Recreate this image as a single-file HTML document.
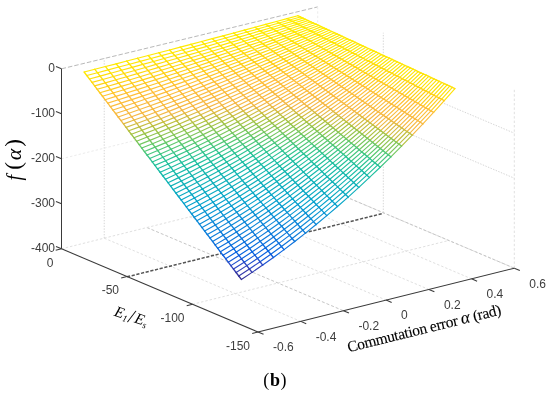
<!DOCTYPE html>
<html><head><meta charset="utf-8"><title>f(α) mesh plot</title>
<style>html,body{margin:0;padding:0;background:#fff}svg{display:block}</style></head>
<body>
<svg width="550" height="395" viewBox="0 0 550 395">
<rect width="550" height="395" fill="#fff"/>
<g fill="none">
<line x1="104.22" y1="238.17" x2="300.72" y2="321.37" stroke="#e0e0e0" stroke-width="1" stroke-dasharray="2.4 2"/>
<line x1="146.93" y1="227.53" x2="343.43" y2="310.73" stroke="#c6c6c6" stroke-width="1" stroke-dasharray="3 2"/>
<line x1="189.65" y1="216.90" x2="386.15" y2="300.10" stroke="#e0e0e0" stroke-width="1" stroke-dasharray="2.4 2"/>
<line x1="232.37" y1="206.27" x2="428.87" y2="289.47" stroke="#e0e0e0" stroke-width="1" stroke-dasharray="2.4 2"/>
<line x1="275.08" y1="195.63" x2="471.58" y2="278.83" stroke="#e0e0e0" stroke-width="1" stroke-dasharray="2.4 2"/>
<line x1="317.80" y1="185.00" x2="514.30" y2="268.20" stroke="#e0e0e0" stroke-width="1" stroke-dasharray="2.4 2"/>
<line x1="192.50" y1="304.27" x2="448.80" y2="240.47" stroke="#e0e0e0" stroke-width="1" stroke-dasharray="2.4 2"/>
<line x1="61.50" y1="248.80" x2="317.80" y2="185.00" stroke="#e0e0e0" stroke-width="1" stroke-dasharray="2.4 2"/>
<line x1="104.22" y1="238.17" x2="104.22" y2="58.17" stroke="#d6d6d6" stroke-width="1" stroke-dasharray="1.4 1.4"/>
<line x1="61.60" y1="68.80" x2="317.70" y2="6.90" stroke="#b9b9b9" stroke-width="1" stroke-dasharray="4.5 2"/>
<line x1="61.50" y1="158.80" x2="317.80" y2="95.00" stroke="#ececec" stroke-width="1" stroke-dasharray="2.4 2"/>
<line x1="317.70" y1="6.90" x2="317.80" y2="185.00" stroke="#ececec" stroke-width="1" stroke-dasharray="2.4 2"/>
<line x1="383.30" y1="212.73" x2="383.30" y2="32.73" stroke="#d6d6d6" stroke-width="1" stroke-dasharray="1.4 1.4"/>
<line x1="514.30" y1="268.20" x2="514.30" y2="88.20" stroke="#e0e0e0" stroke-width="1" stroke-dasharray="2.4 2"/>
<line x1="317.80" y1="50.00" x2="514.30" y2="133.20" stroke="#d6d6d6" stroke-width="1" stroke-dasharray="1.4 1.4"/>
<line x1="317.80" y1="95.00" x2="514.30" y2="178.20" stroke="#d6d6d6" stroke-width="1" stroke-dasharray="1.4 1.4"/>
<line x1="317.80" y1="185.00" x2="514.30" y2="268.20" stroke="#c6c6c6" stroke-width="1" stroke-dasharray="3 2"/>
<line x1="127.00" y1="276.83" x2="383.30" y2="213.33" stroke="#555" stroke-width="1.5" stroke-dasharray="3.2 1.6"/>
</g>
<polygon fill="#fff" points="84.16,72.03 94.84,69.30 105.52,66.56 116.20,63.82 126.87,61.06 137.55,58.29 148.23,55.52 158.91,52.73 169.59,49.94 180.27,47.14 190.95,44.33 201.63,41.50 212.31,38.68 222.99,35.84 233.67,32.99 244.35,30.13 255.02,27.27 265.70,24.39 276.38,21.51 287.06,18.62 297.74,15.72 297.74,15.72 300.36,16.93 302.98,18.15 305.60,19.36 308.22,20.57 310.84,21.79 313.46,23.00 316.08,24.22 318.70,25.43 321.32,26.65 323.94,27.86 326.56,29.07 329.18,30.29 331.80,31.50 334.42,32.72 337.04,33.93 339.66,35.15 342.28,36.36 344.90,37.57 347.52,38.79 350.14,40.00 352.76,41.22 355.38,42.43 358.00,43.65 360.62,44.86 363.24,46.08 365.86,47.29 368.48,48.50 371.10,49.72 373.72,50.93 376.34,52.15 378.96,53.36 381.58,54.58 384.20,55.79 386.82,57.00 389.44,58.22 392.06,59.43 394.68,60.65 397.30,61.86 399.92,63.08 402.54,64.29 405.16,65.50 407.78,66.72 410.40,67.93 413.02,69.15 415.64,70.36 418.26,71.58 420.88,72.79 423.50,74.00 426.12,75.22 428.74,76.43 431.36,77.65 433.98,78.86 436.60,80.08 439.22,81.29 441.84,82.50 444.46,83.72 447.08,84.93 449.70,86.15 452.32,87.36 454.94,88.58 454.94,88.58 444.26,100.60 433.58,112.36 422.90,123.86 412.22,135.10 401.55,146.08 390.87,156.80 380.19,167.26 369.51,177.45 358.83,187.39 348.15,197.06 337.47,206.47 326.79,215.62 316.11,224.52 305.43,233.15 294.75,241.51 284.07,249.62 273.40,257.47 262.72,265.05 252.04,272.38 241.36,279.44 241.36,279.44 238.74,275.99 236.12,272.53 233.50,269.07 230.88,265.62 228.26,262.16 225.64,258.70 223.02,255.25 220.40,251.79 217.78,248.33 215.16,244.88 212.54,241.42 209.92,237.96 207.30,234.50 204.68,231.05 202.06,227.59 199.44,224.13 196.82,220.68 194.20,217.22 191.58,213.76 188.96,210.31 186.34,206.85 183.72,203.39 181.10,199.94 178.48,196.48 175.86,193.02 173.24,189.57 170.62,186.11 168.00,182.65 165.38,179.20 162.76,175.74 160.14,172.28 157.52,168.82 154.90,165.37 152.28,161.91 149.66,158.45 147.04,155.00 144.42,151.54 141.80,148.08 139.18,144.63 136.56,141.17 133.94,137.71 131.32,134.26 128.70,130.80 126.08,127.34 123.46,123.89 120.84,120.43 118.22,116.97 115.60,113.52 112.98,110.06 110.36,106.60 107.74,103.14 105.12,99.69 102.50,96.23 99.88,92.77 97.26,89.32 94.64,85.86 92.02,82.40 89.40,78.95 86.78,75.49 84.16,72.03"/>
<g fill="none" stroke-linecap="round" stroke-width="1.15">
<line x1="84.16" y1="72.03" x2="94.84" y2="69.30" stroke="#ffe804"/>
<line x1="94.84" y1="69.30" x2="105.52" y2="66.56" stroke="#ffe804"/>
<line x1="105.52" y1="66.56" x2="116.20" y2="63.82" stroke="#ffe803"/>
<line x1="116.20" y1="63.82" x2="126.87" y2="61.06" stroke="#ffe803"/>
<line x1="126.87" y1="61.06" x2="137.55" y2="58.29" stroke="#ffe803"/>
<line x1="137.55" y1="58.29" x2="148.23" y2="55.52" stroke="#ffe903"/>
<line x1="148.23" y1="55.52" x2="158.91" y2="52.73" stroke="#ffe903"/>
<line x1="158.91" y1="52.73" x2="169.59" y2="49.94" stroke="#ffe903"/>
<line x1="169.59" y1="49.94" x2="180.27" y2="47.14" stroke="#ffe903"/>
<line x1="180.27" y1="47.14" x2="190.95" y2="44.33" stroke="#ffea02"/>
<line x1="190.95" y1="44.33" x2="201.63" y2="41.50" stroke="#ffea02"/>
<line x1="201.63" y1="41.50" x2="212.31" y2="38.68" stroke="#ffea02"/>
<line x1="212.31" y1="38.68" x2="222.99" y2="35.84" stroke="#ffea02"/>
<line x1="222.99" y1="35.84" x2="233.67" y2="32.99" stroke="#ffeb02"/>
<line x1="233.67" y1="32.99" x2="244.35" y2="30.13" stroke="#ffeb01"/>
<line x1="244.35" y1="30.13" x2="255.02" y2="27.27" stroke="#ffec01"/>
<line x1="255.02" y1="27.27" x2="265.70" y2="24.39" stroke="#ffec01"/>
<line x1="265.70" y1="24.39" x2="276.38" y2="21.51" stroke="#ffec01"/>
<line x1="276.38" y1="21.51" x2="287.06" y2="18.62" stroke="#ffed00"/>
<line x1="287.06" y1="18.62" x2="297.74" y2="15.72" stroke="#ffed00"/>
<line x1="86.78" y1="75.49" x2="97.46" y2="72.69" stroke="#ffe307"/>
<line x1="97.46" y1="72.69" x2="108.14" y2="69.87" stroke="#ffe307"/>
<line x1="108.14" y1="69.87" x2="118.82" y2="67.04" stroke="#ffe406"/>
<line x1="118.82" y1="67.04" x2="129.50" y2="64.20" stroke="#ffe406"/>
<line x1="129.50" y1="64.20" x2="140.17" y2="61.35" stroke="#ffe506"/>
<line x1="140.17" y1="61.35" x2="150.85" y2="58.48" stroke="#ffe505"/>
<line x1="150.85" y1="58.48" x2="161.53" y2="55.60" stroke="#ffe605"/>
<line x1="161.53" y1="55.60" x2="172.21" y2="52.70" stroke="#ffe605"/>
<line x1="172.21" y1="52.70" x2="182.89" y2="49.79" stroke="#ffe704"/>
<line x1="182.89" y1="49.79" x2="193.57" y2="46.87" stroke="#ffe704"/>
<line x1="193.57" y1="46.87" x2="204.25" y2="43.94" stroke="#ffe804"/>
<line x1="204.25" y1="43.94" x2="214.93" y2="40.99" stroke="#ffe803"/>
<line x1="214.93" y1="40.99" x2="225.61" y2="38.03" stroke="#ffe903"/>
<line x1="225.61" y1="38.03" x2="236.29" y2="35.05" stroke="#ffe903"/>
<line x1="236.29" y1="35.05" x2="246.97" y2="32.07" stroke="#ffea02"/>
<line x1="246.97" y1="32.07" x2="257.64" y2="29.07" stroke="#ffea02"/>
<line x1="257.64" y1="29.07" x2="268.32" y2="26.05" stroke="#ffeb01"/>
<line x1="268.32" y1="26.05" x2="279.00" y2="23.02" stroke="#ffec01"/>
<line x1="279.00" y1="23.02" x2="289.68" y2="19.98" stroke="#ffec01"/>
<line x1="289.68" y1="19.98" x2="300.36" y2="16.93" stroke="#ffed00"/>
<line x1="89.40" y1="78.95" x2="100.08" y2="76.07" stroke="#ffde0b"/>
<line x1="100.08" y1="76.07" x2="110.76" y2="73.18" stroke="#ffde0b"/>
<line x1="110.76" y1="73.18" x2="121.44" y2="70.27" stroke="#ffdf0a"/>
<line x1="121.44" y1="70.27" x2="132.11" y2="67.34" stroke="#ffdf0a"/>
<line x1="132.11" y1="67.34" x2="142.79" y2="64.40" stroke="#ffe009"/>
<line x1="142.79" y1="64.40" x2="153.47" y2="61.44" stroke="#ffe109"/>
<line x1="153.47" y1="61.44" x2="164.15" y2="58.46" stroke="#ffe208"/>
<line x1="164.15" y1="58.46" x2="174.83" y2="55.46" stroke="#ffe207"/>
<line x1="174.83" y1="55.46" x2="185.51" y2="52.45" stroke="#ffe307"/>
<line x1="185.51" y1="52.45" x2="196.19" y2="49.42" stroke="#ffe406"/>
<line x1="196.19" y1="49.42" x2="206.87" y2="46.37" stroke="#ffe505"/>
<line x1="206.87" y1="46.37" x2="217.55" y2="43.30" stroke="#ffe605"/>
<line x1="217.55" y1="43.30" x2="228.23" y2="40.22" stroke="#ffe704"/>
<line x1="228.23" y1="40.22" x2="238.91" y2="37.12" stroke="#ffe704"/>
<line x1="238.91" y1="37.12" x2="249.59" y2="34.00" stroke="#ffe803"/>
<line x1="249.59" y1="34.00" x2="260.26" y2="30.86" stroke="#ffe903"/>
<line x1="260.26" y1="30.86" x2="270.94" y2="27.71" stroke="#ffea02"/>
<line x1="270.94" y1="27.71" x2="281.62" y2="24.54" stroke="#ffeb02"/>
<line x1="281.62" y1="24.54" x2="292.30" y2="21.35" stroke="#ffec01"/>
<line x1="292.30" y1="21.35" x2="302.98" y2="18.15" stroke="#ffed00"/>
<line x1="92.02" y1="82.40" x2="102.70" y2="79.46" stroke="#ffd910"/>
<line x1="102.70" y1="79.46" x2="113.38" y2="76.49" stroke="#ffd90f"/>
<line x1="113.38" y1="76.49" x2="124.06" y2="73.50" stroke="#ffda0e"/>
<line x1="124.06" y1="73.50" x2="134.74" y2="70.49" stroke="#ffdb0d"/>
<line x1="134.74" y1="70.49" x2="145.41" y2="67.45" stroke="#ffdc0d"/>
<line x1="145.41" y1="67.45" x2="156.09" y2="64.40" stroke="#ffdc0c"/>
<line x1="156.09" y1="64.40" x2="166.77" y2="61.32" stroke="#ffdd0b"/>
<line x1="166.77" y1="61.32" x2="177.45" y2="58.22" stroke="#ffdf0a"/>
<line x1="177.45" y1="58.22" x2="188.13" y2="55.10" stroke="#ffe00a"/>
<line x1="188.13" y1="55.10" x2="198.81" y2="51.96" stroke="#ffe109"/>
<line x1="198.81" y1="51.96" x2="209.49" y2="48.80" stroke="#ffe208"/>
<line x1="209.49" y1="48.80" x2="220.17" y2="45.61" stroke="#ffe307"/>
<line x1="220.17" y1="45.61" x2="230.85" y2="42.41" stroke="#ffe406"/>
<line x1="230.85" y1="42.41" x2="241.53" y2="39.18" stroke="#ffe605"/>
<line x1="241.53" y1="39.18" x2="252.21" y2="35.93" stroke="#ffe704"/>
<line x1="252.21" y1="35.93" x2="262.88" y2="32.66" stroke="#ffe804"/>
<line x1="262.88" y1="32.66" x2="273.56" y2="29.37" stroke="#ffe903"/>
<line x1="273.56" y1="29.37" x2="284.24" y2="26.05" stroke="#ffea02"/>
<line x1="284.24" y1="26.05" x2="294.92" y2="22.72" stroke="#ffeb01"/>
<line x1="294.92" y1="22.72" x2="305.60" y2="19.36" stroke="#ffed00"/>
<line x1="94.64" y1="85.86" x2="105.32" y2="82.84" stroke="#ffd315"/>
<line x1="105.32" y1="82.84" x2="116.00" y2="79.80" stroke="#ffd414"/>
<line x1="116.00" y1="79.80" x2="126.68" y2="76.73" stroke="#ffd513"/>
<line x1="126.68" y1="76.73" x2="137.35" y2="73.63" stroke="#ffd612"/>
<line x1="137.35" y1="73.63" x2="148.03" y2="70.51" stroke="#ffd711"/>
<line x1="148.03" y1="70.51" x2="158.71" y2="67.36" stroke="#ffd810"/>
<line x1="158.71" y1="67.36" x2="169.39" y2="64.18" stroke="#ffd90f"/>
<line x1="169.39" y1="64.18" x2="180.07" y2="60.98" stroke="#ffdb0d"/>
<line x1="180.07" y1="60.98" x2="190.75" y2="57.76" stroke="#ffdc0c"/>
<line x1="190.75" y1="57.76" x2="201.43" y2="54.51" stroke="#ffdd0b"/>
<line x1="201.43" y1="54.51" x2="212.11" y2="51.23" stroke="#ffdf0a"/>
<line x1="212.11" y1="51.23" x2="222.79" y2="47.93" stroke="#ffe009"/>
<line x1="222.79" y1="47.93" x2="233.47" y2="44.60" stroke="#ffe208"/>
<line x1="233.47" y1="44.60" x2="244.15" y2="41.24" stroke="#ffe407"/>
<line x1="244.15" y1="41.24" x2="254.83" y2="37.86" stroke="#ffe505"/>
<line x1="254.83" y1="37.86" x2="265.50" y2="34.46" stroke="#ffe704"/>
<line x1="265.50" y1="34.46" x2="276.18" y2="31.02" stroke="#ffe803"/>
<line x1="276.18" y1="31.02" x2="286.86" y2="27.57" stroke="#ffe902"/>
<line x1="286.86" y1="27.57" x2="297.54" y2="24.08" stroke="#ffeb02"/>
<line x1="297.54" y1="24.08" x2="308.22" y2="20.57" stroke="#ffec00"/>
<line x1="97.26" y1="89.32" x2="107.94" y2="86.23" stroke="#ffce1a"/>
<line x1="107.94" y1="86.23" x2="118.62" y2="83.10" stroke="#ffcf19"/>
<line x1="118.62" y1="83.10" x2="129.30" y2="79.95" stroke="#ffd118"/>
<line x1="129.30" y1="79.95" x2="139.97" y2="76.77" stroke="#ffd216"/>
<line x1="139.97" y1="76.77" x2="150.65" y2="73.56" stroke="#ffd315"/>
<line x1="150.65" y1="73.56" x2="161.33" y2="70.32" stroke="#ffd414"/>
<line x1="161.33" y1="70.32" x2="172.01" y2="67.05" stroke="#ffd612"/>
<line x1="172.01" y1="67.05" x2="182.69" y2="63.75" stroke="#ffd711"/>
<line x1="182.69" y1="63.75" x2="193.37" y2="60.41" stroke="#ffd810"/>
<line x1="193.37" y1="60.41" x2="204.05" y2="57.05" stroke="#ffda0e"/>
<line x1="204.05" y1="57.05" x2="214.73" y2="53.66" stroke="#ffdc0c"/>
<line x1="214.73" y1="53.66" x2="225.41" y2="50.24" stroke="#ffdd0b"/>
<line x1="225.41" y1="50.24" x2="236.09" y2="46.79" stroke="#ffdf0a"/>
<line x1="236.09" y1="46.79" x2="246.77" y2="43.31" stroke="#ffe108"/>
<line x1="246.77" y1="43.31" x2="257.45" y2="39.80" stroke="#ffe307"/>
<line x1="257.45" y1="39.80" x2="268.12" y2="36.25" stroke="#ffe505"/>
<line x1="268.12" y1="36.25" x2="278.80" y2="32.68" stroke="#ffe704"/>
<line x1="278.80" y1="32.68" x2="289.48" y2="29.08" stroke="#ffe903"/>
<line x1="289.48" y1="29.08" x2="300.16" y2="25.45" stroke="#ffea02"/>
<line x1="300.16" y1="25.45" x2="310.84" y2="21.79" stroke="#ffec01"/>
<line x1="99.88" y1="92.77" x2="110.56" y2="89.61" stroke="#ffca23"/>
<line x1="110.56" y1="89.61" x2="121.24" y2="86.41" stroke="#ffcb21"/>
<line x1="121.24" y1="86.41" x2="131.92" y2="83.18" stroke="#ffcc1f"/>
<line x1="131.92" y1="83.18" x2="142.59" y2="79.91" stroke="#ffcd1c"/>
<line x1="142.59" y1="79.91" x2="153.27" y2="76.61" stroke="#ffcf19"/>
<line x1="153.27" y1="76.61" x2="163.95" y2="73.28" stroke="#ffd018"/>
<line x1="163.95" y1="73.28" x2="174.63" y2="69.91" stroke="#ffd216"/>
<line x1="174.63" y1="69.91" x2="185.31" y2="66.51" stroke="#ffd315"/>
<line x1="185.31" y1="66.51" x2="195.99" y2="63.07" stroke="#ffd513"/>
<line x1="195.99" y1="63.07" x2="206.67" y2="59.60" stroke="#ffd711"/>
<line x1="206.67" y1="59.60" x2="217.35" y2="56.09" stroke="#ffd90f"/>
<line x1="217.35" y1="56.09" x2="228.03" y2="52.55" stroke="#ffdb0d"/>
<line x1="228.03" y1="52.55" x2="238.71" y2="48.98" stroke="#ffdd0c"/>
<line x1="238.71" y1="48.98" x2="249.39" y2="45.37" stroke="#ffdf0a"/>
<line x1="249.39" y1="45.37" x2="260.07" y2="41.73" stroke="#ffe108"/>
<line x1="260.07" y1="41.73" x2="270.74" y2="38.05" stroke="#ffe406"/>
<line x1="270.74" y1="38.05" x2="281.42" y2="34.34" stroke="#ffe605"/>
<line x1="281.42" y1="34.34" x2="292.10" y2="30.60" stroke="#ffe803"/>
<line x1="292.10" y1="30.60" x2="302.78" y2="26.82" stroke="#ffea02"/>
<line x1="302.78" y1="26.82" x2="313.46" y2="23.00" stroke="#ffec01"/>
<line x1="102.50" y1="96.23" x2="113.18" y2="93.00" stroke="#ffc52d"/>
<line x1="113.18" y1="93.00" x2="123.86" y2="89.72" stroke="#ffc62a"/>
<line x1="123.86" y1="89.72" x2="134.54" y2="86.41" stroke="#ffc728"/>
<line x1="134.54" y1="86.41" x2="145.22" y2="83.06" stroke="#ffc925"/>
<line x1="145.22" y1="83.06" x2="155.89" y2="79.67" stroke="#ffca22"/>
<line x1="155.89" y1="79.67" x2="166.57" y2="76.24" stroke="#ffcc1e"/>
<line x1="166.57" y1="76.24" x2="177.25" y2="72.77" stroke="#ffce1b"/>
<line x1="177.25" y1="72.77" x2="187.93" y2="69.27" stroke="#ffd018"/>
<line x1="187.93" y1="69.27" x2="198.61" y2="65.73" stroke="#ffd216"/>
<line x1="198.61" y1="65.73" x2="209.29" y2="62.14" stroke="#ffd414"/>
<line x1="209.29" y1="62.14" x2="219.97" y2="58.52" stroke="#ffd612"/>
<line x1="219.97" y1="58.52" x2="230.65" y2="54.87" stroke="#ffd810"/>
<line x1="230.65" y1="54.87" x2="241.33" y2="51.17" stroke="#ffda0e"/>
<line x1="241.33" y1="51.17" x2="252.01" y2="47.43" stroke="#ffdd0c"/>
<line x1="252.01" y1="47.43" x2="262.69" y2="43.66" stroke="#ffdf0a"/>
<line x1="262.69" y1="43.66" x2="273.36" y2="39.85" stroke="#ffe208"/>
<line x1="273.36" y1="39.85" x2="284.04" y2="36.00" stroke="#ffe505"/>
<line x1="284.04" y1="36.00" x2="294.72" y2="32.11" stroke="#ffe704"/>
<line x1="294.72" y1="32.11" x2="305.40" y2="28.18" stroke="#ffea02"/>
<line x1="305.40" y1="28.18" x2="316.08" y2="24.22" stroke="#ffec01"/>
<line x1="105.12" y1="99.69" x2="115.80" y2="96.38" stroke="#ffc037"/>
<line x1="115.80" y1="96.38" x2="126.48" y2="93.03" stroke="#ffc134"/>
<line x1="126.48" y1="93.03" x2="137.16" y2="89.64" stroke="#ffc331"/>
<line x1="137.16" y1="89.64" x2="147.84" y2="86.20" stroke="#ffc52d"/>
<line x1="147.84" y1="86.20" x2="158.51" y2="82.72" stroke="#ffc62a"/>
<line x1="158.51" y1="82.72" x2="169.19" y2="79.20" stroke="#ffc826"/>
<line x1="169.19" y1="79.20" x2="179.87" y2="75.64" stroke="#ffca22"/>
<line x1="179.87" y1="75.64" x2="190.55" y2="72.03" stroke="#ffcc1e"/>
<line x1="190.55" y1="72.03" x2="201.23" y2="68.38" stroke="#ffce1a"/>
<line x1="201.23" y1="68.38" x2="211.91" y2="64.69" stroke="#ffd118"/>
<line x1="211.91" y1="64.69" x2="222.59" y2="60.96" stroke="#ffd315"/>
<line x1="222.59" y1="60.96" x2="233.27" y2="57.18" stroke="#ffd513"/>
<line x1="233.27" y1="57.18" x2="243.95" y2="53.36" stroke="#ffd810"/>
<line x1="243.95" y1="53.36" x2="254.63" y2="49.50" stroke="#ffdb0d"/>
<line x1="254.63" y1="49.50" x2="265.31" y2="45.59" stroke="#ffdd0b"/>
<line x1="265.31" y1="45.59" x2="275.98" y2="41.65" stroke="#ffe109"/>
<line x1="275.98" y1="41.65" x2="286.66" y2="37.66" stroke="#ffe406"/>
<line x1="286.66" y1="37.66" x2="297.34" y2="33.62" stroke="#ffe704"/>
<line x1="297.34" y1="33.62" x2="308.02" y2="29.55" stroke="#ffe903"/>
<line x1="308.02" y1="29.55" x2="318.70" y2="25.43" stroke="#ffec01"/>
<line x1="107.74" y1="103.14" x2="118.42" y2="99.76" stroke="#febe3a"/>
<line x1="118.42" y1="99.76" x2="129.10" y2="96.34" stroke="#febf39"/>
<line x1="129.10" y1="96.34" x2="139.78" y2="92.86" stroke="#ffbf38"/>
<line x1="139.78" y1="92.86" x2="150.46" y2="89.34" stroke="#ffc036"/>
<line x1="150.46" y1="89.34" x2="161.13" y2="85.78" stroke="#ffc232"/>
<line x1="161.13" y1="85.78" x2="171.81" y2="82.16" stroke="#ffc42e"/>
<line x1="171.81" y1="82.16" x2="182.49" y2="78.50" stroke="#ffc62a"/>
<line x1="182.49" y1="78.50" x2="193.17" y2="74.79" stroke="#ffc925"/>
<line x1="193.17" y1="74.79" x2="203.85" y2="71.04" stroke="#ffcb21"/>
<line x1="203.85" y1="71.04" x2="214.53" y2="67.24" stroke="#ffcd1c"/>
<line x1="214.53" y1="67.24" x2="225.21" y2="63.39" stroke="#ffd018"/>
<line x1="225.21" y1="63.39" x2="235.89" y2="59.49" stroke="#ffd315"/>
<line x1="235.89" y1="59.49" x2="246.57" y2="55.55" stroke="#ffd613"/>
<line x1="246.57" y1="55.55" x2="257.25" y2="51.56" stroke="#ffd810"/>
<line x1="257.25" y1="51.56" x2="267.93" y2="47.53" stroke="#ffdc0d"/>
<line x1="267.93" y1="47.53" x2="278.60" y2="43.44" stroke="#ffdf0a"/>
<line x1="278.60" y1="43.44" x2="289.28" y2="39.31" stroke="#ffe207"/>
<line x1="289.28" y1="39.31" x2="299.96" y2="35.14" stroke="#ffe605"/>
<line x1="299.96" y1="35.14" x2="310.64" y2="30.92" stroke="#ffe903"/>
<line x1="310.64" y1="30.92" x2="321.32" y2="26.65" stroke="#ffeb01"/>
<line x1="110.36" y1="106.60" x2="121.04" y2="103.15" stroke="#fcbd3c"/>
<line x1="121.04" y1="103.15" x2="131.72" y2="99.65" stroke="#fcbd3b"/>
<line x1="131.72" y1="99.65" x2="142.40" y2="96.09" stroke="#fdbe3a"/>
<line x1="142.40" y1="96.09" x2="153.07" y2="92.49" stroke="#febe3a"/>
<line x1="153.07" y1="92.49" x2="163.75" y2="88.83" stroke="#ffbf39"/>
<line x1="163.75" y1="88.83" x2="174.43" y2="85.12" stroke="#ffc036"/>
<line x1="174.43" y1="85.12" x2="185.11" y2="81.36" stroke="#ffc331"/>
<line x1="185.11" y1="81.36" x2="195.79" y2="77.55" stroke="#ffc52c"/>
<line x1="195.79" y1="77.55" x2="206.47" y2="73.69" stroke="#ffc827"/>
<line x1="206.47" y1="73.69" x2="217.15" y2="69.78" stroke="#ffca22"/>
<line x1="217.15" y1="69.78" x2="227.83" y2="65.82" stroke="#ffcd1c"/>
<line x1="227.83" y1="65.82" x2="238.51" y2="61.80" stroke="#ffd018"/>
<line x1="238.51" y1="61.80" x2="249.19" y2="57.74" stroke="#ffd315"/>
<line x1="249.19" y1="57.74" x2="259.87" y2="53.62" stroke="#ffd612"/>
<line x1="259.87" y1="53.62" x2="270.55" y2="49.46" stroke="#ffda0e"/>
<line x1="270.55" y1="49.46" x2="281.22" y2="45.24" stroke="#ffdd0b"/>
<line x1="281.22" y1="45.24" x2="291.90" y2="40.97" stroke="#ffe108"/>
<line x1="291.90" y1="40.97" x2="302.58" y2="36.65" stroke="#ffe505"/>
<line x1="302.58" y1="36.65" x2="313.26" y2="32.28" stroke="#ffe803"/>
<line x1="313.26" y1="32.28" x2="323.94" y2="27.86" stroke="#ffeb01"/>
<line x1="112.98" y1="110.06" x2="123.66" y2="106.53" stroke="#fabc3e"/>
<line x1="123.66" y1="106.53" x2="134.34" y2="102.95" stroke="#fbbc3d"/>
<line x1="134.34" y1="102.95" x2="145.02" y2="99.32" stroke="#fcbd3c"/>
<line x1="145.02" y1="99.32" x2="155.69" y2="95.63" stroke="#fcbd3b"/>
<line x1="155.69" y1="95.63" x2="166.37" y2="91.88" stroke="#fdbe3a"/>
<line x1="166.37" y1="91.88" x2="177.05" y2="88.08" stroke="#febe39"/>
<line x1="177.05" y1="88.08" x2="187.73" y2="84.23" stroke="#ffbf38"/>
<line x1="187.73" y1="84.23" x2="198.41" y2="80.31" stroke="#ffc233"/>
<line x1="198.41" y1="80.31" x2="209.09" y2="76.35" stroke="#ffc42e"/>
<line x1="209.09" y1="76.35" x2="219.77" y2="72.33" stroke="#ffc728"/>
<line x1="219.77" y1="72.33" x2="230.45" y2="68.25" stroke="#ffca22"/>
<line x1="230.45" y1="68.25" x2="241.13" y2="64.12" stroke="#ffcd1c"/>
<line x1="241.13" y1="64.12" x2="251.81" y2="59.93" stroke="#ffd117"/>
<line x1="251.81" y1="59.93" x2="262.49" y2="55.69" stroke="#ffd414"/>
<line x1="262.49" y1="55.69" x2="273.17" y2="51.39" stroke="#ffd810"/>
<line x1="273.17" y1="51.39" x2="283.84" y2="47.04" stroke="#ffdc0c"/>
<line x1="283.84" y1="47.04" x2="294.52" y2="42.63" stroke="#ffe009"/>
<line x1="294.52" y1="42.63" x2="305.20" y2="38.17" stroke="#ffe406"/>
<line x1="305.20" y1="38.17" x2="315.88" y2="33.65" stroke="#ffe804"/>
<line x1="315.88" y1="33.65" x2="326.56" y2="29.07" stroke="#ffeb01"/>
<line x1="115.60" y1="113.52" x2="126.28" y2="109.92" stroke="#f8ba40"/>
<line x1="126.28" y1="109.92" x2="136.96" y2="106.26" stroke="#f9bb3f"/>
<line x1="136.96" y1="106.26" x2="147.64" y2="102.55" stroke="#fabb3e"/>
<line x1="147.64" y1="102.55" x2="158.31" y2="98.77" stroke="#fbbc3d"/>
<line x1="158.31" y1="98.77" x2="168.99" y2="94.94" stroke="#fcbd3c"/>
<line x1="168.99" y1="94.94" x2="179.67" y2="91.04" stroke="#fdbd3b"/>
<line x1="179.67" y1="91.04" x2="190.35" y2="87.09" stroke="#febe3a"/>
<line x1="190.35" y1="87.09" x2="201.03" y2="83.08" stroke="#ffbf39"/>
<line x1="201.03" y1="83.08" x2="211.71" y2="79.00" stroke="#ffc134"/>
<line x1="211.71" y1="79.00" x2="222.39" y2="74.87" stroke="#ffc42e"/>
<line x1="222.39" y1="74.87" x2="233.07" y2="70.68" stroke="#ffc728"/>
<line x1="233.07" y1="70.68" x2="243.75" y2="66.43" stroke="#ffcb21"/>
<line x1="243.75" y1="66.43" x2="254.43" y2="62.12" stroke="#ffce1a"/>
<line x1="254.43" y1="62.12" x2="265.11" y2="57.75" stroke="#ffd216"/>
<line x1="265.11" y1="57.75" x2="275.79" y2="53.32" stroke="#ffd612"/>
<line x1="275.79" y1="53.32" x2="286.46" y2="48.83" stroke="#ffda0e"/>
<line x1="286.46" y1="48.83" x2="297.14" y2="44.29" stroke="#ffdf0a"/>
<line x1="297.14" y1="44.29" x2="307.82" y2="39.68" stroke="#ffe307"/>
<line x1="307.82" y1="39.68" x2="318.50" y2="35.01" stroke="#ffe704"/>
<line x1="318.50" y1="35.01" x2="329.18" y2="30.29" stroke="#ffeb01"/>
<line x1="118.22" y1="116.97" x2="128.90" y2="113.30" stroke="#f7b943"/>
<line x1="128.90" y1="113.30" x2="139.58" y2="109.57" stroke="#f7ba42"/>
<line x1="139.58" y1="109.57" x2="150.26" y2="105.77" stroke="#f8ba40"/>
<line x1="150.26" y1="105.77" x2="160.94" y2="101.91" stroke="#f9bb3f"/>
<line x1="160.94" y1="101.91" x2="171.61" y2="97.99" stroke="#fabc3e"/>
<line x1="171.61" y1="97.99" x2="182.29" y2="94.00" stroke="#fbbc3d"/>
<line x1="182.29" y1="94.00" x2="192.97" y2="89.95" stroke="#fcbd3c"/>
<line x1="192.97" y1="89.95" x2="203.65" y2="85.84" stroke="#fdbe3a"/>
<line x1="203.65" y1="85.84" x2="214.33" y2="81.66" stroke="#febf39"/>
<line x1="214.33" y1="81.66" x2="225.01" y2="77.42" stroke="#ffc134"/>
<line x1="225.01" y1="77.42" x2="235.69" y2="73.11" stroke="#ffc52d"/>
<line x1="235.69" y1="73.11" x2="246.37" y2="68.74" stroke="#ffc826"/>
<line x1="246.37" y1="68.74" x2="257.05" y2="64.31" stroke="#ffcc1e"/>
<line x1="257.05" y1="64.31" x2="267.73" y2="59.81" stroke="#ffd018"/>
<line x1="267.73" y1="59.81" x2="278.41" y2="55.26" stroke="#ffd414"/>
<line x1="278.41" y1="55.26" x2="289.08" y2="50.63" stroke="#ffd90f"/>
<line x1="289.08" y1="50.63" x2="299.76" y2="45.95" stroke="#ffdd0b"/>
<line x1="299.76" y1="45.95" x2="310.44" y2="41.19" stroke="#ffe208"/>
<line x1="310.44" y1="41.19" x2="321.12" y2="36.38" stroke="#ffe704"/>
<line x1="321.12" y1="36.38" x2="331.80" y2="31.50" stroke="#ffeb02"/>
<line x1="120.84" y1="120.43" x2="131.52" y2="116.69" stroke="#f5b845"/>
<line x1="131.52" y1="116.69" x2="142.20" y2="112.88" stroke="#f6b844"/>
<line x1="142.20" y1="112.88" x2="152.88" y2="109.00" stroke="#f7b942"/>
<line x1="152.88" y1="109.00" x2="163.56" y2="105.06" stroke="#f8ba41"/>
<line x1="163.56" y1="105.06" x2="174.23" y2="101.04" stroke="#f9bb40"/>
<line x1="174.23" y1="101.04" x2="184.91" y2="96.96" stroke="#fabb3f"/>
<line x1="184.91" y1="96.96" x2="195.59" y2="92.81" stroke="#fbbc3d"/>
<line x1="195.59" y1="92.81" x2="206.27" y2="88.60" stroke="#fcbd3c"/>
<line x1="206.27" y1="88.60" x2="216.95" y2="84.31" stroke="#fdbe3a"/>
<line x1="216.95" y1="84.31" x2="227.63" y2="79.96" stroke="#ffbf39"/>
<line x1="227.63" y1="79.96" x2="238.31" y2="75.54" stroke="#ffc233"/>
<line x1="238.31" y1="75.54" x2="248.99" y2="71.06" stroke="#ffc62b"/>
<line x1="248.99" y1="71.06" x2="259.67" y2="66.50" stroke="#ffca23"/>
<line x1="259.67" y1="66.50" x2="270.35" y2="61.88" stroke="#ffce1b"/>
<line x1="270.35" y1="61.88" x2="281.03" y2="57.19" stroke="#ffd216"/>
<line x1="281.03" y1="57.19" x2="291.70" y2="52.43" stroke="#ffd711"/>
<line x1="291.70" y1="52.43" x2="302.38" y2="47.60" stroke="#ffdc0c"/>
<line x1="302.38" y1="47.60" x2="313.06" y2="42.71" stroke="#ffe108"/>
<line x1="313.06" y1="42.71" x2="323.74" y2="37.75" stroke="#ffe605"/>
<line x1="323.74" y1="37.75" x2="334.42" y2="32.72" stroke="#ffeb02"/>
<line x1="123.46" y1="123.89" x2="134.14" y2="120.07" stroke="#e2ba44"/>
<line x1="134.14" y1="120.07" x2="144.82" y2="116.19" stroke="#edb944"/>
<line x1="144.82" y1="116.19" x2="155.50" y2="112.23" stroke="#f5b844"/>
<line x1="155.50" y1="112.23" x2="166.17" y2="108.20" stroke="#f6b943"/>
<line x1="166.17" y1="108.20" x2="176.85" y2="104.10" stroke="#f7b942"/>
<line x1="176.85" y1="104.10" x2="187.53" y2="99.92" stroke="#f8ba40"/>
<line x1="187.53" y1="99.92" x2="198.21" y2="95.68" stroke="#fabb3f"/>
<line x1="198.21" y1="95.68" x2="208.89" y2="91.36" stroke="#fbbc3d"/>
<line x1="208.89" y1="91.36" x2="219.57" y2="86.97" stroke="#fcbd3c"/>
<line x1="219.57" y1="86.97" x2="230.25" y2="82.51" stroke="#febe3a"/>
<line x1="230.25" y1="82.51" x2="240.93" y2="77.98" stroke="#ffbf38"/>
<line x1="240.93" y1="77.98" x2="251.61" y2="73.37" stroke="#ffc330"/>
<line x1="251.61" y1="73.37" x2="262.29" y2="68.69" stroke="#ffc728"/>
<line x1="262.29" y1="68.69" x2="272.97" y2="63.94" stroke="#ffcc1f"/>
<line x1="272.97" y1="63.94" x2="283.65" y2="59.12" stroke="#ffd117"/>
<line x1="283.65" y1="59.12" x2="294.32" y2="54.23" stroke="#ffd612"/>
<line x1="294.32" y1="54.23" x2="305.00" y2="49.26" stroke="#ffdb0d"/>
<line x1="305.00" y1="49.26" x2="315.68" y2="44.22" stroke="#ffe009"/>
<line x1="315.68" y1="44.22" x2="326.36" y2="39.11" stroke="#ffe605"/>
<line x1="326.36" y1="39.11" x2="337.04" y2="33.93" stroke="#ffea02"/>
<line x1="126.08" y1="127.34" x2="136.76" y2="123.46" stroke="#cebd42"/>
<line x1="136.76" y1="123.46" x2="147.44" y2="119.49" stroke="#dabb43"/>
<line x1="147.44" y1="119.49" x2="158.12" y2="115.46" stroke="#e6ba44"/>
<line x1="158.12" y1="115.46" x2="168.80" y2="111.34" stroke="#f3b845"/>
<line x1="168.80" y1="111.34" x2="179.47" y2="107.15" stroke="#f6b844"/>
<line x1="179.47" y1="107.15" x2="190.15" y2="102.88" stroke="#f7b942"/>
<line x1="190.15" y1="102.88" x2="200.83" y2="98.54" stroke="#f8ba40"/>
<line x1="200.83" y1="98.54" x2="211.51" y2="94.12" stroke="#fabb3f"/>
<line x1="211.51" y1="94.12" x2="222.19" y2="89.63" stroke="#fbbc3d"/>
<line x1="222.19" y1="89.63" x2="232.87" y2="85.05" stroke="#fcbd3b"/>
<line x1="232.87" y1="85.05" x2="243.55" y2="80.41" stroke="#febe39"/>
<line x1="243.55" y1="80.41" x2="254.23" y2="75.68" stroke="#ffc135"/>
<line x1="254.23" y1="75.68" x2="264.91" y2="70.88" stroke="#ffc52c"/>
<line x1="264.91" y1="70.88" x2="275.59" y2="66.01" stroke="#ffca23"/>
<line x1="275.59" y1="66.01" x2="286.27" y2="61.05" stroke="#ffcf19"/>
<line x1="286.27" y1="61.05" x2="296.94" y2="56.02" stroke="#ffd414"/>
<line x1="296.94" y1="56.02" x2="307.62" y2="50.92" stroke="#ffd90f"/>
<line x1="307.62" y1="50.92" x2="318.30" y2="45.74" stroke="#ffdf0a"/>
<line x1="318.30" y1="45.74" x2="328.98" y2="40.48" stroke="#ffe505"/>
<line x1="328.98" y1="40.48" x2="339.66" y2="35.15" stroke="#ffea02"/>
<line x1="128.70" y1="130.80" x2="139.38" y2="126.84" stroke="#bac041"/>
<line x1="139.38" y1="126.84" x2="150.06" y2="122.80" stroke="#c6be42"/>
<line x1="150.06" y1="122.80" x2="160.74" y2="118.68" stroke="#d3bc42"/>
<line x1="160.74" y1="118.68" x2="171.41" y2="114.48" stroke="#e1ba43"/>
<line x1="171.41" y1="114.48" x2="182.09" y2="110.20" stroke="#efb844"/>
<line x1="182.09" y1="110.20" x2="192.77" y2="105.84" stroke="#f6b844"/>
<line x1="192.77" y1="105.84" x2="203.45" y2="101.40" stroke="#f7b942"/>
<line x1="203.45" y1="101.40" x2="214.13" y2="96.88" stroke="#f8ba40"/>
<line x1="214.13" y1="96.88" x2="224.81" y2="92.28" stroke="#fabb3f"/>
<line x1="224.81" y1="92.28" x2="235.49" y2="87.60" stroke="#fbbd3d"/>
<line x1="235.49" y1="87.60" x2="246.17" y2="82.84" stroke="#fdbe3b"/>
<line x1="246.17" y1="82.84" x2="256.85" y2="78.00" stroke="#ffbf39"/>
<line x1="256.85" y1="78.00" x2="267.53" y2="73.07" stroke="#ffc331"/>
<line x1="267.53" y1="73.07" x2="278.21" y2="68.07" stroke="#ffc827"/>
<line x1="278.21" y1="68.07" x2="288.89" y2="62.99" stroke="#ffcd1d"/>
<line x1="288.89" y1="62.99" x2="299.56" y2="57.82" stroke="#ffd316"/>
<line x1="299.56" y1="57.82" x2="310.24" y2="52.58" stroke="#ffd810"/>
<line x1="310.24" y1="52.58" x2="320.92" y2="47.25" stroke="#ffde0a"/>
<line x1="320.92" y1="47.25" x2="331.60" y2="41.85" stroke="#ffe506"/>
<line x1="331.60" y1="41.85" x2="342.28" y2="36.36" stroke="#ffea02"/>
<line x1="131.32" y1="134.26" x2="142.00" y2="130.23" stroke="#a7c243"/>
<line x1="142.00" y1="130.23" x2="152.68" y2="126.11" stroke="#b3c140"/>
<line x1="152.68" y1="126.11" x2="163.36" y2="121.91" stroke="#c1bf41"/>
<line x1="163.36" y1="121.91" x2="174.03" y2="117.63" stroke="#cfbd42"/>
<line x1="174.03" y1="117.63" x2="184.71" y2="113.26" stroke="#debb43"/>
<line x1="184.71" y1="113.26" x2="195.39" y2="108.81" stroke="#eeb944"/>
<line x1="195.39" y1="108.81" x2="206.07" y2="104.27" stroke="#f6b844"/>
<line x1="206.07" y1="104.27" x2="216.75" y2="99.64" stroke="#f7b942"/>
<line x1="216.75" y1="99.64" x2="227.43" y2="94.94" stroke="#f9ba40"/>
<line x1="227.43" y1="94.94" x2="238.11" y2="90.15" stroke="#fabc3e"/>
<line x1="238.11" y1="90.15" x2="248.79" y2="85.27" stroke="#fcbd3c"/>
<line x1="248.79" y1="85.27" x2="259.47" y2="80.31" stroke="#febe3a"/>
<line x1="259.47" y1="80.31" x2="270.15" y2="75.26" stroke="#ffc135"/>
<line x1="270.15" y1="75.26" x2="280.83" y2="70.13" stroke="#ffc62b"/>
<line x1="280.83" y1="70.13" x2="291.51" y2="64.92" stroke="#ffcb20"/>
<line x1="291.51" y1="64.92" x2="302.19" y2="59.62" stroke="#ffd117"/>
<line x1="302.19" y1="59.62" x2="312.86" y2="54.23" stroke="#ffd711"/>
<line x1="312.86" y1="54.23" x2="323.54" y2="48.77" stroke="#ffdd0b"/>
<line x1="323.54" y1="48.77" x2="334.22" y2="43.21" stroke="#ffe406"/>
<line x1="334.22" y1="43.21" x2="344.90" y2="37.57" stroke="#ffea02"/>
<line x1="133.94" y1="137.71" x2="144.62" y2="133.61" stroke="#96c44d"/>
<line x1="144.62" y1="133.61" x2="155.30" y2="129.42" stroke="#a1c347"/>
<line x1="155.30" y1="129.42" x2="165.98" y2="125.14" stroke="#aec240"/>
<line x1="165.98" y1="125.14" x2="176.66" y2="120.77" stroke="#bdc041"/>
<line x1="176.66" y1="120.77" x2="187.33" y2="116.31" stroke="#cdbd42"/>
<line x1="187.33" y1="116.31" x2="198.01" y2="111.77" stroke="#debb43"/>
<line x1="198.01" y1="111.77" x2="208.69" y2="107.13" stroke="#efb844"/>
<line x1="208.69" y1="107.13" x2="219.37" y2="102.41" stroke="#f6b844"/>
<line x1="219.37" y1="102.41" x2="230.05" y2="97.59" stroke="#f7ba41"/>
<line x1="230.05" y1="97.59" x2="240.73" y2="92.69" stroke="#f9bb3f"/>
<line x1="240.73" y1="92.69" x2="251.41" y2="87.70" stroke="#fbbc3d"/>
<line x1="251.41" y1="87.70" x2="262.09" y2="82.62" stroke="#fdbe3b"/>
<line x1="262.09" y1="82.62" x2="272.77" y2="77.45" stroke="#ffbf39"/>
<line x1="272.77" y1="77.45" x2="283.45" y2="72.20" stroke="#ffc42f"/>
<line x1="283.45" y1="72.20" x2="294.13" y2="66.85" stroke="#ffca24"/>
<line x1="294.13" y1="66.85" x2="304.81" y2="61.42" stroke="#ffcf19"/>
<line x1="304.81" y1="61.42" x2="315.48" y2="55.89" stroke="#ffd612"/>
<line x1="315.48" y1="55.89" x2="326.16" y2="50.28" stroke="#ffdc0c"/>
<line x1="326.16" y1="50.28" x2="336.84" y2="44.58" stroke="#ffe407"/>
<line x1="336.84" y1="44.58" x2="347.52" y2="38.79" stroke="#ffea02"/>
<line x1="136.56" y1="141.17" x2="147.24" y2="137.00" stroke="#85c657"/>
<line x1="147.24" y1="137.00" x2="157.92" y2="132.73" stroke="#91c550"/>
<line x1="157.92" y1="132.73" x2="168.60" y2="128.37" stroke="#9ec349"/>
<line x1="168.60" y1="128.37" x2="179.28" y2="123.91" stroke="#abc241"/>
<line x1="179.28" y1="123.91" x2="189.95" y2="119.37" stroke="#bcc041"/>
<line x1="189.95" y1="119.37" x2="200.63" y2="114.73" stroke="#cdbd42"/>
<line x1="200.63" y1="114.73" x2="211.31" y2="109.99" stroke="#e0bb43"/>
<line x1="211.31" y1="109.99" x2="221.99" y2="105.17" stroke="#f3b845"/>
<line x1="221.99" y1="105.17" x2="232.67" y2="100.25" stroke="#f6b943"/>
<line x1="232.67" y1="100.25" x2="243.35" y2="95.24" stroke="#f8ba41"/>
<line x1="243.35" y1="95.24" x2="254.03" y2="90.13" stroke="#fabb3e"/>
<line x1="254.03" y1="90.13" x2="264.71" y2="84.93" stroke="#fcbd3c"/>
<line x1="264.71" y1="84.93" x2="275.39" y2="79.64" stroke="#febe3a"/>
<line x1="275.39" y1="79.64" x2="286.07" y2="74.26" stroke="#ffc233"/>
<line x1="286.07" y1="74.26" x2="296.75" y2="68.78" stroke="#ffc827"/>
<line x1="296.75" y1="68.78" x2="307.43" y2="63.21" stroke="#ffce1b"/>
<line x1="307.43" y1="63.21" x2="318.10" y2="57.55" stroke="#ffd513"/>
<line x1="318.10" y1="57.55" x2="328.78" y2="51.79" stroke="#ffdb0d"/>
<line x1="328.78" y1="51.79" x2="339.46" y2="45.95" stroke="#ffe307"/>
<line x1="339.46" y1="45.95" x2="350.14" y2="40.00" stroke="#ffe902"/>
<line x1="139.18" y1="144.63" x2="149.86" y2="140.38" stroke="#73c861"/>
<line x1="149.86" y1="140.38" x2="160.54" y2="136.04" stroke="#80c659"/>
<line x1="160.54" y1="136.04" x2="171.22" y2="131.59" stroke="#8ec552"/>
<line x1="171.22" y1="131.59" x2="181.90" y2="127.06" stroke="#9cc44a"/>
<line x1="181.90" y1="127.06" x2="192.57" y2="122.42" stroke="#abc241"/>
<line x1="192.57" y1="122.42" x2="203.25" y2="117.69" stroke="#bdc041"/>
<line x1="203.25" y1="117.69" x2="213.93" y2="112.86" stroke="#d0bd42"/>
<line x1="213.93" y1="112.86" x2="224.61" y2="107.93" stroke="#e4ba44"/>
<line x1="224.61" y1="107.93" x2="235.29" y2="102.90" stroke="#f5b844"/>
<line x1="235.29" y1="102.90" x2="245.97" y2="97.78" stroke="#f7b942"/>
<line x1="245.97" y1="97.78" x2="256.65" y2="92.56" stroke="#f9bb40"/>
<line x1="256.65" y1="92.56" x2="267.33" y2="87.25" stroke="#fbbc3d"/>
<line x1="267.33" y1="87.25" x2="278.01" y2="81.83" stroke="#fdbe3b"/>
<line x1="278.01" y1="81.83" x2="288.69" y2="76.32" stroke="#ffc037"/>
<line x1="288.69" y1="76.32" x2="299.37" y2="70.71" stroke="#ffc62b"/>
<line x1="299.37" y1="70.71" x2="310.05" y2="65.01" stroke="#ffcd1e"/>
<line x1="310.05" y1="65.01" x2="320.72" y2="59.21" stroke="#ffd315"/>
<line x1="320.72" y1="59.21" x2="331.40" y2="53.31" stroke="#ffdb0e"/>
<line x1="331.40" y1="53.31" x2="342.08" y2="47.31" stroke="#ffe207"/>
<line x1="342.08" y1="47.31" x2="352.76" y2="41.22" stroke="#ffe903"/>
<line x1="141.80" y1="148.08" x2="152.48" y2="143.76" stroke="#62c96a"/>
<line x1="152.48" y1="143.76" x2="163.16" y2="139.34" stroke="#6fc863"/>
<line x1="163.16" y1="139.34" x2="173.84" y2="134.82" stroke="#7ec75b"/>
<line x1="173.84" y1="134.82" x2="184.51" y2="130.20" stroke="#8cc552"/>
<line x1="184.51" y1="130.20" x2="195.19" y2="125.47" stroke="#9cc44a"/>
<line x1="195.19" y1="125.47" x2="205.87" y2="120.65" stroke="#adc240"/>
<line x1="205.87" y1="120.65" x2="216.55" y2="115.72" stroke="#c1bf41"/>
<line x1="216.55" y1="115.72" x2="227.23" y2="110.69" stroke="#d6bc43"/>
<line x1="227.23" y1="110.69" x2="237.91" y2="105.56" stroke="#ebb944"/>
<line x1="237.91" y1="105.56" x2="248.59" y2="100.33" stroke="#f6b843"/>
<line x1="248.59" y1="100.33" x2="259.27" y2="94.99" stroke="#f8ba41"/>
<line x1="259.27" y1="94.99" x2="269.95" y2="89.56" stroke="#fabc3e"/>
<line x1="269.95" y1="89.56" x2="280.63" y2="84.02" stroke="#fcbd3c"/>
<line x1="280.63" y1="84.02" x2="291.31" y2="78.39" stroke="#febf39"/>
<line x1="291.31" y1="78.39" x2="301.99" y2="72.65" stroke="#ffc42e"/>
<line x1="301.99" y1="72.65" x2="312.66" y2="66.81" stroke="#ffcb21"/>
<line x1="312.66" y1="66.81" x2="323.34" y2="60.87" stroke="#ffd216"/>
<line x1="323.34" y1="60.87" x2="334.02" y2="54.82" stroke="#ffda0e"/>
<line x1="334.02" y1="54.82" x2="344.70" y2="48.68" stroke="#ffe208"/>
<line x1="344.70" y1="48.68" x2="355.38" y2="42.43" stroke="#ffe903"/>
<line x1="144.42" y1="151.54" x2="155.10" y2="147.15" stroke="#54c875"/>
<line x1="155.10" y1="147.15" x2="165.78" y2="142.65" stroke="#5fc96c"/>
<line x1="165.78" y1="142.65" x2="176.46" y2="138.05" stroke="#6dc864"/>
<line x1="176.46" y1="138.05" x2="187.13" y2="133.34" stroke="#7dc75b"/>
<line x1="187.13" y1="133.34" x2="197.81" y2="128.53" stroke="#8dc552"/>
<line x1="197.81" y1="128.53" x2="208.49" y2="123.61" stroke="#9fc348"/>
<line x1="208.49" y1="123.61" x2="219.17" y2="118.58" stroke="#b1c140"/>
<line x1="219.17" y1="118.58" x2="229.85" y2="113.45" stroke="#c7be42"/>
<line x1="229.85" y1="113.45" x2="240.53" y2="108.22" stroke="#debb43"/>
<line x1="240.53" y1="108.22" x2="251.21" y2="102.87" stroke="#f5b845"/>
<line x1="251.21" y1="102.87" x2="261.89" y2="97.43" stroke="#f7b942"/>
<line x1="261.89" y1="97.43" x2="272.57" y2="91.87" stroke="#f9bb3f"/>
<line x1="272.57" y1="91.87" x2="283.25" y2="86.21" stroke="#fbbd3d"/>
<line x1="283.25" y1="86.21" x2="293.93" y2="80.45" stroke="#febe3a"/>
<line x1="293.93" y1="80.45" x2="304.61" y2="74.58" stroke="#ffc332"/>
<line x1="304.61" y1="74.58" x2="315.28" y2="68.60" stroke="#ffca23"/>
<line x1="315.28" y1="68.60" x2="325.96" y2="62.52" stroke="#ffd117"/>
<line x1="325.96" y1="62.52" x2="336.64" y2="56.34" stroke="#ffd90f"/>
<line x1="336.64" y1="56.34" x2="347.32" y2="50.04" stroke="#ffe108"/>
<line x1="347.32" y1="50.04" x2="358.00" y2="43.65" stroke="#ffe903"/>
<line x1="147.04" y1="155.00" x2="157.72" y2="150.53" stroke="#46c77f"/>
<line x1="157.72" y1="150.53" x2="168.40" y2="145.96" stroke="#52c876"/>
<line x1="168.40" y1="145.96" x2="179.08" y2="141.28" stroke="#5ec96d"/>
<line x1="179.08" y1="141.28" x2="189.75" y2="136.48" stroke="#6ec864"/>
<line x1="189.75" y1="136.48" x2="200.43" y2="131.58" stroke="#7fc65a"/>
<line x1="200.43" y1="131.58" x2="211.11" y2="126.57" stroke="#90c550"/>
<line x1="211.11" y1="126.57" x2="221.79" y2="121.45" stroke="#a3c346"/>
<line x1="221.79" y1="121.45" x2="232.47" y2="116.21" stroke="#b8c041"/>
<line x1="232.47" y1="116.21" x2="243.15" y2="110.87" stroke="#d0bd42"/>
<line x1="243.15" y1="110.87" x2="253.83" y2="105.42" stroke="#e9b944"/>
<line x1="253.83" y1="105.42" x2="264.51" y2="99.86" stroke="#f6b843"/>
<line x1="264.51" y1="99.86" x2="275.19" y2="94.19" stroke="#f8ba41"/>
<line x1="275.19" y1="94.19" x2="285.87" y2="88.40" stroke="#fbbc3e"/>
<line x1="285.87" y1="88.40" x2="296.55" y2="82.51" stroke="#fdbe3b"/>
<line x1="296.55" y1="82.51" x2="307.23" y2="76.51" stroke="#ffc135"/>
<line x1="307.23" y1="76.51" x2="317.90" y2="70.40" stroke="#ffc826"/>
<line x1="317.90" y1="70.40" x2="328.58" y2="64.18" stroke="#ffd018"/>
<line x1="328.58" y1="64.18" x2="339.26" y2="57.85" stroke="#ffd810"/>
<line x1="339.26" y1="57.85" x2="349.94" y2="51.41" stroke="#ffe109"/>
<line x1="349.94" y1="51.41" x2="360.62" y2="44.86" stroke="#ffe903"/>
<line x1="149.66" y1="158.45" x2="160.34" y2="153.92" stroke="#39c68a"/>
<line x1="160.34" y1="153.92" x2="171.02" y2="149.27" stroke="#45c781"/>
<line x1="171.02" y1="149.27" x2="181.70" y2="144.50" stroke="#51c877"/>
<line x1="181.70" y1="144.50" x2="192.38" y2="139.63" stroke="#5fc96d"/>
<line x1="192.38" y1="139.63" x2="203.05" y2="134.63" stroke="#70c863"/>
<line x1="203.05" y1="134.63" x2="213.73" y2="129.53" stroke="#82c658"/>
<line x1="213.73" y1="129.53" x2="224.41" y2="124.31" stroke="#96c44d"/>
<line x1="224.41" y1="124.31" x2="235.09" y2="118.97" stroke="#aac242"/>
<line x1="235.09" y1="118.97" x2="245.77" y2="113.53" stroke="#c2bf41"/>
<line x1="245.77" y1="113.53" x2="256.45" y2="107.96" stroke="#dcbb43"/>
<line x1="256.45" y1="107.96" x2="267.13" y2="102.29" stroke="#f5b845"/>
<line x1="267.13" y1="102.29" x2="277.81" y2="96.50" stroke="#f7b942"/>
<line x1="277.81" y1="96.50" x2="288.49" y2="90.59" stroke="#fabb3f"/>
<line x1="288.49" y1="90.59" x2="299.17" y2="84.58" stroke="#fcbd3b"/>
<line x1="299.17" y1="84.58" x2="309.85" y2="78.44" stroke="#ffbf38"/>
<line x1="309.85" y1="78.44" x2="320.52" y2="72.20" stroke="#ffc729"/>
<line x1="320.52" y1="72.20" x2="331.20" y2="65.84" stroke="#ffcf1a"/>
<line x1="331.20" y1="65.84" x2="341.88" y2="59.36" stroke="#ffd711"/>
<line x1="341.88" y1="59.36" x2="352.56" y2="52.78" stroke="#ffe009"/>
<line x1="352.56" y1="52.78" x2="363.24" y2="46.08" stroke="#ffe903"/>
<line x1="152.28" y1="161.91" x2="162.96" y2="157.30" stroke="#2bc494"/>
<line x1="162.96" y1="157.30" x2="173.64" y2="152.58" stroke="#38c68b"/>
<line x1="173.64" y1="152.58" x2="184.32" y2="147.73" stroke="#45c781"/>
<line x1="184.32" y1="147.73" x2="195.00" y2="142.77" stroke="#53c876"/>
<line x1="195.00" y1="142.77" x2="205.67" y2="137.69" stroke="#61c96b"/>
<line x1="205.67" y1="137.69" x2="216.35" y2="132.49" stroke="#74c860"/>
<line x1="216.35" y1="132.49" x2="227.03" y2="127.17" stroke="#89c555"/>
<line x1="227.03" y1="127.17" x2="237.71" y2="121.74" stroke="#9ec349"/>
<line x1="237.71" y1="121.74" x2="248.39" y2="116.18" stroke="#b5c140"/>
<line x1="248.39" y1="116.18" x2="259.07" y2="110.51" stroke="#cfbd42"/>
<line x1="259.07" y1="110.51" x2="269.75" y2="104.72" stroke="#ebb944"/>
<line x1="269.75" y1="104.72" x2="280.43" y2="98.81" stroke="#f6b943"/>
<line x1="280.43" y1="98.81" x2="291.11" y2="92.79" stroke="#f9bb40"/>
<line x1="291.11" y1="92.79" x2="301.79" y2="86.64" stroke="#fcbd3c"/>
<line x1="301.79" y1="86.64" x2="312.47" y2="80.38" stroke="#febf39"/>
<line x1="312.47" y1="80.38" x2="323.14" y2="74.00" stroke="#ffc52c"/>
<line x1="323.14" y1="74.00" x2="333.82" y2="67.50" stroke="#ffcd1c"/>
<line x1="333.82" y1="67.50" x2="344.50" y2="60.88" stroke="#ffd612"/>
<line x1="344.50" y1="60.88" x2="355.18" y2="54.14" stroke="#ffdf0a"/>
<line x1="355.18" y1="54.14" x2="365.86" y2="47.29" stroke="#ffe803"/>
<line x1="154.90" y1="165.37" x2="165.58" y2="160.69" stroke="#25c29a"/>
<line x1="165.58" y1="160.69" x2="176.26" y2="155.88" stroke="#2bc494"/>
<line x1="176.26" y1="155.88" x2="186.94" y2="150.96" stroke="#38c68a"/>
<line x1="186.94" y1="150.96" x2="197.62" y2="145.91" stroke="#46c77f"/>
<line x1="197.62" y1="145.91" x2="208.29" y2="140.74" stroke="#55c874"/>
<line x1="208.29" y1="140.74" x2="218.97" y2="135.45" stroke="#66c968"/>
<line x1="218.97" y1="135.45" x2="229.65" y2="130.03" stroke="#7bc75c"/>
<line x1="229.65" y1="130.03" x2="240.33" y2="124.50" stroke="#91c550"/>
<line x1="240.33" y1="124.50" x2="251.01" y2="118.84" stroke="#a8c243"/>
<line x1="251.01" y1="118.84" x2="261.69" y2="113.06" stroke="#c3bf41"/>
<line x1="261.69" y1="113.06" x2="272.37" y2="107.15" stroke="#dfbb43"/>
<line x1="272.37" y1="107.15" x2="283.05" y2="101.12" stroke="#f6b844"/>
<line x1="283.05" y1="101.12" x2="293.73" y2="94.98" stroke="#f8ba41"/>
<line x1="293.73" y1="94.98" x2="304.41" y2="88.70" stroke="#fbbc3d"/>
<line x1="304.41" y1="88.70" x2="315.09" y2="82.31" stroke="#febe3a"/>
<line x1="315.09" y1="82.31" x2="325.76" y2="75.79" stroke="#ffc42f"/>
<line x1="325.76" y1="75.79" x2="336.44" y2="69.15" stroke="#ffcc1e"/>
<line x1="336.44" y1="69.15" x2="347.12" y2="62.39" stroke="#ffd513"/>
<line x1="347.12" y1="62.39" x2="357.80" y2="55.51" stroke="#ffdf0a"/>
<line x1="357.80" y1="55.51" x2="368.48" y2="48.50" stroke="#ffe803"/>
<line x1="157.52" y1="168.82" x2="168.20" y2="164.07" stroke="#20bfa0"/>
<line x1="168.20" y1="164.07" x2="178.88" y2="159.19" stroke="#25c29a"/>
<line x1="178.88" y1="159.19" x2="189.56" y2="154.19" stroke="#2bc494"/>
<line x1="189.56" y1="154.19" x2="200.24" y2="149.05" stroke="#3ac689"/>
<line x1="200.24" y1="149.05" x2="210.91" y2="143.80" stroke="#4ac77d"/>
<line x1="210.91" y1="143.80" x2="221.59" y2="138.41" stroke="#5ac970"/>
<line x1="221.59" y1="138.41" x2="232.27" y2="132.90" stroke="#6ec864"/>
<line x1="232.27" y1="132.90" x2="242.95" y2="127.26" stroke="#85c657"/>
<line x1="242.95" y1="127.26" x2="253.63" y2="121.49" stroke="#9cc44a"/>
<line x1="253.63" y1="121.49" x2="264.31" y2="115.60" stroke="#b6c140"/>
<line x1="264.31" y1="115.60" x2="274.99" y2="109.58" stroke="#d4bc42"/>
<line x1="274.99" y1="109.58" x2="285.67" y2="103.44" stroke="#f3b845"/>
<line x1="285.67" y1="103.44" x2="296.35" y2="97.17" stroke="#f7b942"/>
<line x1="296.35" y1="97.17" x2="307.03" y2="90.77" stroke="#fabc3e"/>
<line x1="307.03" y1="90.77" x2="317.71" y2="84.24" stroke="#fdbe3b"/>
<line x1="317.71" y1="84.24" x2="328.38" y2="77.59" stroke="#ffc232"/>
<line x1="328.38" y1="77.59" x2="339.06" y2="70.81" stroke="#ffcb21"/>
<line x1="339.06" y1="70.81" x2="349.74" y2="63.91" stroke="#ffd414"/>
<line x1="349.74" y1="63.91" x2="360.42" y2="56.88" stroke="#ffde0b"/>
<line x1="360.42" y1="56.88" x2="371.10" y2="49.72" stroke="#ffe803"/>
<line x1="160.14" y1="172.28" x2="170.82" y2="167.46" stroke="#1abda6"/>
<line x1="170.82" y1="167.46" x2="181.50" y2="162.50" stroke="#20bfa0"/>
<line x1="181.50" y1="162.50" x2="192.18" y2="157.41" stroke="#26c299"/>
<line x1="192.18" y1="157.41" x2="202.86" y2="152.20" stroke="#2ec592"/>
<line x1="202.86" y1="152.20" x2="213.53" y2="146.85" stroke="#3ec686"/>
<line x1="213.53" y1="146.85" x2="224.21" y2="141.37" stroke="#4fc879"/>
<line x1="224.21" y1="141.37" x2="234.89" y2="135.76" stroke="#61c96b"/>
<line x1="234.89" y1="135.76" x2="245.57" y2="130.02" stroke="#78c75e"/>
<line x1="245.57" y1="130.02" x2="256.25" y2="124.15" stroke="#90c550"/>
<line x1="256.25" y1="124.15" x2="266.93" y2="118.15" stroke="#aac242"/>
<line x1="266.93" y1="118.15" x2="277.61" y2="112.01" stroke="#c8be42"/>
<line x1="277.61" y1="112.01" x2="288.29" y2="105.75" stroke="#e8b944"/>
<line x1="288.29" y1="105.75" x2="298.97" y2="99.36" stroke="#f7b943"/>
<line x1="298.97" y1="99.36" x2="309.65" y2="92.83" stroke="#f9bb3f"/>
<line x1="309.65" y1="92.83" x2="320.33" y2="86.17" stroke="#fcbd3b"/>
<line x1="320.33" y1="86.17" x2="331.00" y2="79.39" stroke="#ffc135"/>
<line x1="331.00" y1="79.39" x2="341.68" y2="72.47" stroke="#ffca23"/>
<line x1="341.68" y1="72.47" x2="352.36" y2="65.42" stroke="#ffd315"/>
<line x1="352.36" y1="65.42" x2="363.04" y2="58.24" stroke="#ffde0b"/>
<line x1="363.04" y1="58.24" x2="373.72" y2="50.93" stroke="#ffe804"/>
<line x1="162.76" y1="175.74" x2="173.44" y2="170.84" stroke="#18baaa"/>
<line x1="173.44" y1="170.84" x2="184.12" y2="165.81" stroke="#1abda5"/>
<line x1="184.12" y1="165.81" x2="194.80" y2="160.64" stroke="#20c09f"/>
<line x1="194.80" y1="160.64" x2="205.48" y2="155.34" stroke="#27c398"/>
<line x1="205.48" y1="155.34" x2="216.15" y2="149.90" stroke="#32c58f"/>
<line x1="216.15" y1="149.90" x2="226.83" y2="144.33" stroke="#44c781"/>
<line x1="226.83" y1="144.33" x2="237.51" y2="138.62" stroke="#56c873"/>
<line x1="237.51" y1="138.62" x2="248.19" y2="132.78" stroke="#6bc865"/>
<line x1="248.19" y1="132.78" x2="258.87" y2="126.80" stroke="#85c657"/>
<line x1="258.87" y1="126.80" x2="269.55" y2="120.69" stroke="#9fc348"/>
<line x1="269.55" y1="120.69" x2="280.23" y2="114.45" stroke="#bcc041"/>
<line x1="280.23" y1="114.45" x2="290.91" y2="108.06" stroke="#ddbb43"/>
<line x1="290.91" y1="108.06" x2="301.59" y2="101.55" stroke="#f6b844"/>
<line x1="301.59" y1="101.55" x2="312.27" y2="94.89" stroke="#f9bb40"/>
<line x1="312.27" y1="94.89" x2="322.95" y2="88.11" stroke="#fcbd3c"/>
<line x1="322.95" y1="88.11" x2="333.62" y2="81.18" stroke="#ffbf38"/>
<line x1="333.62" y1="81.18" x2="344.30" y2="74.13" stroke="#ffc925"/>
<line x1="344.30" y1="74.13" x2="354.98" y2="66.94" stroke="#ffd216"/>
<line x1="354.98" y1="66.94" x2="365.66" y2="59.61" stroke="#ffdd0c"/>
<line x1="365.66" y1="59.61" x2="376.34" y2="52.15" stroke="#ffe804"/>
<line x1="165.38" y1="179.20" x2="176.06" y2="174.23" stroke="#16b7af"/>
<line x1="176.06" y1="174.23" x2="186.74" y2="169.12" stroke="#18baaa"/>
<line x1="186.74" y1="169.12" x2="197.42" y2="163.87" stroke="#1bbda4"/>
<line x1="197.42" y1="163.87" x2="208.09" y2="158.48" stroke="#22c09d"/>
<line x1="208.09" y1="158.48" x2="218.77" y2="152.96" stroke="#29c496"/>
<line x1="218.77" y1="152.96" x2="229.45" y2="147.29" stroke="#39c68a"/>
<line x1="229.45" y1="147.29" x2="240.13" y2="141.49" stroke="#4cc77b"/>
<line x1="240.13" y1="141.49" x2="250.81" y2="135.54" stroke="#5fc96c"/>
<line x1="250.81" y1="135.54" x2="261.49" y2="129.46" stroke="#79c75d"/>
<line x1="261.49" y1="129.46" x2="272.17" y2="123.24" stroke="#94c44e"/>
<line x1="272.17" y1="123.24" x2="282.85" y2="116.88" stroke="#b1c140"/>
<line x1="282.85" y1="116.88" x2="293.53" y2="110.38" stroke="#d3bc42"/>
<line x1="293.53" y1="110.38" x2="304.21" y2="103.74" stroke="#f5b845"/>
<line x1="304.21" y1="103.74" x2="314.89" y2="96.96" stroke="#f8ba41"/>
<line x1="314.89" y1="96.96" x2="325.57" y2="90.04" stroke="#fbbc3d"/>
<line x1="325.57" y1="90.04" x2="336.24" y2="82.98" stroke="#ffbf39"/>
<line x1="336.24" y1="82.98" x2="346.92" y2="75.79" stroke="#ffc828"/>
<line x1="346.92" y1="75.79" x2="357.60" y2="68.45" stroke="#ffd216"/>
<line x1="357.60" y1="68.45" x2="368.28" y2="60.98" stroke="#ffdc0c"/>
<line x1="368.28" y1="60.98" x2="378.96" y2="53.36" stroke="#ffe704"/>
<line x1="168.00" y1="182.65" x2="178.68" y2="177.61" stroke="#14b5b4"/>
<line x1="178.68" y1="177.61" x2="189.36" y2="172.43" stroke="#16b8ae"/>
<line x1="189.36" y1="172.43" x2="200.04" y2="167.10" stroke="#18bba9"/>
<line x1="200.04" y1="167.10" x2="210.71" y2="161.63" stroke="#1dbea3"/>
<line x1="210.71" y1="161.63" x2="221.39" y2="156.01" stroke="#24c19b"/>
<line x1="221.39" y1="156.01" x2="232.07" y2="150.25" stroke="#2ec592"/>
<line x1="232.07" y1="150.25" x2="242.75" y2="144.35" stroke="#41c683"/>
<line x1="242.75" y1="144.35" x2="253.43" y2="138.30" stroke="#55c874"/>
<line x1="253.43" y1="138.30" x2="264.11" y2="132.12" stroke="#6dc864"/>
<line x1="264.11" y1="132.12" x2="274.79" y2="125.78" stroke="#89c554"/>
<line x1="274.79" y1="125.78" x2="285.47" y2="119.31" stroke="#a6c344"/>
<line x1="285.47" y1="119.31" x2="296.15" y2="112.69" stroke="#c8be42"/>
<line x1="296.15" y1="112.69" x2="306.83" y2="105.93" stroke="#ecb944"/>
<line x1="306.83" y1="105.93" x2="317.51" y2="99.02" stroke="#f7b942"/>
<line x1="317.51" y1="99.02" x2="328.19" y2="91.97" stroke="#fbbc3e"/>
<line x1="328.19" y1="91.97" x2="338.86" y2="84.78" stroke="#febe39"/>
<line x1="338.86" y1="84.78" x2="349.54" y2="77.44" stroke="#ffc62a"/>
<line x1="349.54" y1="77.44" x2="360.22" y2="69.96" stroke="#ffd117"/>
<line x1="360.22" y1="69.96" x2="370.90" y2="62.34" stroke="#ffdc0c"/>
<line x1="370.90" y1="62.34" x2="381.58" y2="54.58" stroke="#ffe704"/>
<line x1="170.62" y1="186.11" x2="181.30" y2="181.00" stroke="#12b2b8"/>
<line x1="181.30" y1="181.00" x2="191.98" y2="175.73" stroke="#14b5b3"/>
<line x1="191.98" y1="175.73" x2="202.66" y2="170.32" stroke="#16b8ad"/>
<line x1="202.66" y1="170.32" x2="213.33" y2="164.77" stroke="#19bca7"/>
<line x1="213.33" y1="164.77" x2="224.01" y2="159.06" stroke="#1fbfa0"/>
<line x1="224.01" y1="159.06" x2="234.69" y2="153.21" stroke="#28c398"/>
<line x1="234.69" y1="153.21" x2="245.37" y2="147.21" stroke="#37c58b"/>
<line x1="245.37" y1="147.21" x2="256.05" y2="141.07" stroke="#4cc77b"/>
<line x1="256.05" y1="141.07" x2="266.73" y2="134.77" stroke="#61c96b"/>
<line x1="266.73" y1="134.77" x2="277.41" y2="128.33" stroke="#7ec75b"/>
<line x1="277.41" y1="128.33" x2="288.09" y2="121.74" stroke="#9cc44a"/>
<line x1="288.09" y1="121.74" x2="298.77" y2="115.00" stroke="#bdc041"/>
<line x1="298.77" y1="115.00" x2="309.45" y2="108.12" stroke="#e3ba44"/>
<line x1="309.45" y1="108.12" x2="320.13" y2="101.08" stroke="#f7b943"/>
<line x1="320.13" y1="101.08" x2="330.81" y2="93.90" stroke="#fabb3e"/>
<line x1="330.81" y1="93.90" x2="341.48" y2="86.58" stroke="#fdbe3a"/>
<line x1="341.48" y1="86.58" x2="352.16" y2="79.10" stroke="#ffc52c"/>
<line x1="352.16" y1="79.10" x2="362.84" y2="71.48" stroke="#ffd018"/>
<line x1="362.84" y1="71.48" x2="373.52" y2="63.71" stroke="#ffdb0d"/>
<line x1="373.52" y1="63.71" x2="384.20" y2="55.79" stroke="#ffe704"/>
<line x1="173.24" y1="189.57" x2="183.92" y2="184.38" stroke="#0fb0bb"/>
<line x1="183.92" y1="184.38" x2="194.60" y2="179.04" stroke="#12b3b7"/>
<line x1="194.60" y1="179.04" x2="205.28" y2="173.55" stroke="#14b6b2"/>
<line x1="205.28" y1="173.55" x2="215.96" y2="167.91" stroke="#17b9ab"/>
<line x1="215.96" y1="167.91" x2="226.63" y2="162.12" stroke="#1abda5"/>
<line x1="226.63" y1="162.12" x2="237.31" y2="156.17" stroke="#23c19c"/>
<line x1="237.31" y1="156.17" x2="247.99" y2="150.08" stroke="#2cc493"/>
<line x1="247.99" y1="150.08" x2="258.67" y2="143.83" stroke="#42c683"/>
<line x1="258.67" y1="143.83" x2="269.35" y2="137.43" stroke="#58c972"/>
<line x1="269.35" y1="137.43" x2="280.03" y2="130.87" stroke="#73c861"/>
<line x1="280.03" y1="130.87" x2="290.71" y2="124.17" stroke="#92c54f"/>
<line x1="290.71" y1="124.17" x2="301.39" y2="117.32" stroke="#b3c140"/>
<line x1="301.39" y1="117.32" x2="312.07" y2="110.31" stroke="#d9bc43"/>
<line x1="312.07" y1="110.31" x2="322.75" y2="103.15" stroke="#f6b844"/>
<line x1="322.75" y1="103.15" x2="333.43" y2="95.84" stroke="#f9bb3f"/>
<line x1="333.43" y1="95.84" x2="344.10" y2="88.37" stroke="#fdbe3b"/>
<line x1="344.10" y1="88.37" x2="354.78" y2="80.76" stroke="#ffc42f"/>
<line x1="354.78" y1="80.76" x2="365.46" y2="72.99" stroke="#ffcf19"/>
<line x1="365.46" y1="72.99" x2="376.14" y2="65.07" stroke="#ffdb0e"/>
<line x1="376.14" y1="65.07" x2="386.82" y2="57.00" stroke="#ffe704"/>
<line x1="175.86" y1="193.02" x2="186.54" y2="187.76" stroke="#0dadbf"/>
<line x1="186.54" y1="187.76" x2="197.22" y2="182.35" stroke="#10b0bb"/>
<line x1="197.22" y1="182.35" x2="207.90" y2="176.78" stroke="#13b3b6"/>
<line x1="207.90" y1="176.78" x2="218.57" y2="171.05" stroke="#15b7b0"/>
<line x1="218.57" y1="171.05" x2="229.25" y2="165.17" stroke="#18bba9"/>
<line x1="229.25" y1="165.17" x2="239.93" y2="159.13" stroke="#1ebfa1"/>
<line x1="239.93" y1="159.13" x2="250.61" y2="152.94" stroke="#27c398"/>
<line x1="250.61" y1="152.94" x2="261.29" y2="146.59" stroke="#38c68a"/>
<line x1="261.29" y1="146.59" x2="271.97" y2="140.08" stroke="#4fc879"/>
<line x1="271.97" y1="140.08" x2="282.65" y2="133.42" stroke="#68c967"/>
<line x1="282.65" y1="133.42" x2="293.33" y2="126.60" stroke="#88c655"/>
<line x1="293.33" y1="126.60" x2="304.01" y2="119.63" stroke="#a9c242"/>
<line x1="304.01" y1="119.63" x2="314.69" y2="112.50" stroke="#d0bd42"/>
<line x1="314.69" y1="112.50" x2="325.37" y2="105.21" stroke="#f5b844"/>
<line x1="325.37" y1="105.21" x2="336.05" y2="97.77" stroke="#f9bb40"/>
<line x1="336.05" y1="97.77" x2="346.72" y2="90.17" stroke="#fcbd3b"/>
<line x1="346.72" y1="90.17" x2="357.40" y2="82.42" stroke="#ffc331"/>
<line x1="357.40" y1="82.42" x2="368.08" y2="74.51" stroke="#ffce1b"/>
<line x1="368.08" y1="74.51" x2="378.76" y2="66.44" stroke="#ffda0e"/>
<line x1="378.76" y1="66.44" x2="389.44" y2="58.22" stroke="#ffe704"/>
<line x1="178.48" y1="196.48" x2="189.16" y2="191.15" stroke="#0baac2"/>
<line x1="189.16" y1="191.15" x2="199.84" y2="185.66" stroke="#0eaebe"/>
<line x1="199.84" y1="185.66" x2="210.52" y2="180.01" stroke="#11b1ba"/>
<line x1="210.52" y1="180.01" x2="221.19" y2="174.20" stroke="#13b5b4"/>
<line x1="221.19" y1="174.20" x2="231.87" y2="168.23" stroke="#16b9ad"/>
<line x1="231.87" y1="168.23" x2="242.55" y2="162.09" stroke="#19bda6"/>
<line x1="242.55" y1="162.09" x2="253.23" y2="155.80" stroke="#23c19d"/>
<line x1="253.23" y1="155.80" x2="263.91" y2="149.35" stroke="#2ec592"/>
<line x1="263.91" y1="149.35" x2="274.59" y2="142.74" stroke="#46c780"/>
<line x1="274.59" y1="142.74" x2="285.27" y2="135.97" stroke="#5ec96d"/>
<line x1="285.27" y1="135.97" x2="295.95" y2="129.03" stroke="#7ec75b"/>
<line x1="295.95" y1="129.03" x2="306.63" y2="121.94" stroke="#a0c348"/>
<line x1="306.63" y1="121.94" x2="317.31" y2="114.69" stroke="#c6be42"/>
<line x1="317.31" y1="114.69" x2="327.99" y2="107.28" stroke="#f0b845"/>
<line x1="327.99" y1="107.28" x2="338.67" y2="99.70" stroke="#f8ba41"/>
<line x1="338.67" y1="99.70" x2="349.34" y2="91.97" stroke="#fcbd3c"/>
<line x1="349.34" y1="91.97" x2="360.02" y2="84.07" stroke="#ffc233"/>
<line x1="360.02" y1="84.07" x2="370.70" y2="76.02" stroke="#ffcd1c"/>
<line x1="370.70" y1="76.02" x2="381.38" y2="67.81" stroke="#ffd90f"/>
<line x1="381.38" y1="67.81" x2="392.06" y2="59.43" stroke="#ffe604"/>
<line x1="181.10" y1="199.94" x2="191.78" y2="194.53" stroke="#09a8c6"/>
<line x1="191.78" y1="194.53" x2="202.46" y2="188.97" stroke="#0cabc1"/>
<line x1="202.46" y1="188.97" x2="213.14" y2="183.23" stroke="#0fafbd"/>
<line x1="213.14" y1="183.23" x2="223.81" y2="177.34" stroke="#12b2b8"/>
<line x1="223.81" y1="177.34" x2="234.49" y2="171.28" stroke="#15b6b1"/>
<line x1="234.49" y1="171.28" x2="245.17" y2="165.05" stroke="#18baaa"/>
<line x1="245.17" y1="165.05" x2="255.85" y2="158.67" stroke="#1ebfa1"/>
<line x1="255.85" y1="158.67" x2="266.53" y2="152.11" stroke="#28c397"/>
<line x1="266.53" y1="152.11" x2="277.21" y2="145.39" stroke="#3cc687"/>
<line x1="277.21" y1="145.39" x2="287.89" y2="138.51" stroke="#56c874"/>
<line x1="287.89" y1="138.51" x2="298.57" y2="131.46" stroke="#74c860"/>
<line x1="298.57" y1="131.46" x2="309.25" y2="124.25" stroke="#96c44d"/>
<line x1="309.25" y1="124.25" x2="319.93" y2="116.88" stroke="#bcc041"/>
<line x1="319.93" y1="116.88" x2="330.61" y2="109.34" stroke="#e8b944"/>
<line x1="330.61" y1="109.34" x2="341.29" y2="101.63" stroke="#f7ba42"/>
<line x1="341.29" y1="101.63" x2="351.96" y2="93.77" stroke="#fbbd3d"/>
<line x1="351.96" y1="93.77" x2="362.64" y2="85.73" stroke="#ffc136"/>
<line x1="362.64" y1="85.73" x2="373.32" y2="77.54" stroke="#ffcc1e"/>
<line x1="373.32" y1="77.54" x2="384.00" y2="69.17" stroke="#ffd90f"/>
<line x1="384.00" y1="69.17" x2="394.68" y2="60.65" stroke="#ffe605"/>
<line x1="183.72" y1="203.39" x2="194.40" y2="197.92" stroke="#07a5c9"/>
<line x1="194.40" y1="197.92" x2="205.08" y2="192.27" stroke="#0aa9c5"/>
<line x1="205.08" y1="192.27" x2="215.76" y2="186.46" stroke="#0dacc0"/>
<line x1="215.76" y1="186.46" x2="226.44" y2="180.48" stroke="#10b0bb"/>
<line x1="226.44" y1="180.48" x2="237.11" y2="174.33" stroke="#13b4b5"/>
<line x1="237.11" y1="174.33" x2="247.79" y2="168.01" stroke="#16b8ad"/>
<line x1="247.79" y1="168.01" x2="258.47" y2="161.53" stroke="#1abda6"/>
<line x1="258.47" y1="161.53" x2="269.15" y2="154.87" stroke="#24c19b"/>
<line x1="269.15" y1="154.87" x2="279.83" y2="148.05" stroke="#33c58e"/>
<line x1="279.83" y1="148.05" x2="290.51" y2="141.06" stroke="#4dc87a"/>
<line x1="290.51" y1="141.06" x2="301.19" y2="133.90" stroke="#6ac966"/>
<line x1="301.19" y1="133.90" x2="311.87" y2="126.57" stroke="#8dc552"/>
<line x1="311.87" y1="126.57" x2="322.55" y2="119.07" stroke="#b3c140"/>
<line x1="322.55" y1="119.07" x2="333.23" y2="111.40" stroke="#dfbb43"/>
<line x1="333.23" y1="111.40" x2="343.91" y2="103.57" stroke="#f7b942"/>
<line x1="343.91" y1="103.57" x2="354.58" y2="95.56" stroke="#fbbc3d"/>
<line x1="354.58" y1="95.56" x2="365.26" y2="87.39" stroke="#ffbf38"/>
<line x1="365.26" y1="87.39" x2="375.94" y2="79.05" stroke="#ffcb20"/>
<line x1="375.94" y1="79.05" x2="386.62" y2="70.54" stroke="#ffd810"/>
<line x1="386.62" y1="70.54" x2="397.30" y2="61.86" stroke="#ffe605"/>
<line x1="186.34" y1="206.85" x2="197.02" y2="201.30" stroke="#05a2cc"/>
<line x1="197.02" y1="201.30" x2="207.70" y2="195.58" stroke="#08a6c8"/>
<line x1="207.70" y1="195.58" x2="218.38" y2="189.69" stroke="#0baac3"/>
<line x1="218.38" y1="189.69" x2="229.06" y2="183.62" stroke="#0eaebe"/>
<line x1="229.06" y1="183.62" x2="239.73" y2="177.39" stroke="#11b2b9"/>
<line x1="239.73" y1="177.39" x2="250.41" y2="170.98" stroke="#15b6b1"/>
<line x1="250.41" y1="170.98" x2="261.09" y2="164.39" stroke="#18bba9"/>
<line x1="261.09" y1="164.39" x2="271.77" y2="157.63" stroke="#20bfa0"/>
<line x1="271.77" y1="157.63" x2="282.45" y2="150.71" stroke="#2bc495"/>
<line x1="282.45" y1="150.71" x2="293.13" y2="143.60" stroke="#44c781"/>
<line x1="293.13" y1="143.60" x2="303.81" y2="136.33" stroke="#60c96c"/>
<line x1="303.81" y1="136.33" x2="314.49" y2="128.88" stroke="#84c657"/>
<line x1="314.49" y1="128.88" x2="325.17" y2="121.26" stroke="#aac242"/>
<line x1="325.17" y1="121.26" x2="335.85" y2="113.47" stroke="#d7bc43"/>
<line x1="335.85" y1="113.47" x2="346.53" y2="105.50" stroke="#f6b943"/>
<line x1="346.53" y1="105.50" x2="357.20" y2="97.36" stroke="#fabc3e"/>
<line x1="357.20" y1="97.36" x2="367.88" y2="89.05" stroke="#ffbf39"/>
<line x1="367.88" y1="89.05" x2="378.56" y2="80.56" stroke="#ffcb21"/>
<line x1="378.56" y1="80.56" x2="389.24" y2="71.91" stroke="#ffd810"/>
<line x1="389.24" y1="71.91" x2="399.92" y2="63.08" stroke="#ffe605"/>
<line x1="188.96" y1="210.31" x2="199.64" y2="204.69" stroke="#079ecf"/>
<line x1="199.64" y1="204.69" x2="210.32" y2="198.89" stroke="#05a4cb"/>
<line x1="210.32" y1="198.89" x2="221.00" y2="192.92" stroke="#09a7c6"/>
<line x1="221.00" y1="192.92" x2="231.68" y2="186.77" stroke="#0cabc1"/>
<line x1="231.68" y1="186.77" x2="242.35" y2="180.44" stroke="#0fb0bc"/>
<line x1="242.35" y1="180.44" x2="253.03" y2="173.94" stroke="#13b4b5"/>
<line x1="253.03" y1="173.94" x2="263.71" y2="167.25" stroke="#16b9ad"/>
<line x1="263.71" y1="167.25" x2="274.39" y2="160.40" stroke="#1bbda4"/>
<line x1="274.39" y1="160.40" x2="285.07" y2="153.36" stroke="#27c299"/>
<line x1="285.07" y1="153.36" x2="295.75" y2="146.15" stroke="#3cc687"/>
<line x1="295.75" y1="146.15" x2="306.43" y2="138.76" stroke="#58c972"/>
<line x1="306.43" y1="138.76" x2="317.11" y2="131.19" stroke="#7bc75c"/>
<line x1="317.11" y1="131.19" x2="327.79" y2="123.45" stroke="#a2c346"/>
<line x1="327.79" y1="123.45" x2="338.47" y2="115.53" stroke="#cebd42"/>
<line x1="338.47" y1="115.53" x2="349.15" y2="107.43" stroke="#f6b844"/>
<line x1="349.15" y1="107.43" x2="359.82" y2="99.16" stroke="#fabb3f"/>
<line x1="359.82" y1="99.16" x2="370.50" y2="90.71" stroke="#febf39"/>
<line x1="370.50" y1="90.71" x2="381.18" y2="82.08" stroke="#ffca23"/>
<line x1="381.18" y1="82.08" x2="391.86" y2="73.27" stroke="#ffd711"/>
<line x1="391.86" y1="73.27" x2="402.54" y2="64.29" stroke="#ffe605"/>
<line x1="191.58" y1="213.76" x2="202.26" y2="208.07" stroke="#099ad1"/>
<line x1="202.26" y1="208.07" x2="212.94" y2="202.20" stroke="#07a0ce"/>
<line x1="212.94" y1="202.20" x2="223.62" y2="196.15" stroke="#07a5ca"/>
<line x1="223.62" y1="196.15" x2="234.30" y2="189.91" stroke="#0aa9c4"/>
<line x1="234.30" y1="189.91" x2="244.97" y2="183.49" stroke="#0eadbe"/>
<line x1="244.97" y1="183.49" x2="255.65" y2="176.90" stroke="#11b2b8"/>
<line x1="255.65" y1="176.90" x2="266.33" y2="170.12" stroke="#15b7b0"/>
<line x1="266.33" y1="170.12" x2="277.01" y2="163.16" stroke="#19bca8"/>
<line x1="277.01" y1="163.16" x2="287.69" y2="156.02" stroke="#23c19d"/>
<line x1="287.69" y1="156.02" x2="298.37" y2="148.69" stroke="#33c58e"/>
<line x1="298.37" y1="148.69" x2="309.05" y2="141.19" stroke="#50c878"/>
<line x1="309.05" y1="141.19" x2="319.73" y2="133.51" stroke="#72c861"/>
<line x1="319.73" y1="133.51" x2="330.41" y2="125.64" stroke="#99c44b"/>
<line x1="330.41" y1="125.64" x2="341.09" y2="117.59" stroke="#c6be41"/>
<line x1="341.09" y1="117.59" x2="351.77" y2="109.36" stroke="#f5b845"/>
<line x1="351.77" y1="109.36" x2="362.44" y2="100.95" stroke="#f9bb3f"/>
<line x1="362.44" y1="100.95" x2="373.12" y2="92.36" stroke="#febe3a"/>
<line x1="373.12" y1="92.36" x2="383.80" y2="83.59" stroke="#ffc925"/>
<line x1="383.80" y1="83.59" x2="394.48" y2="74.64" stroke="#ffd711"/>
<line x1="394.48" y1="74.64" x2="405.16" y2="65.50" stroke="#ffe605"/>
<line x1="194.20" y1="217.22" x2="204.88" y2="211.46" stroke="#0b95d3"/>
<line x1="204.88" y1="211.46" x2="215.56" y2="205.51" stroke="#089bd0"/>
<line x1="215.56" y1="205.51" x2="226.24" y2="199.37" stroke="#06a2cd"/>
<line x1="226.24" y1="199.37" x2="236.92" y2="193.05" stroke="#08a7c7"/>
<line x1="236.92" y1="193.05" x2="247.59" y2="186.55" stroke="#0cabc1"/>
<line x1="247.59" y1="186.55" x2="258.27" y2="179.86" stroke="#10b0bb"/>
<line x1="258.27" y1="179.86" x2="268.95" y2="172.98" stroke="#13b5b4"/>
<line x1="268.95" y1="172.98" x2="279.63" y2="165.92" stroke="#17baab"/>
<line x1="279.63" y1="165.92" x2="290.31" y2="158.67" stroke="#1fbfa1"/>
<line x1="290.31" y1="158.67" x2="300.99" y2="151.24" stroke="#2bc494"/>
<line x1="300.99" y1="151.24" x2="311.67" y2="143.62" stroke="#48c77e"/>
<line x1="311.67" y1="143.62" x2="322.35" y2="135.82" stroke="#69c967"/>
<line x1="322.35" y1="135.82" x2="333.03" y2="127.83" stroke="#91c550"/>
<line x1="333.03" y1="127.83" x2="343.71" y2="119.66" stroke="#bdc041"/>
<line x1="343.71" y1="119.66" x2="354.39" y2="111.30" stroke="#f0b844"/>
<line x1="354.39" y1="111.30" x2="365.06" y2="102.75" stroke="#f9bb40"/>
<line x1="365.06" y1="102.75" x2="375.74" y2="94.02" stroke="#fdbe3a"/>
<line x1="375.74" y1="94.02" x2="386.42" y2="85.11" stroke="#ffc827"/>
<line x1="386.42" y1="85.11" x2="397.10" y2="76.01" stroke="#ffd612"/>
<line x1="397.10" y1="76.01" x2="407.78" y2="66.72" stroke="#ffe505"/>
<line x1="196.82" y1="220.68" x2="207.50" y2="214.84" stroke="#0c91d5"/>
<line x1="207.50" y1="214.84" x2="218.18" y2="208.82" stroke="#0a97d2"/>
<line x1="218.18" y1="208.82" x2="228.86" y2="202.60" stroke="#079ecf"/>
<line x1="228.86" y1="202.60" x2="239.53" y2="196.20" stroke="#06a4ca"/>
<line x1="239.53" y1="196.20" x2="250.21" y2="189.60" stroke="#0aa9c4"/>
<line x1="250.21" y1="189.60" x2="260.89" y2="182.82" stroke="#0eaebe"/>
<line x1="260.89" y1="182.82" x2="271.57" y2="175.84" stroke="#12b3b8"/>
<line x1="271.57" y1="175.84" x2="282.25" y2="168.68" stroke="#16b8ae"/>
<line x1="282.25" y1="168.68" x2="292.93" y2="161.33" stroke="#1bbda5"/>
<line x1="292.93" y1="161.33" x2="303.61" y2="153.79" stroke="#27c398"/>
<line x1="303.61" y1="153.79" x2="314.29" y2="146.05" stroke="#40c684"/>
<line x1="314.29" y1="146.05" x2="324.97" y2="138.13" stroke="#60c96c"/>
<line x1="324.97" y1="138.13" x2="335.65" y2="130.02" stroke="#89c554"/>
<line x1="335.65" y1="130.02" x2="346.33" y2="121.72" stroke="#b5c140"/>
<line x1="346.33" y1="121.72" x2="357.01" y2="113.23" stroke="#e9b944"/>
<line x1="357.01" y1="113.23" x2="367.69" y2="104.55" stroke="#f8ba40"/>
<line x1="367.69" y1="104.55" x2="378.36" y2="95.68" stroke="#fdbe3b"/>
<line x1="378.36" y1="95.68" x2="389.04" y2="86.62" stroke="#ffc728"/>
<line x1="389.04" y1="86.62" x2="399.72" y2="77.37" stroke="#ffd513"/>
<line x1="399.72" y1="77.37" x2="410.40" y2="67.93" stroke="#ffe505"/>
<line x1="199.44" y1="224.13" x2="210.12" y2="218.23" stroke="#0e8dd7"/>
<line x1="210.12" y1="218.23" x2="220.80" y2="212.12" stroke="#0c93d4"/>
<line x1="220.80" y1="212.12" x2="231.48" y2="205.83" stroke="#099ad1"/>
<line x1="231.48" y1="205.83" x2="242.16" y2="199.34" stroke="#06a1cd"/>
<line x1="242.16" y1="199.34" x2="252.83" y2="192.65" stroke="#08a7c7"/>
<line x1="252.83" y1="192.65" x2="263.51" y2="185.78" stroke="#0cabc1"/>
<line x1="263.51" y1="185.78" x2="274.19" y2="178.71" stroke="#10b1ba"/>
<line x1="274.19" y1="178.71" x2="284.87" y2="171.44" stroke="#14b6b2"/>
<line x1="284.87" y1="171.44" x2="295.55" y2="163.98" stroke="#19bba8"/>
<line x1="295.55" y1="163.98" x2="306.23" y2="156.33" stroke="#24c19c"/>
<line x1="306.23" y1="156.33" x2="316.91" y2="148.48" stroke="#38c68a"/>
<line x1="316.91" y1="148.48" x2="327.59" y2="140.44" stroke="#59c971"/>
<line x1="327.59" y1="140.44" x2="338.27" y2="132.21" stroke="#81c659"/>
<line x1="338.27" y1="132.21" x2="348.95" y2="123.78" stroke="#adc240"/>
<line x1="348.95" y1="123.78" x2="359.63" y2="115.16" stroke="#e1ba43"/>
<line x1="359.63" y1="115.16" x2="370.31" y2="106.35" stroke="#f8ba41"/>
<line x1="370.31" y1="106.35" x2="380.98" y2="97.34" stroke="#fdbd3b"/>
<line x1="380.98" y1="97.34" x2="391.66" y2="88.13" stroke="#ffc62a"/>
<line x1="391.66" y1="88.13" x2="402.34" y2="78.74" stroke="#ffd513"/>
<line x1="402.34" y1="78.74" x2="413.02" y2="69.15" stroke="#ffe506"/>
<line x1="202.06" y1="227.59" x2="212.74" y2="221.61" stroke="#0f88d9"/>
<line x1="212.74" y1="221.61" x2="223.42" y2="215.43" stroke="#0d8fd6"/>
<line x1="223.42" y1="215.43" x2="234.10" y2="209.06" stroke="#0a96d3"/>
<line x1="234.10" y1="209.06" x2="244.77" y2="202.48" stroke="#079dcf"/>
<line x1="244.77" y1="202.48" x2="255.45" y2="195.71" stroke="#06a4ca"/>
<line x1="255.45" y1="195.71" x2="266.13" y2="188.74" stroke="#0aa9c4"/>
<line x1="266.13" y1="188.74" x2="276.81" y2="181.57" stroke="#0fafbd"/>
<line x1="276.81" y1="181.57" x2="287.49" y2="174.20" stroke="#13b4b5"/>
<line x1="287.49" y1="174.20" x2="298.17" y2="166.64" stroke="#17baab"/>
<line x1="298.17" y1="166.64" x2="308.85" y2="158.88" stroke="#20bf9f"/>
<line x1="308.85" y1="158.88" x2="319.53" y2="150.92" stroke="#30c590"/>
<line x1="319.53" y1="150.92" x2="330.21" y2="142.76" stroke="#51c877"/>
<line x1="330.21" y1="142.76" x2="340.89" y2="134.40" stroke="#79c75e"/>
<line x1="340.89" y1="134.40" x2="351.57" y2="125.85" stroke="#a5c344"/>
<line x1="351.57" y1="125.85" x2="362.25" y2="117.09" stroke="#dabb43"/>
<line x1="362.25" y1="117.09" x2="372.92" y2="108.14" stroke="#f7b942"/>
<line x1="372.92" y1="108.14" x2="383.60" y2="99.00" stroke="#fcbd3c"/>
<line x1="383.60" y1="99.00" x2="394.28" y2="89.65" stroke="#ffc52c"/>
<line x1="394.28" y1="89.65" x2="404.96" y2="80.10" stroke="#ffd414"/>
<line x1="404.96" y1="80.10" x2="415.64" y2="70.36" stroke="#ffe506"/>
<line x1="204.68" y1="231.05" x2="215.36" y2="224.99" stroke="#0f84d9"/>
<line x1="215.36" y1="224.99" x2="226.04" y2="218.74" stroke="#0f8bd8"/>
<line x1="226.04" y1="218.74" x2="236.72" y2="212.28" stroke="#0c92d5"/>
<line x1="236.72" y1="212.28" x2="247.39" y2="205.62" stroke="#099ad1"/>
<line x1="247.39" y1="205.62" x2="258.07" y2="198.76" stroke="#06a2cd"/>
<line x1="258.07" y1="198.76" x2="268.75" y2="191.70" stroke="#08a7c7"/>
<line x1="268.75" y1="191.70" x2="279.43" y2="184.43" stroke="#0dadc0"/>
<line x1="279.43" y1="184.43" x2="290.11" y2="176.96" stroke="#11b2b8"/>
<line x1="290.11" y1="176.96" x2="300.79" y2="169.29" stroke="#16b8ae"/>
<line x1="300.79" y1="169.29" x2="311.47" y2="161.42" stroke="#1cbea3"/>
<line x1="311.47" y1="161.42" x2="322.15" y2="153.35" stroke="#2ac495"/>
<line x1="322.15" y1="153.35" x2="332.83" y2="145.07" stroke="#4ac77c"/>
<line x1="332.83" y1="145.07" x2="343.51" y2="136.59" stroke="#70c862"/>
<line x1="343.51" y1="136.59" x2="354.19" y2="127.91" stroke="#9ec348"/>
<line x1="354.19" y1="127.91" x2="364.87" y2="119.03" stroke="#d3bc42"/>
<line x1="364.87" y1="119.03" x2="375.54" y2="109.94" stroke="#f7b942"/>
<line x1="375.54" y1="109.94" x2="386.22" y2="100.65" stroke="#fcbd3c"/>
<line x1="386.22" y1="100.65" x2="396.90" y2="91.16" stroke="#ffc52d"/>
<line x1="396.90" y1="91.16" x2="407.58" y2="81.47" stroke="#ffd414"/>
<line x1="407.58" y1="81.47" x2="418.26" y2="71.58" stroke="#ffe406"/>
<line x1="207.30" y1="234.50" x2="217.98" y2="228.38" stroke="#0e81da"/>
<line x1="217.98" y1="228.38" x2="228.66" y2="222.05" stroke="#0f87d9"/>
<line x1="228.66" y1="222.05" x2="239.34" y2="215.51" stroke="#0e8ed7"/>
<line x1="239.34" y1="215.51" x2="250.01" y2="208.77" stroke="#0a96d3"/>
<line x1="250.01" y1="208.77" x2="260.69" y2="201.82" stroke="#079ecf"/>
<line x1="260.69" y1="201.82" x2="271.37" y2="194.66" stroke="#07a5c9"/>
<line x1="271.37" y1="194.66" x2="282.05" y2="187.30" stroke="#0babc2"/>
<line x1="282.05" y1="187.30" x2="292.73" y2="179.73" stroke="#10b0bb"/>
<line x1="292.73" y1="179.73" x2="303.41" y2="171.95" stroke="#15b6b1"/>
<line x1="303.41" y1="171.95" x2="314.09" y2="163.97" stroke="#19bca7"/>
<line x1="314.09" y1="163.97" x2="324.77" y2="155.78" stroke="#27c299"/>
<line x1="324.77" y1="155.78" x2="335.45" y2="147.38" stroke="#43c782"/>
<line x1="335.45" y1="147.38" x2="346.13" y2="138.78" stroke="#68c967"/>
<line x1="346.13" y1="138.78" x2="356.81" y2="129.97" stroke="#97c44d"/>
<line x1="356.81" y1="129.97" x2="367.49" y2="120.96" stroke="#cbbe42"/>
<line x1="367.49" y1="120.96" x2="378.16" y2="111.74" stroke="#f6b943"/>
<line x1="378.16" y1="111.74" x2="388.84" y2="102.31" stroke="#fbbc3d"/>
<line x1="388.84" y1="102.31" x2="399.52" y2="92.68" stroke="#ffc42f"/>
<line x1="399.52" y1="92.68" x2="410.20" y2="82.84" stroke="#ffd315"/>
<line x1="410.20" y1="82.84" x2="420.88" y2="72.79" stroke="#ffe406"/>
<line x1="209.92" y1="237.96" x2="220.60" y2="231.76" stroke="#0e7dda"/>
<line x1="220.60" y1="231.76" x2="231.28" y2="225.36" stroke="#0e83da"/>
<line x1="231.28" y1="225.36" x2="241.96" y2="218.74" stroke="#0f8ad9"/>
<line x1="241.96" y1="218.74" x2="252.63" y2="211.91" stroke="#0c92d5"/>
<line x1="252.63" y1="211.91" x2="263.31" y2="204.87" stroke="#099ad1"/>
<line x1="263.31" y1="204.87" x2="273.99" y2="197.62" stroke="#05a3cc"/>
<line x1="273.99" y1="197.62" x2="284.67" y2="190.16" stroke="#0aa9c5"/>
<line x1="284.67" y1="190.16" x2="295.35" y2="182.49" stroke="#0eaebd"/>
<line x1="295.35" y1="182.49" x2="306.03" y2="174.61" stroke="#13b4b5"/>
<line x1="306.03" y1="174.61" x2="316.71" y2="166.51" stroke="#18bba9"/>
<line x1="316.71" y1="166.51" x2="327.39" y2="158.21" stroke="#23c19c"/>
<line x1="327.39" y1="158.21" x2="338.07" y2="149.70" stroke="#3cc687"/>
<line x1="338.07" y1="149.70" x2="348.75" y2="140.97" stroke="#60c96c"/>
<line x1="348.75" y1="140.97" x2="359.43" y2="132.04" stroke="#90c551"/>
<line x1="359.43" y1="132.04" x2="370.11" y2="122.89" stroke="#c4bf41"/>
<line x1="370.11" y1="122.89" x2="380.78" y2="113.54" stroke="#f6b844"/>
<line x1="380.78" y1="113.54" x2="391.46" y2="103.97" stroke="#fbbc3d"/>
<line x1="391.46" y1="103.97" x2="402.14" y2="94.19" stroke="#ffc331"/>
<line x1="402.14" y1="94.19" x2="412.82" y2="84.20" stroke="#ffd315"/>
<line x1="412.82" y1="84.20" x2="423.50" y2="74.00" stroke="#ffe406"/>
<line x1="212.54" y1="241.42" x2="223.22" y2="235.15" stroke="#0d79db"/>
<line x1="223.22" y1="235.15" x2="233.90" y2="228.66" stroke="#0e7fda"/>
<line x1="233.90" y1="228.66" x2="244.58" y2="221.97" stroke="#0f86d9"/>
<line x1="244.58" y1="221.97" x2="255.25" y2="215.05" stroke="#0e8ed7"/>
<line x1="255.25" y1="215.05" x2="265.93" y2="207.92" stroke="#0a96d2"/>
<line x1="265.93" y1="207.92" x2="276.61" y2="200.58" stroke="#079fce"/>
<line x1="276.61" y1="200.58" x2="287.29" y2="193.02" stroke="#08a7c8"/>
<line x1="287.29" y1="193.02" x2="297.97" y2="185.25" stroke="#0dacc0"/>
<line x1="297.97" y1="185.25" x2="308.65" y2="177.26" stroke="#12b2b8"/>
<line x1="308.65" y1="177.26" x2="319.33" y2="169.06" stroke="#17b9ac"/>
<line x1="319.33" y1="169.06" x2="330.01" y2="160.64" stroke="#20bf9f"/>
<line x1="330.01" y1="160.64" x2="340.69" y2="152.01" stroke="#35c58d"/>
<line x1="340.69" y1="152.01" x2="351.37" y2="143.16" stroke="#5ac971"/>
<line x1="351.37" y1="143.16" x2="362.05" y2="134.10" stroke="#88c655"/>
<line x1="362.05" y1="134.10" x2="372.73" y2="124.82" stroke="#bdc041"/>
<line x1="372.73" y1="124.82" x2="383.40" y2="115.33" stroke="#f5b844"/>
<line x1="383.40" y1="115.33" x2="394.08" y2="105.63" stroke="#fabc3e"/>
<line x1="394.08" y1="105.63" x2="404.76" y2="95.71" stroke="#ffc233"/>
<line x1="404.76" y1="95.71" x2="415.44" y2="85.57" stroke="#ffd216"/>
<line x1="415.44" y1="85.57" x2="426.12" y2="75.22" stroke="#ffe407"/>
<line x1="215.16" y1="244.88" x2="225.84" y2="238.53" stroke="#0d75db"/>
<line x1="225.84" y1="238.53" x2="236.52" y2="231.97" stroke="#0e7cdb"/>
<line x1="236.52" y1="231.97" x2="247.20" y2="225.19" stroke="#0e83da"/>
<line x1="247.20" y1="225.19" x2="257.88" y2="218.19" stroke="#0f8ad9"/>
<line x1="257.88" y1="218.19" x2="268.55" y2="210.98" stroke="#0c93d4"/>
<line x1="268.55" y1="210.98" x2="279.23" y2="203.54" stroke="#089cd0"/>
<line x1="279.23" y1="203.54" x2="289.91" y2="195.88" stroke="#06a5ca"/>
<line x1="289.91" y1="195.88" x2="300.59" y2="188.01" stroke="#0baac2"/>
<line x1="300.59" y1="188.01" x2="311.27" y2="179.92" stroke="#10b1ba"/>
<line x1="311.27" y1="179.92" x2="321.95" y2="171.60" stroke="#15b7af"/>
<line x1="321.95" y1="171.60" x2="332.63" y2="163.07" stroke="#1cbea3"/>
<line x1="332.63" y1="163.07" x2="343.31" y2="154.32" stroke="#2dc592"/>
<line x1="343.31" y1="154.32" x2="353.99" y2="145.35" stroke="#53c876"/>
<line x1="353.99" y1="145.35" x2="364.67" y2="136.16" stroke="#81c659"/>
<line x1="364.67" y1="136.16" x2="375.35" y2="126.76" stroke="#b6c140"/>
<line x1="375.35" y1="126.76" x2="386.02" y2="117.13" stroke="#f3b845"/>
<line x1="386.02" y1="117.13" x2="396.70" y2="107.28" stroke="#fabc3e"/>
<line x1="396.70" y1="107.28" x2="407.38" y2="97.22" stroke="#ffc134"/>
<line x1="407.38" y1="97.22" x2="418.06" y2="86.94" stroke="#ffd117"/>
<line x1="418.06" y1="86.94" x2="428.74" y2="76.43" stroke="#ffe307"/>
<line x1="217.78" y1="248.33" x2="228.46" y2="241.92" stroke="#0b70dd"/>
<line x1="228.46" y1="241.92" x2="239.14" y2="235.28" stroke="#0d78db"/>
<line x1="239.14" y1="235.28" x2="249.82" y2="228.42" stroke="#0e7fda"/>
<line x1="249.82" y1="228.42" x2="260.50" y2="221.34" stroke="#0f87d9"/>
<line x1="260.50" y1="221.34" x2="271.17" y2="214.03" stroke="#0d8fd6"/>
<line x1="271.17" y1="214.03" x2="281.85" y2="206.50" stroke="#0998d1"/>
<line x1="281.85" y1="206.50" x2="292.53" y2="198.75" stroke="#06a2cd"/>
<line x1="292.53" y1="198.75" x2="303.21" y2="190.77" stroke="#0aa9c5"/>
<line x1="303.21" y1="190.77" x2="313.89" y2="182.57" stroke="#0fafbc"/>
<line x1="313.89" y1="182.57" x2="324.57" y2="174.15" stroke="#14b6b2"/>
<line x1="324.57" y1="174.15" x2="335.25" y2="165.50" stroke="#19bda6"/>
<line x1="335.25" y1="165.50" x2="345.93" y2="156.63" stroke="#29c396"/>
<line x1="345.93" y1="156.63" x2="356.61" y2="147.54" stroke="#4dc87a"/>
<line x1="356.61" y1="147.54" x2="367.29" y2="138.23" stroke="#7ac75d"/>
<line x1="367.29" y1="138.23" x2="377.97" y2="128.69" stroke="#aec240"/>
<line x1="377.97" y1="128.69" x2="388.64" y2="118.93" stroke="#edb944"/>
<line x1="388.64" y1="118.93" x2="399.32" y2="108.94" stroke="#fabb3f"/>
<line x1="399.32" y1="108.94" x2="410.00" y2="98.73" stroke="#ffc036"/>
<line x1="410.00" y1="98.73" x2="420.68" y2="88.30" stroke="#ffd117"/>
<line x1="420.68" y1="88.30" x2="431.36" y2="77.65" stroke="#ffe307"/>
<line x1="220.40" y1="251.79" x2="231.08" y2="245.30" stroke="#0a6bde"/>
<line x1="231.08" y1="245.30" x2="241.76" y2="238.59" stroke="#0c74dc"/>
<line x1="241.76" y1="238.59" x2="252.44" y2="231.65" stroke="#0e7bdb"/>
<line x1="252.44" y1="231.65" x2="263.12" y2="224.48" stroke="#0e83da"/>
<line x1="263.12" y1="224.48" x2="273.79" y2="217.08" stroke="#0f8bd8"/>
<line x1="273.79" y1="217.08" x2="284.47" y2="209.46" stroke="#0b95d3"/>
<line x1="284.47" y1="209.46" x2="295.15" y2="201.61" stroke="#079fce"/>
<line x1="295.15" y1="201.61" x2="305.83" y2="193.53" stroke="#08a7c7"/>
<line x1="305.83" y1="193.53" x2="316.51" y2="185.23" stroke="#0dadbf"/>
<line x1="316.51" y1="185.23" x2="327.19" y2="176.70" stroke="#13b4b5"/>
<line x1="327.19" y1="176.70" x2="337.87" y2="167.94" stroke="#18bba9"/>
<line x1="337.87" y1="167.94" x2="348.55" y2="158.95" stroke="#26c299"/>
<line x1="348.55" y1="158.95" x2="359.23" y2="149.73" stroke="#46c77f"/>
<line x1="359.23" y1="149.73" x2="369.91" y2="140.29" stroke="#73c861"/>
<line x1="369.91" y1="140.29" x2="380.59" y2="130.62" stroke="#a8c243"/>
<line x1="380.59" y1="130.62" x2="391.26" y2="120.72" stroke="#e7ba44"/>
<line x1="391.26" y1="120.72" x2="401.94" y2="110.60" stroke="#f9bb3f"/>
<line x1="401.94" y1="110.60" x2="412.62" y2="100.25" stroke="#ffbf38"/>
<line x1="412.62" y1="100.25" x2="423.30" y2="89.67" stroke="#ffd018"/>
<line x1="423.30" y1="89.67" x2="433.98" y2="78.86" stroke="#ffe307"/>
<line x1="223.02" y1="255.25" x2="233.70" y2="248.69" stroke="#0967df"/>
<line x1="233.70" y1="248.69" x2="244.38" y2="241.90" stroke="#0b6fdd"/>
<line x1="244.38" y1="241.90" x2="255.06" y2="234.88" stroke="#0d78db"/>
<line x1="255.06" y1="234.88" x2="265.74" y2="227.62" stroke="#0e80da"/>
<line x1="265.74" y1="227.62" x2="276.41" y2="220.14" stroke="#0f88d9"/>
<line x1="276.41" y1="220.14" x2="287.09" y2="212.42" stroke="#0c91d5"/>
<line x1="287.09" y1="212.42" x2="297.77" y2="204.47" stroke="#089bd0"/>
<line x1="297.77" y1="204.47" x2="308.45" y2="196.29" stroke="#06a5ca"/>
<line x1="308.45" y1="196.29" x2="319.13" y2="187.88" stroke="#0cabc1"/>
<line x1="319.13" y1="187.88" x2="329.81" y2="179.24" stroke="#12b2b8"/>
<line x1="329.81" y1="179.24" x2="340.49" y2="170.37" stroke="#17b9ab"/>
<line x1="340.49" y1="170.37" x2="351.17" y2="161.26" stroke="#23c19c"/>
<line x1="351.17" y1="161.26" x2="361.85" y2="151.92" stroke="#40c684"/>
<line x1="361.85" y1="151.92" x2="372.53" y2="142.35" stroke="#6bc865"/>
<line x1="372.53" y1="142.35" x2="383.21" y2="132.55" stroke="#a2c346"/>
<line x1="383.21" y1="132.55" x2="393.88" y2="122.52" stroke="#e1ba43"/>
<line x1="393.88" y1="122.52" x2="404.56" y2="112.26" stroke="#f9bb40"/>
<line x1="404.56" y1="112.26" x2="415.24" y2="101.76" stroke="#ffbf38"/>
<line x1="415.24" y1="101.76" x2="425.92" y2="91.03" stroke="#ffd018"/>
<line x1="425.92" y1="91.03" x2="436.60" y2="80.08" stroke="#ffe307"/>
<line x1="225.64" y1="258.70" x2="236.32" y2="252.07" stroke="#0862e0"/>
<line x1="236.32" y1="252.07" x2="247.00" y2="245.21" stroke="#0a6bde"/>
<line x1="247.00" y1="245.21" x2="257.68" y2="238.10" stroke="#0c74dc"/>
<line x1="257.68" y1="238.10" x2="268.36" y2="230.77" stroke="#0e7cda"/>
<line x1="268.36" y1="230.77" x2="279.03" y2="223.19" stroke="#0f85d9"/>
<line x1="279.03" y1="223.19" x2="289.71" y2="215.38" stroke="#0e8ed7"/>
<line x1="289.71" y1="215.38" x2="300.39" y2="207.34" stroke="#0a98d2"/>
<line x1="300.39" y1="207.34" x2="311.07" y2="199.06" stroke="#05a3cc"/>
<line x1="311.07" y1="199.06" x2="321.75" y2="190.54" stroke="#0aaac3"/>
<line x1="321.75" y1="190.54" x2="332.43" y2="181.79" stroke="#10b1ba"/>
<line x1="332.43" y1="181.79" x2="343.11" y2="172.80" stroke="#16b8ae"/>
<line x1="343.11" y1="172.80" x2="353.79" y2="163.57" stroke="#20bf9f"/>
<line x1="353.79" y1="163.57" x2="364.47" y2="154.11" stroke="#39c689"/>
<line x1="364.47" y1="154.11" x2="375.15" y2="144.42" stroke="#64c969"/>
<line x1="375.15" y1="144.42" x2="385.83" y2="134.49" stroke="#9bc44a"/>
<line x1="385.83" y1="134.49" x2="396.50" y2="124.32" stroke="#dbbb43"/>
<line x1="396.50" y1="124.32" x2="407.18" y2="113.92" stroke="#f8ba40"/>
<line x1="407.18" y1="113.92" x2="417.86" y2="103.28" stroke="#febf39"/>
<line x1="417.86" y1="103.28" x2="428.54" y2="92.40" stroke="#ffcf19"/>
<line x1="428.54" y1="92.40" x2="439.22" y2="81.29" stroke="#ffe207"/>
<line x1="228.26" y1="262.16" x2="238.94" y2="255.46" stroke="#125ad9"/>
<line x1="238.94" y1="255.46" x2="249.62" y2="248.51" stroke="#0966df"/>
<line x1="249.62" y1="248.51" x2="260.30" y2="241.33" stroke="#0b70dd"/>
<line x1="260.30" y1="241.33" x2="270.98" y2="233.91" stroke="#0d79db"/>
<line x1="270.98" y1="233.91" x2="281.65" y2="226.25" stroke="#0e81da"/>
<line x1="281.65" y1="226.25" x2="292.33" y2="218.34" stroke="#0f8ad8"/>
<line x1="292.33" y1="218.34" x2="303.01" y2="210.20" stroke="#0b95d3"/>
<line x1="303.01" y1="210.20" x2="313.69" y2="201.82" stroke="#07a0ce"/>
<line x1="313.69" y1="201.82" x2="324.37" y2="193.19" stroke="#09a8c6"/>
<line x1="324.37" y1="193.19" x2="335.05" y2="184.33" stroke="#0fafbc"/>
<line x1="335.05" y1="184.33" x2="345.73" y2="175.23" stroke="#15b6b1"/>
<line x1="345.73" y1="175.23" x2="356.41" y2="165.89" stroke="#1dbea3"/>
<line x1="356.41" y1="165.89" x2="367.09" y2="156.30" stroke="#33c58e"/>
<line x1="367.09" y1="156.30" x2="377.77" y2="146.48" stroke="#5ec96d"/>
<line x1="377.77" y1="146.48" x2="388.45" y2="136.42" stroke="#95c44d"/>
<line x1="388.45" y1="136.42" x2="399.12" y2="126.12" stroke="#d5bc43"/>
<line x1="399.12" y1="126.12" x2="409.80" y2="115.57" stroke="#f8ba41"/>
<line x1="409.80" y1="115.57" x2="420.48" y2="104.79" stroke="#febf39"/>
<line x1="420.48" y1="104.79" x2="431.16" y2="93.77" stroke="#ffcf19"/>
<line x1="431.16" y1="93.77" x2="441.84" y2="82.50" stroke="#ffe208"/>
<line x1="230.88" y1="265.62" x2="241.56" y2="258.84" stroke="#2051cf"/>
<line x1="241.56" y1="258.84" x2="252.24" y2="251.82" stroke="#0862e0"/>
<line x1="252.24" y1="251.82" x2="262.92" y2="244.56" stroke="#0a6bde"/>
<line x1="262.92" y1="244.56" x2="273.59" y2="237.05" stroke="#0d75db"/>
<line x1="273.59" y1="237.05" x2="284.27" y2="229.30" stroke="#0e7eda"/>
<line x1="284.27" y1="229.30" x2="294.95" y2="221.30" stroke="#0f87d9"/>
<line x1="294.95" y1="221.30" x2="305.63" y2="213.06" stroke="#0c91d5"/>
<line x1="305.63" y1="213.06" x2="316.31" y2="204.58" stroke="#089ccf"/>
<line x1="316.31" y1="204.58" x2="326.99" y2="195.85" stroke="#08a6c8"/>
<line x1="326.99" y1="195.85" x2="337.67" y2="186.88" stroke="#0eadbf"/>
<line x1="337.67" y1="186.88" x2="348.35" y2="177.66" stroke="#14b5b4"/>
<line x1="348.35" y1="177.66" x2="359.03" y2="168.20" stroke="#1abda6"/>
<line x1="359.03" y1="168.20" x2="369.71" y2="158.49" stroke="#2cc493"/>
<line x1="369.71" y1="158.49" x2="380.39" y2="148.54" stroke="#58c972"/>
<line x1="380.39" y1="148.54" x2="391.07" y2="138.35" stroke="#8fc551"/>
<line x1="391.07" y1="138.35" x2="401.74" y2="127.91" stroke="#cfbd42"/>
<line x1="401.74" y1="127.91" x2="412.42" y2="117.23" stroke="#f8ba41"/>
<line x1="412.42" y1="117.23" x2="423.10" y2="106.30" stroke="#febe3a"/>
<line x1="423.10" y1="106.30" x2="433.78" y2="95.13" stroke="#ffce1b"/>
<line x1="433.78" y1="95.13" x2="444.46" y2="83.72" stroke="#ffe208"/>
<line x1="233.50" y1="269.07" x2="244.18" y2="262.23" stroke="#2c49c5"/>
<line x1="244.18" y1="262.23" x2="254.86" y2="255.13" stroke="#135ad8"/>
<line x1="254.86" y1="255.13" x2="265.54" y2="247.79" stroke="#0967df"/>
<line x1="265.54" y1="247.79" x2="276.21" y2="240.19" stroke="#0c71dc"/>
<line x1="276.21" y1="240.19" x2="286.89" y2="232.35" stroke="#0d7bdb"/>
<line x1="286.89" y1="232.35" x2="297.57" y2="224.26" stroke="#0f84d9"/>
<line x1="297.57" y1="224.26" x2="308.25" y2="215.93" stroke="#0e8ed7"/>
<line x1="308.25" y1="215.93" x2="318.93" y2="207.34" stroke="#0999d1"/>
<line x1="318.93" y1="207.34" x2="329.61" y2="198.51" stroke="#06a4cb"/>
<line x1="329.61" y1="198.51" x2="340.29" y2="189.42" stroke="#0cacc1"/>
<line x1="340.29" y1="189.42" x2="350.97" y2="180.09" stroke="#12b3b6"/>
<line x1="350.97" y1="180.09" x2="361.65" y2="170.51" stroke="#18bba8"/>
<line x1="361.65" y1="170.51" x2="372.33" y2="160.68" stroke="#29c396"/>
<line x1="372.33" y1="160.68" x2="383.01" y2="150.61" stroke="#52c876"/>
<line x1="383.01" y1="150.61" x2="393.69" y2="140.28" stroke="#89c555"/>
<line x1="393.69" y1="140.28" x2="404.36" y2="129.71" stroke="#c9be42"/>
<line x1="404.36" y1="129.71" x2="415.04" y2="118.89" stroke="#f7b942"/>
<line x1="415.04" y1="118.89" x2="425.72" y2="107.82" stroke="#febe3a"/>
<line x1="425.72" y1="107.82" x2="436.40" y2="96.50" stroke="#ffce1c"/>
<line x1="436.40" y1="96.50" x2="447.08" y2="84.93" stroke="#ffe208"/>
<line x1="236.12" y1="272.53" x2="246.80" y2="265.61" stroke="#3142b9"/>
<line x1="246.80" y1="265.61" x2="257.48" y2="258.44" stroke="#2051cf"/>
<line x1="257.48" y1="258.44" x2="268.16" y2="251.01" stroke="#0862e0"/>
<line x1="268.16" y1="251.01" x2="278.83" y2="243.34" stroke="#0b6ddd"/>
<line x1="278.83" y1="243.34" x2="289.51" y2="235.41" stroke="#0d77db"/>
<line x1="289.51" y1="235.41" x2="300.19" y2="227.22" stroke="#0e81da"/>
<line x1="300.19" y1="227.22" x2="310.87" y2="218.79" stroke="#0f8bd8"/>
<line x1="310.87" y1="218.79" x2="321.55" y2="210.10" stroke="#0a96d3"/>
<line x1="321.55" y1="210.10" x2="332.23" y2="201.16" stroke="#06a2cd"/>
<line x1="332.23" y1="201.16" x2="342.91" y2="191.97" stroke="#0baac3"/>
<line x1="342.91" y1="191.97" x2="353.59" y2="182.52" stroke="#11b2b9"/>
<line x1="353.59" y1="182.52" x2="364.27" y2="172.83" stroke="#17baab"/>
<line x1="364.27" y1="172.83" x2="374.95" y2="162.87" stroke="#26c299"/>
<line x1="374.95" y1="162.87" x2="385.63" y2="152.67" stroke="#4dc87b"/>
<line x1="385.63" y1="152.67" x2="396.31" y2="142.22" stroke="#82c658"/>
<line x1="396.31" y1="142.22" x2="406.98" y2="131.51" stroke="#c3bf41"/>
<line x1="406.98" y1="131.51" x2="417.66" y2="120.55" stroke="#f7b942"/>
<line x1="417.66" y1="120.55" x2="428.34" y2="109.33" stroke="#fdbe3a"/>
<line x1="428.34" y1="109.33" x2="439.02" y2="97.87" stroke="#ffcd1d"/>
<line x1="439.02" y1="97.87" x2="449.70" y2="86.15" stroke="#ffe108"/>
<line x1="238.74" y1="275.99" x2="249.42" y2="268.99" stroke="#353bac"/>
<line x1="249.42" y1="268.99" x2="260.10" y2="261.75" stroke="#2c49c6"/>
<line x1="260.10" y1="261.75" x2="270.78" y2="254.24" stroke="#105bda"/>
<line x1="270.78" y1="254.24" x2="281.45" y2="246.48" stroke="#0a69de"/>
<line x1="281.45" y1="246.48" x2="292.13" y2="238.46" stroke="#0c74dc"/>
<line x1="292.13" y1="238.46" x2="302.81" y2="230.18" stroke="#0e7eda"/>
<line x1="302.81" y1="230.18" x2="313.49" y2="221.65" stroke="#0f88d9"/>
<line x1="313.49" y1="221.65" x2="324.17" y2="212.86" stroke="#0c93d4"/>
<line x1="324.17" y1="212.86" x2="334.85" y2="203.82" stroke="#079fce"/>
<line x1="334.85" y1="203.82" x2="345.53" y2="194.51" stroke="#09a8c5"/>
<line x1="345.53" y1="194.51" x2="356.21" y2="184.95" stroke="#10b0bb"/>
<line x1="356.21" y1="184.95" x2="366.89" y2="175.14" stroke="#16b9ad"/>
<line x1="366.89" y1="175.14" x2="377.57" y2="165.07" stroke="#23c19c"/>
<line x1="377.57" y1="165.07" x2="388.25" y2="154.74" stroke="#47c77f"/>
<line x1="388.25" y1="154.74" x2="398.93" y2="144.15" stroke="#7cc75c"/>
<line x1="398.93" y1="144.15" x2="409.60" y2="133.30" stroke="#bcc041"/>
<line x1="409.60" y1="133.30" x2="420.28" y2="122.20" stroke="#f6b943"/>
<line x1="420.28" y1="122.20" x2="430.96" y2="110.85" stroke="#fdbe3b"/>
<line x1="430.96" y1="110.85" x2="441.64" y2="99.23" stroke="#ffcc1e"/>
<line x1="441.64" y1="99.23" x2="452.32" y2="87.36" stroke="#ffe108"/>
<line x1="241.36" y1="279.44" x2="252.04" y2="272.38" stroke="#36369f"/>
<line x1="252.04" y1="272.38" x2="262.72" y2="265.05" stroke="#3043b9"/>
<line x1="262.72" y1="265.05" x2="273.40" y2="257.47" stroke="#1d53d1"/>
<line x1="273.40" y1="257.47" x2="284.07" y2="249.62" stroke="#0864e0"/>
<line x1="284.07" y1="249.62" x2="294.75" y2="241.51" stroke="#0b70dd"/>
<line x1="294.75" y1="241.51" x2="305.43" y2="233.15" stroke="#0d7adb"/>
<line x1="305.43" y1="233.15" x2="316.11" y2="224.52" stroke="#0f85d9"/>
<line x1="316.11" y1="224.52" x2="326.79" y2="215.62" stroke="#0d90d6"/>
<line x1="326.79" y1="215.62" x2="337.47" y2="206.47" stroke="#089ccf"/>
<line x1="337.47" y1="206.47" x2="348.15" y2="197.06" stroke="#08a7c7"/>
<line x1="348.15" y1="197.06" x2="358.83" y2="187.39" stroke="#0fafbd"/>
<line x1="358.83" y1="187.39" x2="369.51" y2="177.45" stroke="#15b7af"/>
<line x1="369.51" y1="177.45" x2="380.19" y2="167.26" stroke="#21c09f"/>
<line x1="380.19" y1="167.26" x2="390.87" y2="156.80" stroke="#41c683"/>
<line x1="390.87" y1="156.80" x2="401.55" y2="146.08" stroke="#76c75f"/>
<line x1="401.55" y1="146.08" x2="412.22" y2="135.10" stroke="#b6c140"/>
<line x1="412.22" y1="135.10" x2="422.90" y2="123.86" stroke="#f6b843"/>
<line x1="422.90" y1="123.86" x2="433.58" y2="112.36" stroke="#fdbd3b"/>
<line x1="433.58" y1="112.36" x2="444.26" y2="100.60" stroke="#ffcc1f"/>
<line x1="444.26" y1="100.60" x2="454.94" y2="88.58" stroke="#ffe109"/>
</g>
<g fill="none" stroke-linecap="round" stroke-width="1.35">
<line x1="84.16" y1="72.03" x2="86.78" y2="75.49" stroke="#ffe804"/>
<line x1="86.78" y1="75.49" x2="89.40" y2="78.95" stroke="#ffe307"/>
<line x1="89.40" y1="78.95" x2="92.02" y2="82.40" stroke="#ffdd0b"/>
<line x1="92.02" y1="82.40" x2="94.64" y2="85.86" stroke="#ffd810"/>
<line x1="94.64" y1="85.86" x2="97.26" y2="89.32" stroke="#ffd315"/>
<line x1="97.26" y1="89.32" x2="99.88" y2="92.77" stroke="#ffce1c"/>
<line x1="99.88" y1="92.77" x2="102.50" y2="96.23" stroke="#ffc926"/>
<line x1="102.50" y1="96.23" x2="105.12" y2="99.69" stroke="#ffc430"/>
<line x1="105.12" y1="99.69" x2="107.74" y2="103.14" stroke="#ffbf38"/>
<line x1="107.74" y1="103.14" x2="110.36" y2="106.60" stroke="#fdbe3b"/>
<line x1="110.36" y1="106.60" x2="112.98" y2="110.06" stroke="#fbbc3d"/>
<line x1="112.98" y1="110.06" x2="115.60" y2="113.52" stroke="#f9bb3f"/>
<line x1="115.60" y1="113.52" x2="118.22" y2="116.97" stroke="#f8ba41"/>
<line x1="118.22" y1="116.97" x2="120.84" y2="120.43" stroke="#f6b843"/>
<line x1="120.84" y1="120.43" x2="123.46" y2="123.89" stroke="#edb944"/>
<line x1="123.46" y1="123.89" x2="126.08" y2="127.34" stroke="#d8bc43"/>
<line x1="126.08" y1="127.34" x2="128.70" y2="130.80" stroke="#c3bf41"/>
<line x1="128.70" y1="130.80" x2="131.32" y2="134.26" stroke="#afc240"/>
<line x1="131.32" y1="134.26" x2="133.94" y2="137.71" stroke="#9dc349"/>
<line x1="133.94" y1="137.71" x2="136.56" y2="141.17" stroke="#8bc553"/>
<line x1="136.56" y1="141.17" x2="139.18" y2="144.63" stroke="#79c75d"/>
<line x1="139.18" y1="144.63" x2="141.80" y2="148.08" stroke="#67c968"/>
<line x1="141.80" y1="148.08" x2="144.42" y2="151.54" stroke="#58c972"/>
<line x1="144.42" y1="151.54" x2="147.04" y2="155.00" stroke="#4ac77d"/>
<line x1="147.04" y1="155.00" x2="149.66" y2="158.45" stroke="#3cc687"/>
<line x1="149.66" y1="158.45" x2="152.28" y2="161.91" stroke="#2ec592"/>
<line x1="152.28" y1="161.91" x2="154.90" y2="165.37" stroke="#26c299"/>
<line x1="154.90" y1="165.37" x2="157.52" y2="168.82" stroke="#20c09f"/>
<line x1="157.52" y1="168.82" x2="160.14" y2="172.28" stroke="#1abda5"/>
<line x1="160.14" y1="172.28" x2="162.76" y2="175.74" stroke="#18baaa"/>
<line x1="162.76" y1="175.74" x2="165.38" y2="179.20" stroke="#16b8af"/>
<line x1="165.38" y1="179.20" x2="168.00" y2="182.65" stroke="#14b5b4"/>
<line x1="168.00" y1="182.65" x2="170.62" y2="186.11" stroke="#12b2b8"/>
<line x1="170.62" y1="186.11" x2="173.24" y2="189.57" stroke="#0fafbc"/>
<line x1="173.24" y1="189.57" x2="175.86" y2="193.02" stroke="#0dadbf"/>
<line x1="175.86" y1="193.02" x2="178.48" y2="196.48" stroke="#0baac3"/>
<line x1="178.48" y1="196.48" x2="181.10" y2="199.94" stroke="#09a7c6"/>
<line x1="181.10" y1="199.94" x2="183.72" y2="203.39" stroke="#06a5ca"/>
<line x1="183.72" y1="203.39" x2="186.34" y2="206.85" stroke="#06a1cd"/>
<line x1="186.34" y1="206.85" x2="188.96" y2="210.31" stroke="#089dcf"/>
<line x1="188.96" y1="210.31" x2="191.58" y2="213.76" stroke="#0998d1"/>
<line x1="191.58" y1="213.76" x2="194.20" y2="217.22" stroke="#0b94d4"/>
<line x1="194.20" y1="217.22" x2="196.82" y2="220.68" stroke="#0d8fd6"/>
<line x1="196.82" y1="220.68" x2="199.44" y2="224.13" stroke="#0f8bd8"/>
<line x1="199.44" y1="224.13" x2="202.06" y2="227.59" stroke="#0f87d9"/>
<line x1="202.06" y1="227.59" x2="204.68" y2="231.05" stroke="#0e83da"/>
<line x1="204.68" y1="231.05" x2="207.30" y2="234.50" stroke="#0e7fda"/>
<line x1="207.30" y1="234.50" x2="209.92" y2="237.96" stroke="#0d7bdb"/>
<line x1="209.92" y1="237.96" x2="212.54" y2="241.42" stroke="#0d77db"/>
<line x1="212.54" y1="241.42" x2="215.16" y2="244.88" stroke="#0c72dc"/>
<line x1="215.16" y1="244.88" x2="217.78" y2="248.33" stroke="#0b6ddd"/>
<line x1="217.78" y1="248.33" x2="220.40" y2="251.79" stroke="#0a68df"/>
<line x1="220.40" y1="251.79" x2="223.02" y2="255.25" stroke="#0863e0"/>
<line x1="223.02" y1="255.25" x2="225.64" y2="258.70" stroke="#0e5ddc"/>
<line x1="225.64" y1="258.70" x2="228.26" y2="262.16" stroke="#1c54d2"/>
<line x1="228.26" y1="262.16" x2="230.88" y2="265.62" stroke="#2a4bc8"/>
<line x1="230.88" y1="265.62" x2="233.50" y2="269.07" stroke="#3043bb"/>
<line x1="233.50" y1="269.07" x2="236.12" y2="272.53" stroke="#343cae"/>
<line x1="236.12" y1="272.53" x2="238.74" y2="275.99" stroke="#3636a1"/>
<line x1="238.74" y1="275.99" x2="241.36" y2="279.44" stroke="#363194"/>
<line x1="94.84" y1="69.30" x2="97.46" y2="72.69" stroke="#ffe804"/>
<line x1="97.46" y1="72.69" x2="100.08" y2="76.07" stroke="#ffe307"/>
<line x1="100.08" y1="76.07" x2="102.70" y2="79.46" stroke="#ffde0b"/>
<line x1="102.70" y1="79.46" x2="105.32" y2="82.84" stroke="#ffd910"/>
<line x1="105.32" y1="82.84" x2="107.94" y2="86.23" stroke="#ffd315"/>
<line x1="107.94" y1="86.23" x2="110.56" y2="89.61" stroke="#ffce1a"/>
<line x1="110.56" y1="89.61" x2="113.18" y2="93.00" stroke="#ffca23"/>
<line x1="113.18" y1="93.00" x2="115.80" y2="96.38" stroke="#ffc52d"/>
<line x1="115.80" y1="96.38" x2="118.42" y2="99.76" stroke="#ffc037"/>
<line x1="118.42" y1="99.76" x2="121.04" y2="103.15" stroke="#febe3a"/>
<line x1="121.04" y1="103.15" x2="123.66" y2="106.53" stroke="#fcbd3c"/>
<line x1="123.66" y1="106.53" x2="126.28" y2="109.92" stroke="#fabc3e"/>
<line x1="126.28" y1="109.92" x2="128.90" y2="113.30" stroke="#f8ba40"/>
<line x1="128.90" y1="113.30" x2="131.52" y2="116.69" stroke="#f7b943"/>
<line x1="131.52" y1="116.69" x2="134.14" y2="120.07" stroke="#f5b845"/>
<line x1="134.14" y1="120.07" x2="136.76" y2="123.46" stroke="#e2ba44"/>
<line x1="136.76" y1="123.46" x2="139.38" y2="126.84" stroke="#cebd42"/>
<line x1="139.38" y1="126.84" x2="142.00" y2="130.23" stroke="#bac041"/>
<line x1="142.00" y1="130.23" x2="144.62" y2="133.61" stroke="#a7c243"/>
<line x1="144.62" y1="133.61" x2="147.24" y2="137.00" stroke="#96c44d"/>
<line x1="147.24" y1="137.00" x2="149.86" y2="140.38" stroke="#85c657"/>
<line x1="149.86" y1="140.38" x2="152.48" y2="143.76" stroke="#73c861"/>
<line x1="152.48" y1="143.76" x2="155.10" y2="147.15" stroke="#62c96a"/>
<line x1="155.10" y1="147.15" x2="157.72" y2="150.53" stroke="#54c875"/>
<line x1="157.72" y1="150.53" x2="160.34" y2="153.92" stroke="#46c77f"/>
<line x1="160.34" y1="153.92" x2="162.96" y2="157.30" stroke="#39c68a"/>
<line x1="162.96" y1="157.30" x2="165.58" y2="160.69" stroke="#2bc494"/>
<line x1="165.58" y1="160.69" x2="168.20" y2="164.07" stroke="#25c29a"/>
<line x1="168.20" y1="164.07" x2="170.82" y2="167.46" stroke="#20bfa0"/>
<line x1="170.82" y1="167.46" x2="173.44" y2="170.84" stroke="#1abda6"/>
<line x1="173.44" y1="170.84" x2="176.06" y2="174.23" stroke="#18baaa"/>
<line x1="176.06" y1="174.23" x2="178.68" y2="177.61" stroke="#16b7af"/>
<line x1="178.68" y1="177.61" x2="181.30" y2="181.00" stroke="#14b5b4"/>
<line x1="181.30" y1="181.00" x2="183.92" y2="184.38" stroke="#12b2b8"/>
<line x1="183.92" y1="184.38" x2="186.54" y2="187.76" stroke="#0fb0bb"/>
<line x1="186.54" y1="187.76" x2="189.16" y2="191.15" stroke="#0dadbf"/>
<line x1="189.16" y1="191.15" x2="191.78" y2="194.53" stroke="#0baac2"/>
<line x1="191.78" y1="194.53" x2="194.40" y2="197.92" stroke="#09a8c6"/>
<line x1="194.40" y1="197.92" x2="197.02" y2="201.30" stroke="#07a5c9"/>
<line x1="197.02" y1="201.30" x2="199.64" y2="204.69" stroke="#05a2cc"/>
<line x1="199.64" y1="204.69" x2="202.26" y2="208.07" stroke="#079ecf"/>
<line x1="202.26" y1="208.07" x2="204.88" y2="211.46" stroke="#099ad1"/>
<line x1="204.88" y1="211.46" x2="207.50" y2="214.84" stroke="#0b95d3"/>
<line x1="207.50" y1="214.84" x2="210.12" y2="218.23" stroke="#0c91d5"/>
<line x1="210.12" y1="218.23" x2="212.74" y2="221.61" stroke="#0e8dd7"/>
<line x1="212.74" y1="221.61" x2="215.36" y2="224.99" stroke="#0f88d9"/>
<line x1="215.36" y1="224.99" x2="217.98" y2="228.38" stroke="#0f84d9"/>
<line x1="217.98" y1="228.38" x2="220.60" y2="231.76" stroke="#0e81da"/>
<line x1="220.60" y1="231.76" x2="223.22" y2="235.15" stroke="#0e7dda"/>
<line x1="223.22" y1="235.15" x2="225.84" y2="238.53" stroke="#0d79db"/>
<line x1="225.84" y1="238.53" x2="228.46" y2="241.92" stroke="#0d75db"/>
<line x1="228.46" y1="241.92" x2="231.08" y2="245.30" stroke="#0b70dd"/>
<line x1="231.08" y1="245.30" x2="233.70" y2="248.69" stroke="#0a6bde"/>
<line x1="233.70" y1="248.69" x2="236.32" y2="252.07" stroke="#0967df"/>
<line x1="236.32" y1="252.07" x2="238.94" y2="255.46" stroke="#0862e0"/>
<line x1="238.94" y1="255.46" x2="241.56" y2="258.84" stroke="#125ad9"/>
<line x1="241.56" y1="258.84" x2="244.18" y2="262.23" stroke="#2051cf"/>
<line x1="244.18" y1="262.23" x2="246.80" y2="265.61" stroke="#2c49c5"/>
<line x1="246.80" y1="265.61" x2="249.42" y2="268.99" stroke="#3142b9"/>
<line x1="249.42" y1="268.99" x2="252.04" y2="272.38" stroke="#353bac"/>
<line x1="105.52" y1="66.56" x2="108.14" y2="69.87" stroke="#ffe804"/>
<line x1="108.14" y1="69.87" x2="110.76" y2="73.18" stroke="#ffe307"/>
<line x1="110.76" y1="73.18" x2="113.38" y2="76.49" stroke="#ffde0b"/>
<line x1="113.38" y1="76.49" x2="116.00" y2="79.80" stroke="#ffd90f"/>
<line x1="116.00" y1="79.80" x2="118.62" y2="83.10" stroke="#ffd414"/>
<line x1="118.62" y1="83.10" x2="121.24" y2="86.41" stroke="#ffcf19"/>
<line x1="121.24" y1="86.41" x2="123.86" y2="89.72" stroke="#ffcb21"/>
<line x1="123.86" y1="89.72" x2="126.48" y2="93.03" stroke="#ffc62a"/>
<line x1="126.48" y1="93.03" x2="129.10" y2="96.34" stroke="#ffc134"/>
<line x1="129.10" y1="96.34" x2="131.72" y2="99.65" stroke="#febf39"/>
<line x1="131.72" y1="99.65" x2="134.34" y2="102.95" stroke="#fcbd3b"/>
<line x1="134.34" y1="102.95" x2="136.96" y2="106.26" stroke="#fbbc3d"/>
<line x1="136.96" y1="106.26" x2="139.58" y2="109.57" stroke="#f9bb3f"/>
<line x1="139.58" y1="109.57" x2="142.20" y2="112.88" stroke="#f7ba42"/>
<line x1="142.20" y1="112.88" x2="144.82" y2="116.19" stroke="#f6b844"/>
<line x1="144.82" y1="116.19" x2="147.44" y2="119.49" stroke="#edb944"/>
<line x1="147.44" y1="119.49" x2="150.06" y2="122.80" stroke="#dabb43"/>
<line x1="150.06" y1="122.80" x2="152.68" y2="126.11" stroke="#c6be42"/>
<line x1="152.68" y1="126.11" x2="155.30" y2="129.42" stroke="#b3c140"/>
<line x1="155.30" y1="129.42" x2="157.92" y2="132.73" stroke="#a1c347"/>
<line x1="157.92" y1="132.73" x2="160.54" y2="136.04" stroke="#91c550"/>
<line x1="160.54" y1="136.04" x2="163.16" y2="139.34" stroke="#80c659"/>
<line x1="163.16" y1="139.34" x2="165.78" y2="142.65" stroke="#6fc863"/>
<line x1="165.78" y1="142.65" x2="168.40" y2="145.96" stroke="#5fc96c"/>
<line x1="168.40" y1="145.96" x2="171.02" y2="149.27" stroke="#52c876"/>
<line x1="171.02" y1="149.27" x2="173.64" y2="152.58" stroke="#45c781"/>
<line x1="173.64" y1="152.58" x2="176.26" y2="155.88" stroke="#38c68b"/>
<line x1="176.26" y1="155.88" x2="178.88" y2="159.19" stroke="#2bc494"/>
<line x1="178.88" y1="159.19" x2="181.50" y2="162.50" stroke="#25c29a"/>
<line x1="181.50" y1="162.50" x2="184.12" y2="165.81" stroke="#20bfa0"/>
<line x1="184.12" y1="165.81" x2="186.74" y2="169.12" stroke="#1abda5"/>
<line x1="186.74" y1="169.12" x2="189.36" y2="172.43" stroke="#18baaa"/>
<line x1="189.36" y1="172.43" x2="191.98" y2="175.73" stroke="#16b8ae"/>
<line x1="191.98" y1="175.73" x2="194.60" y2="179.04" stroke="#14b5b3"/>
<line x1="194.60" y1="179.04" x2="197.22" y2="182.35" stroke="#12b3b7"/>
<line x1="197.22" y1="182.35" x2="199.84" y2="185.66" stroke="#10b0bb"/>
<line x1="199.84" y1="185.66" x2="202.46" y2="188.97" stroke="#0eaebe"/>
<line x1="202.46" y1="188.97" x2="205.08" y2="192.27" stroke="#0cabc1"/>
<line x1="205.08" y1="192.27" x2="207.70" y2="195.58" stroke="#0aa9c5"/>
<line x1="207.70" y1="195.58" x2="210.32" y2="198.89" stroke="#08a6c8"/>
<line x1="210.32" y1="198.89" x2="212.94" y2="202.20" stroke="#05a4cb"/>
<line x1="212.94" y1="202.20" x2="215.56" y2="205.51" stroke="#07a0ce"/>
<line x1="215.56" y1="205.51" x2="218.18" y2="208.82" stroke="#089bd0"/>
<line x1="218.18" y1="208.82" x2="220.80" y2="212.12" stroke="#0a97d2"/>
<line x1="220.80" y1="212.12" x2="223.42" y2="215.43" stroke="#0c93d4"/>
<line x1="223.42" y1="215.43" x2="226.04" y2="218.74" stroke="#0d8fd6"/>
<line x1="226.04" y1="218.74" x2="228.66" y2="222.05" stroke="#0f8bd8"/>
<line x1="228.66" y1="222.05" x2="231.28" y2="225.36" stroke="#0f87d9"/>
<line x1="231.28" y1="225.36" x2="233.90" y2="228.66" stroke="#0e83da"/>
<line x1="233.90" y1="228.66" x2="236.52" y2="231.97" stroke="#0e7fda"/>
<line x1="236.52" y1="231.97" x2="239.14" y2="235.28" stroke="#0e7cdb"/>
<line x1="239.14" y1="235.28" x2="241.76" y2="238.59" stroke="#0d78db"/>
<line x1="241.76" y1="238.59" x2="244.38" y2="241.90" stroke="#0c74dc"/>
<line x1="244.38" y1="241.90" x2="247.00" y2="245.21" stroke="#0b6fdd"/>
<line x1="247.00" y1="245.21" x2="249.62" y2="248.51" stroke="#0a6bde"/>
<line x1="249.62" y1="248.51" x2="252.24" y2="251.82" stroke="#0966df"/>
<line x1="252.24" y1="251.82" x2="254.86" y2="255.13" stroke="#0862e0"/>
<line x1="254.86" y1="255.13" x2="257.48" y2="258.44" stroke="#135ad8"/>
<line x1="257.48" y1="258.44" x2="260.10" y2="261.75" stroke="#2051cf"/>
<line x1="260.10" y1="261.75" x2="262.72" y2="265.05" stroke="#2c49c6"/>
<line x1="116.20" y1="63.82" x2="118.82" y2="67.04" stroke="#ffe803"/>
<line x1="118.82" y1="67.04" x2="121.44" y2="70.27" stroke="#ffe406"/>
<line x1="121.44" y1="70.27" x2="124.06" y2="73.50" stroke="#ffdf0a"/>
<line x1="124.06" y1="73.50" x2="126.68" y2="76.73" stroke="#ffda0e"/>
<line x1="126.68" y1="76.73" x2="129.30" y2="79.95" stroke="#ffd513"/>
<line x1="129.30" y1="79.95" x2="131.92" y2="83.18" stroke="#ffd118"/>
<line x1="131.92" y1="83.18" x2="134.54" y2="86.41" stroke="#ffcc1f"/>
<line x1="134.54" y1="86.41" x2="137.16" y2="89.64" stroke="#ffc728"/>
<line x1="137.16" y1="89.64" x2="139.78" y2="92.86" stroke="#ffc331"/>
<line x1="139.78" y1="92.86" x2="142.40" y2="96.09" stroke="#ffbf38"/>
<line x1="142.40" y1="96.09" x2="145.02" y2="99.32" stroke="#fdbe3a"/>
<line x1="145.02" y1="99.32" x2="147.64" y2="102.55" stroke="#fcbd3c"/>
<line x1="147.64" y1="102.55" x2="150.26" y2="105.77" stroke="#fabb3e"/>
<line x1="150.26" y1="105.77" x2="152.88" y2="109.00" stroke="#f8ba40"/>
<line x1="152.88" y1="109.00" x2="155.50" y2="112.23" stroke="#f7b942"/>
<line x1="155.50" y1="112.23" x2="158.12" y2="115.46" stroke="#f5b844"/>
<line x1="158.12" y1="115.46" x2="160.74" y2="118.68" stroke="#e6ba44"/>
<line x1="160.74" y1="118.68" x2="163.36" y2="121.91" stroke="#d3bc42"/>
<line x1="163.36" y1="121.91" x2="165.98" y2="125.14" stroke="#c1bf41"/>
<line x1="165.98" y1="125.14" x2="168.60" y2="128.37" stroke="#aec240"/>
<line x1="168.60" y1="128.37" x2="171.22" y2="131.59" stroke="#9ec349"/>
<line x1="171.22" y1="131.59" x2="173.84" y2="134.82" stroke="#8ec552"/>
<line x1="173.84" y1="134.82" x2="176.46" y2="138.05" stroke="#7ec75b"/>
<line x1="176.46" y1="138.05" x2="179.08" y2="141.28" stroke="#6dc864"/>
<line x1="179.08" y1="141.28" x2="181.70" y2="144.50" stroke="#5ec96d"/>
<line x1="181.70" y1="144.50" x2="184.32" y2="147.73" stroke="#51c877"/>
<line x1="184.32" y1="147.73" x2="186.94" y2="150.96" stroke="#45c781"/>
<line x1="186.94" y1="150.96" x2="189.56" y2="154.19" stroke="#38c68a"/>
<line x1="189.56" y1="154.19" x2="192.18" y2="157.41" stroke="#2bc494"/>
<line x1="192.18" y1="157.41" x2="194.80" y2="160.64" stroke="#26c299"/>
<line x1="194.80" y1="160.64" x2="197.42" y2="163.87" stroke="#20c09f"/>
<line x1="197.42" y1="163.87" x2="200.04" y2="167.10" stroke="#1bbda4"/>
<line x1="200.04" y1="167.10" x2="202.66" y2="170.32" stroke="#18bba9"/>
<line x1="202.66" y1="170.32" x2="205.28" y2="173.55" stroke="#16b8ad"/>
<line x1="205.28" y1="173.55" x2="207.90" y2="176.78" stroke="#14b6b2"/>
<line x1="207.90" y1="176.78" x2="210.52" y2="180.01" stroke="#13b3b6"/>
<line x1="210.52" y1="180.01" x2="213.14" y2="183.23" stroke="#11b1ba"/>
<line x1="213.14" y1="183.23" x2="215.76" y2="186.46" stroke="#0fafbd"/>
<line x1="215.76" y1="186.46" x2="218.38" y2="189.69" stroke="#0dacc0"/>
<line x1="218.38" y1="189.69" x2="221.00" y2="192.92" stroke="#0baac3"/>
<line x1="221.00" y1="192.92" x2="223.62" y2="196.15" stroke="#09a7c6"/>
<line x1="223.62" y1="196.15" x2="226.24" y2="199.37" stroke="#07a5ca"/>
<line x1="226.24" y1="199.37" x2="228.86" y2="202.60" stroke="#06a2cd"/>
<line x1="228.86" y1="202.60" x2="231.48" y2="205.83" stroke="#079ecf"/>
<line x1="231.48" y1="205.83" x2="234.10" y2="209.06" stroke="#099ad1"/>
<line x1="234.10" y1="209.06" x2="236.72" y2="212.28" stroke="#0a96d3"/>
<line x1="236.72" y1="212.28" x2="239.34" y2="215.51" stroke="#0c92d5"/>
<line x1="239.34" y1="215.51" x2="241.96" y2="218.74" stroke="#0e8ed7"/>
<line x1="241.96" y1="218.74" x2="244.58" y2="221.97" stroke="#0f8ad9"/>
<line x1="244.58" y1="221.97" x2="247.20" y2="225.19" stroke="#0f86d9"/>
<line x1="247.20" y1="225.19" x2="249.82" y2="228.42" stroke="#0e83da"/>
<line x1="249.82" y1="228.42" x2="252.44" y2="231.65" stroke="#0e7fda"/>
<line x1="252.44" y1="231.65" x2="255.06" y2="234.88" stroke="#0e7bdb"/>
<line x1="255.06" y1="234.88" x2="257.68" y2="238.10" stroke="#0d78db"/>
<line x1="257.68" y1="238.10" x2="260.30" y2="241.33" stroke="#0c74dc"/>
<line x1="260.30" y1="241.33" x2="262.92" y2="244.56" stroke="#0b70dd"/>
<line x1="262.92" y1="244.56" x2="265.54" y2="247.79" stroke="#0a6bde"/>
<line x1="265.54" y1="247.79" x2="268.16" y2="251.01" stroke="#0967df"/>
<line x1="268.16" y1="251.01" x2="270.78" y2="254.24" stroke="#0862e0"/>
<line x1="270.78" y1="254.24" x2="273.40" y2="257.47" stroke="#105bda"/>
<line x1="126.87" y1="61.06" x2="129.50" y2="64.20" stroke="#ffe803"/>
<line x1="129.50" y1="64.20" x2="132.11" y2="67.34" stroke="#ffe406"/>
<line x1="132.11" y1="67.34" x2="134.74" y2="70.49" stroke="#ffdf0a"/>
<line x1="134.74" y1="70.49" x2="137.35" y2="73.63" stroke="#ffdb0d"/>
<line x1="137.35" y1="73.63" x2="139.97" y2="76.77" stroke="#ffd612"/>
<line x1="139.97" y1="76.77" x2="142.59" y2="79.91" stroke="#ffd216"/>
<line x1="142.59" y1="79.91" x2="145.22" y2="83.06" stroke="#ffcd1c"/>
<line x1="145.22" y1="83.06" x2="147.84" y2="86.20" stroke="#ffc925"/>
<line x1="147.84" y1="86.20" x2="150.46" y2="89.34" stroke="#ffc52d"/>
<line x1="150.46" y1="89.34" x2="153.07" y2="92.49" stroke="#ffc036"/>
<line x1="153.07" y1="92.49" x2="155.69" y2="95.63" stroke="#febe3a"/>
<line x1="155.69" y1="95.63" x2="158.31" y2="98.77" stroke="#fcbd3b"/>
<line x1="158.31" y1="98.77" x2="160.94" y2="101.91" stroke="#fbbc3d"/>
<line x1="160.94" y1="101.91" x2="163.56" y2="105.06" stroke="#f9bb3f"/>
<line x1="163.56" y1="105.06" x2="166.17" y2="108.20" stroke="#f8ba41"/>
<line x1="166.17" y1="108.20" x2="168.80" y2="111.34" stroke="#f6b943"/>
<line x1="168.80" y1="111.34" x2="171.41" y2="114.48" stroke="#f3b845"/>
<line x1="171.41" y1="114.48" x2="174.03" y2="117.63" stroke="#e1ba43"/>
<line x1="174.03" y1="117.63" x2="176.66" y2="120.77" stroke="#cfbd42"/>
<line x1="176.66" y1="120.77" x2="179.28" y2="123.91" stroke="#bdc041"/>
<line x1="179.28" y1="123.91" x2="181.90" y2="127.06" stroke="#abc241"/>
<line x1="181.90" y1="127.06" x2="184.51" y2="130.20" stroke="#9cc44a"/>
<line x1="184.51" y1="130.20" x2="187.13" y2="133.34" stroke="#8cc552"/>
<line x1="187.13" y1="133.34" x2="189.75" y2="136.48" stroke="#7dc75b"/>
<line x1="189.75" y1="136.48" x2="192.38" y2="139.63" stroke="#6ec864"/>
<line x1="192.38" y1="139.63" x2="195.00" y2="142.77" stroke="#5fc96d"/>
<line x1="195.00" y1="142.77" x2="197.62" y2="145.91" stroke="#53c876"/>
<line x1="197.62" y1="145.91" x2="200.24" y2="149.05" stroke="#46c77f"/>
<line x1="200.24" y1="149.05" x2="202.86" y2="152.20" stroke="#3ac689"/>
<line x1="202.86" y1="152.20" x2="205.48" y2="155.34" stroke="#2ec592"/>
<line x1="205.48" y1="155.34" x2="208.09" y2="158.48" stroke="#27c398"/>
<line x1="208.09" y1="158.48" x2="210.71" y2="161.63" stroke="#22c09d"/>
<line x1="210.71" y1="161.63" x2="213.33" y2="164.77" stroke="#1dbea3"/>
<line x1="213.33" y1="164.77" x2="215.96" y2="167.91" stroke="#19bca7"/>
<line x1="215.96" y1="167.91" x2="218.57" y2="171.05" stroke="#17b9ab"/>
<line x1="218.57" y1="171.05" x2="221.19" y2="174.20" stroke="#15b7b0"/>
<line x1="221.19" y1="174.20" x2="223.81" y2="177.34" stroke="#13b5b4"/>
<line x1="223.81" y1="177.34" x2="226.44" y2="180.48" stroke="#12b2b8"/>
<line x1="226.44" y1="180.48" x2="229.06" y2="183.62" stroke="#10b0bb"/>
<line x1="229.06" y1="183.62" x2="231.68" y2="186.77" stroke="#0eaebe"/>
<line x1="231.68" y1="186.77" x2="234.30" y2="189.91" stroke="#0cabc1"/>
<line x1="234.30" y1="189.91" x2="236.92" y2="193.05" stroke="#0aa9c4"/>
<line x1="236.92" y1="193.05" x2="239.53" y2="196.20" stroke="#08a7c7"/>
<line x1="239.53" y1="196.20" x2="242.16" y2="199.34" stroke="#06a4ca"/>
<line x1="242.16" y1="199.34" x2="244.77" y2="202.48" stroke="#06a1cd"/>
<line x1="244.77" y1="202.48" x2="247.39" y2="205.62" stroke="#079dcf"/>
<line x1="247.39" y1="205.62" x2="250.01" y2="208.77" stroke="#099ad1"/>
<line x1="250.01" y1="208.77" x2="252.63" y2="211.91" stroke="#0a96d3"/>
<line x1="252.63" y1="211.91" x2="255.25" y2="215.05" stroke="#0c92d5"/>
<line x1="255.25" y1="215.05" x2="257.88" y2="218.19" stroke="#0e8ed7"/>
<line x1="257.88" y1="218.19" x2="260.50" y2="221.34" stroke="#0f8ad9"/>
<line x1="260.50" y1="221.34" x2="263.12" y2="224.48" stroke="#0f87d9"/>
<line x1="263.12" y1="224.48" x2="265.74" y2="227.62" stroke="#0e83da"/>
<line x1="265.74" y1="227.62" x2="268.36" y2="230.77" stroke="#0e80da"/>
<line x1="268.36" y1="230.77" x2="270.98" y2="233.91" stroke="#0e7cda"/>
<line x1="270.98" y1="233.91" x2="273.59" y2="237.05" stroke="#0d79db"/>
<line x1="273.59" y1="237.05" x2="276.21" y2="240.19" stroke="#0d75db"/>
<line x1="276.21" y1="240.19" x2="278.83" y2="243.34" stroke="#0c71dc"/>
<line x1="278.83" y1="243.34" x2="281.45" y2="246.48" stroke="#0b6ddd"/>
<line x1="281.45" y1="246.48" x2="284.07" y2="249.62" stroke="#0a69de"/>
<line x1="137.55" y1="58.29" x2="140.17" y2="61.35" stroke="#ffe803"/>
<line x1="140.17" y1="61.35" x2="142.79" y2="64.40" stroke="#ffe506"/>
<line x1="142.79" y1="64.40" x2="145.41" y2="67.45" stroke="#ffe009"/>
<line x1="145.41" y1="67.45" x2="148.03" y2="70.51" stroke="#ffdc0d"/>
<line x1="148.03" y1="70.51" x2="150.65" y2="73.56" stroke="#ffd711"/>
<line x1="150.65" y1="73.56" x2="153.27" y2="76.61" stroke="#ffd315"/>
<line x1="153.27" y1="76.61" x2="155.89" y2="79.67" stroke="#ffcf19"/>
<line x1="155.89" y1="79.67" x2="158.51" y2="82.72" stroke="#ffca22"/>
<line x1="158.51" y1="82.72" x2="161.13" y2="85.78" stroke="#ffc62a"/>
<line x1="161.13" y1="85.78" x2="163.75" y2="88.83" stroke="#ffc232"/>
<line x1="163.75" y1="88.83" x2="166.37" y2="91.88" stroke="#ffbf39"/>
<line x1="166.37" y1="91.88" x2="168.99" y2="94.94" stroke="#fdbe3a"/>
<line x1="168.99" y1="94.94" x2="171.61" y2="97.99" stroke="#fcbd3c"/>
<line x1="171.61" y1="97.99" x2="174.23" y2="101.04" stroke="#fabc3e"/>
<line x1="174.23" y1="101.04" x2="176.85" y2="104.10" stroke="#f9bb40"/>
<line x1="176.85" y1="104.10" x2="179.47" y2="107.15" stroke="#f7b942"/>
<line x1="179.47" y1="107.15" x2="182.09" y2="110.20" stroke="#f6b844"/>
<line x1="182.09" y1="110.20" x2="184.71" y2="113.26" stroke="#efb844"/>
<line x1="184.71" y1="113.26" x2="187.33" y2="116.31" stroke="#debb43"/>
<line x1="187.33" y1="116.31" x2="189.95" y2="119.37" stroke="#cdbd42"/>
<line x1="189.95" y1="119.37" x2="192.57" y2="122.42" stroke="#bcc041"/>
<line x1="192.57" y1="122.42" x2="195.19" y2="125.47" stroke="#abc241"/>
<line x1="195.19" y1="125.47" x2="197.81" y2="128.53" stroke="#9cc44a"/>
<line x1="197.81" y1="128.53" x2="200.43" y2="131.58" stroke="#8dc552"/>
<line x1="200.43" y1="131.58" x2="203.05" y2="134.63" stroke="#7fc65a"/>
<line x1="203.05" y1="134.63" x2="205.67" y2="137.69" stroke="#70c863"/>
<line x1="205.67" y1="137.69" x2="208.29" y2="140.74" stroke="#61c96b"/>
<line x1="208.29" y1="140.74" x2="210.91" y2="143.80" stroke="#55c874"/>
<line x1="210.91" y1="143.80" x2="213.53" y2="146.85" stroke="#4ac77d"/>
<line x1="213.53" y1="146.85" x2="216.15" y2="149.90" stroke="#3ec686"/>
<line x1="216.15" y1="149.90" x2="218.77" y2="152.96" stroke="#32c58f"/>
<line x1="218.77" y1="152.96" x2="221.39" y2="156.01" stroke="#29c496"/>
<line x1="221.39" y1="156.01" x2="224.01" y2="159.06" stroke="#24c19b"/>
<line x1="224.01" y1="159.06" x2="226.63" y2="162.12" stroke="#1fbfa0"/>
<line x1="226.63" y1="162.12" x2="229.25" y2="165.17" stroke="#1abda5"/>
<line x1="229.25" y1="165.17" x2="231.87" y2="168.23" stroke="#18bba9"/>
<line x1="231.87" y1="168.23" x2="234.49" y2="171.28" stroke="#16b9ad"/>
<line x1="234.49" y1="171.28" x2="237.11" y2="174.33" stroke="#15b6b1"/>
<line x1="237.11" y1="174.33" x2="239.73" y2="177.39" stroke="#13b4b5"/>
<line x1="239.73" y1="177.39" x2="242.35" y2="180.44" stroke="#11b2b9"/>
<line x1="242.35" y1="180.44" x2="244.97" y2="183.49" stroke="#0fb0bc"/>
<line x1="244.97" y1="183.49" x2="247.59" y2="186.55" stroke="#0eadbe"/>
<line x1="247.59" y1="186.55" x2="250.21" y2="189.60" stroke="#0cabc1"/>
<line x1="250.21" y1="189.60" x2="252.83" y2="192.65" stroke="#0aa9c4"/>
<line x1="252.83" y1="192.65" x2="255.45" y2="195.71" stroke="#08a7c7"/>
<line x1="255.45" y1="195.71" x2="258.07" y2="198.76" stroke="#06a4ca"/>
<line x1="258.07" y1="198.76" x2="260.69" y2="201.82" stroke="#06a2cd"/>
<line x1="260.69" y1="201.82" x2="263.31" y2="204.87" stroke="#079ecf"/>
<line x1="263.31" y1="204.87" x2="265.93" y2="207.92" stroke="#099ad1"/>
<line x1="265.93" y1="207.92" x2="268.55" y2="210.98" stroke="#0a96d2"/>
<line x1="268.55" y1="210.98" x2="271.17" y2="214.03" stroke="#0c93d4"/>
<line x1="271.17" y1="214.03" x2="273.79" y2="217.08" stroke="#0d8fd6"/>
<line x1="273.79" y1="217.08" x2="276.41" y2="220.14" stroke="#0f8bd8"/>
<line x1="276.41" y1="220.14" x2="279.03" y2="223.19" stroke="#0f88d9"/>
<line x1="279.03" y1="223.19" x2="281.65" y2="226.25" stroke="#0f85d9"/>
<line x1="281.65" y1="226.25" x2="284.27" y2="229.30" stroke="#0e81da"/>
<line x1="284.27" y1="229.30" x2="286.89" y2="232.35" stroke="#0e7eda"/>
<line x1="286.89" y1="232.35" x2="289.51" y2="235.41" stroke="#0d7bdb"/>
<line x1="289.51" y1="235.41" x2="292.13" y2="238.46" stroke="#0d77db"/>
<line x1="292.13" y1="238.46" x2="294.75" y2="241.51" stroke="#0c74dc"/>
<line x1="148.23" y1="55.52" x2="150.85" y2="58.48" stroke="#ffe903"/>
<line x1="150.85" y1="58.48" x2="153.47" y2="61.44" stroke="#ffe505"/>
<line x1="153.47" y1="61.44" x2="156.09" y2="64.40" stroke="#ffe109"/>
<line x1="156.09" y1="64.40" x2="158.71" y2="67.36" stroke="#ffdc0c"/>
<line x1="158.71" y1="67.36" x2="161.33" y2="70.32" stroke="#ffd810"/>
<line x1="161.33" y1="70.32" x2="163.95" y2="73.28" stroke="#ffd414"/>
<line x1="163.95" y1="73.28" x2="166.57" y2="76.24" stroke="#ffd018"/>
<line x1="166.57" y1="76.24" x2="169.19" y2="79.20" stroke="#ffcc1e"/>
<line x1="169.19" y1="79.20" x2="171.81" y2="82.16" stroke="#ffc826"/>
<line x1="171.81" y1="82.16" x2="174.43" y2="85.12" stroke="#ffc42e"/>
<line x1="174.43" y1="85.12" x2="177.05" y2="88.08" stroke="#ffc036"/>
<line x1="177.05" y1="88.08" x2="179.67" y2="91.04" stroke="#febe39"/>
<line x1="179.67" y1="91.04" x2="182.29" y2="94.00" stroke="#fdbd3b"/>
<line x1="182.29" y1="94.00" x2="184.91" y2="96.96" stroke="#fbbc3d"/>
<line x1="184.91" y1="96.96" x2="187.53" y2="99.92" stroke="#fabb3f"/>
<line x1="187.53" y1="99.92" x2="190.15" y2="102.88" stroke="#f8ba40"/>
<line x1="190.15" y1="102.88" x2="192.77" y2="105.84" stroke="#f7b942"/>
<line x1="192.77" y1="105.84" x2="195.39" y2="108.81" stroke="#f6b844"/>
<line x1="195.39" y1="108.81" x2="198.01" y2="111.77" stroke="#eeb944"/>
<line x1="198.01" y1="111.77" x2="200.63" y2="114.73" stroke="#debb43"/>
<line x1="200.63" y1="114.73" x2="203.25" y2="117.69" stroke="#cdbd42"/>
<line x1="203.25" y1="117.69" x2="205.87" y2="120.65" stroke="#bdc041"/>
<line x1="205.87" y1="120.65" x2="208.49" y2="123.61" stroke="#adc240"/>
<line x1="208.49" y1="123.61" x2="211.11" y2="126.57" stroke="#9fc348"/>
<line x1="211.11" y1="126.57" x2="213.73" y2="129.53" stroke="#90c550"/>
<line x1="213.73" y1="129.53" x2="216.35" y2="132.49" stroke="#82c658"/>
<line x1="216.35" y1="132.49" x2="218.97" y2="135.45" stroke="#74c860"/>
<line x1="218.97" y1="135.45" x2="221.59" y2="138.41" stroke="#66c968"/>
<line x1="221.59" y1="138.41" x2="224.21" y2="141.37" stroke="#5ac970"/>
<line x1="224.21" y1="141.37" x2="226.83" y2="144.33" stroke="#4fc879"/>
<line x1="226.83" y1="144.33" x2="229.45" y2="147.29" stroke="#44c781"/>
<line x1="229.45" y1="147.29" x2="232.07" y2="150.25" stroke="#39c68a"/>
<line x1="232.07" y1="150.25" x2="234.69" y2="153.21" stroke="#2ec592"/>
<line x1="234.69" y1="153.21" x2="237.31" y2="156.17" stroke="#28c398"/>
<line x1="237.31" y1="156.17" x2="239.93" y2="159.13" stroke="#23c19c"/>
<line x1="239.93" y1="159.13" x2="242.55" y2="162.09" stroke="#1ebfa1"/>
<line x1="242.55" y1="162.09" x2="245.17" y2="165.05" stroke="#19bda6"/>
<line x1="245.17" y1="165.05" x2="247.79" y2="168.01" stroke="#18baaa"/>
<line x1="247.79" y1="168.01" x2="250.41" y2="170.98" stroke="#16b8ad"/>
<line x1="250.41" y1="170.98" x2="253.03" y2="173.94" stroke="#15b6b1"/>
<line x1="253.03" y1="173.94" x2="255.65" y2="176.90" stroke="#13b4b5"/>
<line x1="255.65" y1="176.90" x2="258.27" y2="179.86" stroke="#11b2b8"/>
<line x1="258.27" y1="179.86" x2="260.89" y2="182.82" stroke="#10b0bb"/>
<line x1="260.89" y1="182.82" x2="263.51" y2="185.78" stroke="#0eaebe"/>
<line x1="263.51" y1="185.78" x2="266.13" y2="188.74" stroke="#0cabc1"/>
<line x1="266.13" y1="188.74" x2="268.75" y2="191.70" stroke="#0aa9c4"/>
<line x1="268.75" y1="191.70" x2="271.37" y2="194.66" stroke="#08a7c7"/>
<line x1="271.37" y1="194.66" x2="273.99" y2="197.62" stroke="#07a5c9"/>
<line x1="273.99" y1="197.62" x2="276.61" y2="200.58" stroke="#05a3cc"/>
<line x1="276.61" y1="200.58" x2="279.23" y2="203.54" stroke="#079fce"/>
<line x1="279.23" y1="203.54" x2="281.85" y2="206.50" stroke="#089cd0"/>
<line x1="281.85" y1="206.50" x2="284.47" y2="209.46" stroke="#0998d1"/>
<line x1="284.47" y1="209.46" x2="287.09" y2="212.42" stroke="#0b95d3"/>
<line x1="287.09" y1="212.42" x2="289.71" y2="215.38" stroke="#0c91d5"/>
<line x1="289.71" y1="215.38" x2="292.33" y2="218.34" stroke="#0e8ed7"/>
<line x1="292.33" y1="218.34" x2="294.95" y2="221.30" stroke="#0f8ad8"/>
<line x1="294.95" y1="221.30" x2="297.57" y2="224.26" stroke="#0f87d9"/>
<line x1="297.57" y1="224.26" x2="300.19" y2="227.22" stroke="#0f84d9"/>
<line x1="300.19" y1="227.22" x2="302.81" y2="230.18" stroke="#0e81da"/>
<line x1="302.81" y1="230.18" x2="305.43" y2="233.15" stroke="#0e7eda"/>
<line x1="158.91" y1="52.73" x2="161.53" y2="55.60" stroke="#ffe903"/>
<line x1="161.53" y1="55.60" x2="164.15" y2="58.46" stroke="#ffe605"/>
<line x1="164.15" y1="58.46" x2="166.77" y2="61.32" stroke="#ffe208"/>
<line x1="166.77" y1="61.32" x2="169.39" y2="64.18" stroke="#ffdd0b"/>
<line x1="169.39" y1="64.18" x2="172.01" y2="67.05" stroke="#ffd90f"/>
<line x1="172.01" y1="67.05" x2="174.63" y2="69.91" stroke="#ffd612"/>
<line x1="174.63" y1="69.91" x2="177.25" y2="72.77" stroke="#ffd216"/>
<line x1="177.25" y1="72.77" x2="179.87" y2="75.64" stroke="#ffce1b"/>
<line x1="179.87" y1="75.64" x2="182.49" y2="78.50" stroke="#ffca22"/>
<line x1="182.49" y1="78.50" x2="185.11" y2="81.36" stroke="#ffc62a"/>
<line x1="185.11" y1="81.36" x2="187.73" y2="84.23" stroke="#ffc331"/>
<line x1="187.73" y1="84.23" x2="190.35" y2="87.09" stroke="#ffbf38"/>
<line x1="190.35" y1="87.09" x2="192.97" y2="89.95" stroke="#febe3a"/>
<line x1="192.97" y1="89.95" x2="195.59" y2="92.81" stroke="#fcbd3c"/>
<line x1="195.59" y1="92.81" x2="198.21" y2="95.68" stroke="#fbbc3d"/>
<line x1="198.21" y1="95.68" x2="200.83" y2="98.54" stroke="#fabb3f"/>
<line x1="200.83" y1="98.54" x2="203.45" y2="101.40" stroke="#f8ba40"/>
<line x1="203.45" y1="101.40" x2="206.07" y2="104.27" stroke="#f7b942"/>
<line x1="206.07" y1="104.27" x2="208.69" y2="107.13" stroke="#f6b844"/>
<line x1="208.69" y1="107.13" x2="211.31" y2="109.99" stroke="#efb844"/>
<line x1="211.31" y1="109.99" x2="213.93" y2="112.86" stroke="#e0bb43"/>
<line x1="213.93" y1="112.86" x2="216.55" y2="115.72" stroke="#d0bd42"/>
<line x1="216.55" y1="115.72" x2="219.17" y2="118.58" stroke="#c1bf41"/>
<line x1="219.17" y1="118.58" x2="221.79" y2="121.45" stroke="#b1c140"/>
<line x1="221.79" y1="121.45" x2="224.41" y2="124.31" stroke="#a3c346"/>
<line x1="224.41" y1="124.31" x2="227.03" y2="127.17" stroke="#96c44d"/>
<line x1="227.03" y1="127.17" x2="229.65" y2="130.03" stroke="#89c555"/>
<line x1="229.65" y1="130.03" x2="232.27" y2="132.90" stroke="#7bc75c"/>
<line x1="232.27" y1="132.90" x2="234.89" y2="135.76" stroke="#6ec864"/>
<line x1="234.89" y1="135.76" x2="237.51" y2="138.62" stroke="#61c96b"/>
<line x1="237.51" y1="138.62" x2="240.13" y2="141.49" stroke="#56c873"/>
<line x1="240.13" y1="141.49" x2="242.75" y2="144.35" stroke="#4cc77b"/>
<line x1="242.75" y1="144.35" x2="245.37" y2="147.21" stroke="#41c683"/>
<line x1="245.37" y1="147.21" x2="247.99" y2="150.08" stroke="#37c58b"/>
<line x1="247.99" y1="150.08" x2="250.61" y2="152.94" stroke="#2cc493"/>
<line x1="250.61" y1="152.94" x2="253.23" y2="155.80" stroke="#27c398"/>
<line x1="253.23" y1="155.80" x2="255.85" y2="158.67" stroke="#23c19d"/>
<line x1="255.85" y1="158.67" x2="258.47" y2="161.53" stroke="#1ebfa1"/>
<line x1="258.47" y1="161.53" x2="261.09" y2="164.39" stroke="#1abda6"/>
<line x1="261.09" y1="164.39" x2="263.71" y2="167.25" stroke="#18bba9"/>
<line x1="263.71" y1="167.25" x2="266.33" y2="170.12" stroke="#16b9ad"/>
<line x1="266.33" y1="170.12" x2="268.95" y2="172.98" stroke="#15b7b0"/>
<line x1="268.95" y1="172.98" x2="271.57" y2="175.84" stroke="#13b5b4"/>
<line x1="271.57" y1="175.84" x2="274.19" y2="178.71" stroke="#12b3b8"/>
<line x1="274.19" y1="178.71" x2="276.81" y2="181.57" stroke="#10b1ba"/>
<line x1="276.81" y1="181.57" x2="279.43" y2="184.43" stroke="#0fafbd"/>
<line x1="279.43" y1="184.43" x2="282.05" y2="187.30" stroke="#0dadc0"/>
<line x1="282.05" y1="187.30" x2="284.67" y2="190.16" stroke="#0babc2"/>
<line x1="284.67" y1="190.16" x2="287.29" y2="193.02" stroke="#0aa9c5"/>
<line x1="287.29" y1="193.02" x2="289.91" y2="195.88" stroke="#08a7c8"/>
<line x1="289.91" y1="195.88" x2="292.53" y2="198.75" stroke="#06a5ca"/>
<line x1="292.53" y1="198.75" x2="295.15" y2="201.61" stroke="#06a2cd"/>
<line x1="295.15" y1="201.61" x2="297.77" y2="204.47" stroke="#079fce"/>
<line x1="297.77" y1="204.47" x2="300.39" y2="207.34" stroke="#089bd0"/>
<line x1="300.39" y1="207.34" x2="303.01" y2="210.20" stroke="#0a98d2"/>
<line x1="303.01" y1="210.20" x2="305.63" y2="213.06" stroke="#0b95d3"/>
<line x1="305.63" y1="213.06" x2="308.25" y2="215.93" stroke="#0c91d5"/>
<line x1="308.25" y1="215.93" x2="310.87" y2="218.79" stroke="#0e8ed7"/>
<line x1="310.87" y1="218.79" x2="313.49" y2="221.65" stroke="#0f8bd8"/>
<line x1="313.49" y1="221.65" x2="316.11" y2="224.52" stroke="#0f88d9"/>
<line x1="169.59" y1="49.94" x2="172.21" y2="52.70" stroke="#ffe903"/>
<line x1="172.21" y1="52.70" x2="174.83" y2="55.46" stroke="#ffe605"/>
<line x1="174.83" y1="55.46" x2="177.45" y2="58.22" stroke="#ffe207"/>
<line x1="177.45" y1="58.22" x2="180.07" y2="60.98" stroke="#ffdf0a"/>
<line x1="180.07" y1="60.98" x2="182.69" y2="63.75" stroke="#ffdb0d"/>
<line x1="182.69" y1="63.75" x2="185.31" y2="66.51" stroke="#ffd711"/>
<line x1="185.31" y1="66.51" x2="187.93" y2="69.27" stroke="#ffd315"/>
<line x1="187.93" y1="69.27" x2="190.55" y2="72.03" stroke="#ffd018"/>
<line x1="190.55" y1="72.03" x2="193.17" y2="74.79" stroke="#ffcc1e"/>
<line x1="193.17" y1="74.79" x2="195.79" y2="77.55" stroke="#ffc925"/>
<line x1="195.79" y1="77.55" x2="198.41" y2="80.31" stroke="#ffc52c"/>
<line x1="198.41" y1="80.31" x2="201.03" y2="83.08" stroke="#ffc233"/>
<line x1="201.03" y1="83.08" x2="203.65" y2="85.84" stroke="#ffbf39"/>
<line x1="203.65" y1="85.84" x2="206.27" y2="88.60" stroke="#fdbe3a"/>
<line x1="206.27" y1="88.60" x2="208.89" y2="91.36" stroke="#fcbd3c"/>
<line x1="208.89" y1="91.36" x2="211.51" y2="94.12" stroke="#fbbc3d"/>
<line x1="211.51" y1="94.12" x2="214.13" y2="96.88" stroke="#fabb3f"/>
<line x1="214.13" y1="96.88" x2="216.75" y2="99.64" stroke="#f8ba40"/>
<line x1="216.75" y1="99.64" x2="219.37" y2="102.41" stroke="#f7b942"/>
<line x1="219.37" y1="102.41" x2="221.99" y2="105.17" stroke="#f6b844"/>
<line x1="221.99" y1="105.17" x2="224.61" y2="107.93" stroke="#f3b845"/>
<line x1="224.61" y1="107.93" x2="227.23" y2="110.69" stroke="#e4ba44"/>
<line x1="227.23" y1="110.69" x2="229.85" y2="113.45" stroke="#d6bc43"/>
<line x1="229.85" y1="113.45" x2="232.47" y2="116.21" stroke="#c7be42"/>
<line x1="232.47" y1="116.21" x2="235.09" y2="118.97" stroke="#b8c041"/>
<line x1="235.09" y1="118.97" x2="237.71" y2="121.74" stroke="#aac242"/>
<line x1="237.71" y1="121.74" x2="240.33" y2="124.50" stroke="#9ec349"/>
<line x1="240.33" y1="124.50" x2="242.95" y2="127.26" stroke="#91c550"/>
<line x1="242.95" y1="127.26" x2="245.57" y2="130.02" stroke="#85c657"/>
<line x1="245.57" y1="130.02" x2="248.19" y2="132.78" stroke="#78c75e"/>
<line x1="248.19" y1="132.78" x2="250.81" y2="135.54" stroke="#6bc865"/>
<line x1="250.81" y1="135.54" x2="253.43" y2="138.30" stroke="#5fc96c"/>
<line x1="253.43" y1="138.30" x2="256.05" y2="141.07" stroke="#55c874"/>
<line x1="256.05" y1="141.07" x2="258.67" y2="143.83" stroke="#4cc77b"/>
<line x1="258.67" y1="143.83" x2="261.29" y2="146.59" stroke="#42c683"/>
<line x1="261.29" y1="146.59" x2="263.91" y2="149.35" stroke="#38c68a"/>
<line x1="263.91" y1="149.35" x2="266.53" y2="152.11" stroke="#2ec592"/>
<line x1="266.53" y1="152.11" x2="269.15" y2="154.87" stroke="#28c397"/>
<line x1="269.15" y1="154.87" x2="271.77" y2="157.63" stroke="#24c19b"/>
<line x1="271.77" y1="157.63" x2="274.39" y2="160.40" stroke="#20bfa0"/>
<line x1="274.39" y1="160.40" x2="277.01" y2="163.16" stroke="#1bbda4"/>
<line x1="277.01" y1="163.16" x2="279.63" y2="165.92" stroke="#19bca8"/>
<line x1="279.63" y1="165.92" x2="282.25" y2="168.68" stroke="#17baab"/>
<line x1="282.25" y1="168.68" x2="284.87" y2="171.44" stroke="#16b8ae"/>
<line x1="284.87" y1="171.44" x2="287.49" y2="174.20" stroke="#14b6b2"/>
<line x1="287.49" y1="174.20" x2="290.11" y2="176.96" stroke="#13b4b5"/>
<line x1="290.11" y1="176.96" x2="292.73" y2="179.73" stroke="#11b2b8"/>
<line x1="292.73" y1="179.73" x2="295.35" y2="182.49" stroke="#10b0bb"/>
<line x1="295.35" y1="182.49" x2="297.97" y2="185.25" stroke="#0eaebd"/>
<line x1="297.97" y1="185.25" x2="300.59" y2="188.01" stroke="#0dacc0"/>
<line x1="300.59" y1="188.01" x2="303.21" y2="190.77" stroke="#0baac2"/>
<line x1="303.21" y1="190.77" x2="305.83" y2="193.53" stroke="#0aa9c5"/>
<line x1="305.83" y1="193.53" x2="308.45" y2="196.29" stroke="#08a7c7"/>
<line x1="308.45" y1="196.29" x2="311.07" y2="199.06" stroke="#06a5ca"/>
<line x1="311.07" y1="199.06" x2="313.69" y2="201.82" stroke="#05a3cc"/>
<line x1="313.69" y1="201.82" x2="316.31" y2="204.58" stroke="#07a0ce"/>
<line x1="316.31" y1="204.58" x2="318.93" y2="207.34" stroke="#089ccf"/>
<line x1="318.93" y1="207.34" x2="321.55" y2="210.10" stroke="#0999d1"/>
<line x1="321.55" y1="210.10" x2="324.17" y2="212.86" stroke="#0a96d3"/>
<line x1="324.17" y1="212.86" x2="326.79" y2="215.62" stroke="#0c93d4"/>
<line x1="180.27" y1="47.14" x2="182.89" y2="49.79" stroke="#ffe903"/>
<line x1="182.89" y1="49.79" x2="185.51" y2="52.45" stroke="#ffe704"/>
<line x1="185.51" y1="52.45" x2="188.13" y2="55.10" stroke="#ffe307"/>
<line x1="188.13" y1="55.10" x2="190.75" y2="57.76" stroke="#ffe00a"/>
<line x1="190.75" y1="57.76" x2="193.37" y2="60.41" stroke="#ffdc0c"/>
<line x1="193.37" y1="60.41" x2="195.99" y2="63.07" stroke="#ffd810"/>
<line x1="195.99" y1="63.07" x2="198.61" y2="65.73" stroke="#ffd513"/>
<line x1="198.61" y1="65.73" x2="201.23" y2="68.38" stroke="#ffd216"/>
<line x1="201.23" y1="68.38" x2="203.85" y2="71.04" stroke="#ffce1a"/>
<line x1="203.85" y1="71.04" x2="206.47" y2="73.69" stroke="#ffcb21"/>
<line x1="206.47" y1="73.69" x2="209.09" y2="76.35" stroke="#ffc827"/>
<line x1="209.09" y1="76.35" x2="211.71" y2="79.00" stroke="#ffc42e"/>
<line x1="211.71" y1="79.00" x2="214.33" y2="81.66" stroke="#ffc134"/>
<line x1="214.33" y1="81.66" x2="216.95" y2="84.31" stroke="#febf39"/>
<line x1="216.95" y1="84.31" x2="219.57" y2="86.97" stroke="#fdbe3a"/>
<line x1="219.57" y1="86.97" x2="222.19" y2="89.63" stroke="#fcbd3c"/>
<line x1="222.19" y1="89.63" x2="224.81" y2="92.28" stroke="#fbbc3d"/>
<line x1="224.81" y1="92.28" x2="227.43" y2="94.94" stroke="#fabb3f"/>
<line x1="227.43" y1="94.94" x2="230.05" y2="97.59" stroke="#f9ba40"/>
<line x1="230.05" y1="97.59" x2="232.67" y2="100.25" stroke="#f7ba41"/>
<line x1="232.67" y1="100.25" x2="235.29" y2="102.90" stroke="#f6b943"/>
<line x1="235.29" y1="102.90" x2="237.91" y2="105.56" stroke="#f5b844"/>
<line x1="237.91" y1="105.56" x2="240.53" y2="108.22" stroke="#ebb944"/>
<line x1="240.53" y1="108.22" x2="243.15" y2="110.87" stroke="#debb43"/>
<line x1="243.15" y1="110.87" x2="245.77" y2="113.53" stroke="#d0bd42"/>
<line x1="245.77" y1="113.53" x2="248.39" y2="116.18" stroke="#c2bf41"/>
<line x1="248.39" y1="116.18" x2="251.01" y2="118.84" stroke="#b5c140"/>
<line x1="251.01" y1="118.84" x2="253.63" y2="121.49" stroke="#a8c243"/>
<line x1="253.63" y1="121.49" x2="256.25" y2="124.15" stroke="#9cc44a"/>
<line x1="256.25" y1="124.15" x2="258.87" y2="126.80" stroke="#90c550"/>
<line x1="258.87" y1="126.80" x2="261.49" y2="129.46" stroke="#85c657"/>
<line x1="261.49" y1="129.46" x2="264.11" y2="132.12" stroke="#79c75d"/>
<line x1="264.11" y1="132.12" x2="266.73" y2="134.77" stroke="#6dc864"/>
<line x1="266.73" y1="134.77" x2="269.35" y2="137.43" stroke="#61c96b"/>
<line x1="269.35" y1="137.43" x2="271.97" y2="140.08" stroke="#58c972"/>
<line x1="271.97" y1="140.08" x2="274.59" y2="142.74" stroke="#4fc879"/>
<line x1="274.59" y1="142.74" x2="277.21" y2="145.39" stroke="#46c780"/>
<line x1="277.21" y1="145.39" x2="279.83" y2="148.05" stroke="#3cc687"/>
<line x1="279.83" y1="148.05" x2="282.45" y2="150.71" stroke="#33c58e"/>
<line x1="282.45" y1="150.71" x2="285.07" y2="153.36" stroke="#2bc495"/>
<line x1="285.07" y1="153.36" x2="287.69" y2="156.02" stroke="#27c299"/>
<line x1="287.69" y1="156.02" x2="290.31" y2="158.67" stroke="#23c19d"/>
<line x1="290.31" y1="158.67" x2="292.93" y2="161.33" stroke="#1fbfa1"/>
<line x1="292.93" y1="161.33" x2="295.55" y2="163.98" stroke="#1bbda5"/>
<line x1="295.55" y1="163.98" x2="298.17" y2="166.64" stroke="#19bba8"/>
<line x1="298.17" y1="166.64" x2="300.79" y2="169.29" stroke="#17baab"/>
<line x1="300.79" y1="169.29" x2="303.41" y2="171.95" stroke="#16b8ae"/>
<line x1="303.41" y1="171.95" x2="306.03" y2="174.61" stroke="#15b6b1"/>
<line x1="306.03" y1="174.61" x2="308.65" y2="177.26" stroke="#13b4b5"/>
<line x1="308.65" y1="177.26" x2="311.27" y2="179.92" stroke="#12b2b8"/>
<line x1="311.27" y1="179.92" x2="313.89" y2="182.57" stroke="#10b1ba"/>
<line x1="313.89" y1="182.57" x2="316.51" y2="185.23" stroke="#0fafbc"/>
<line x1="316.51" y1="185.23" x2="319.13" y2="187.88" stroke="#0dadbf"/>
<line x1="319.13" y1="187.88" x2="321.75" y2="190.54" stroke="#0cabc1"/>
<line x1="321.75" y1="190.54" x2="324.37" y2="193.19" stroke="#0aaac3"/>
<line x1="324.37" y1="193.19" x2="326.99" y2="195.85" stroke="#09a8c6"/>
<line x1="326.99" y1="195.85" x2="329.61" y2="198.51" stroke="#08a6c8"/>
<line x1="329.61" y1="198.51" x2="332.23" y2="201.16" stroke="#06a4cb"/>
<line x1="332.23" y1="201.16" x2="334.85" y2="203.82" stroke="#06a2cd"/>
<line x1="334.85" y1="203.82" x2="337.47" y2="206.47" stroke="#079fce"/>
<line x1="190.95" y1="44.33" x2="193.57" y2="46.87" stroke="#ffea02"/>
<line x1="193.57" y1="46.87" x2="196.19" y2="49.42" stroke="#ffe704"/>
<line x1="196.19" y1="49.42" x2="198.81" y2="51.96" stroke="#ffe406"/>
<line x1="198.81" y1="51.96" x2="201.43" y2="54.51" stroke="#ffe109"/>
<line x1="201.43" y1="54.51" x2="204.05" y2="57.05" stroke="#ffdd0b"/>
<line x1="204.05" y1="57.05" x2="206.67" y2="59.60" stroke="#ffda0e"/>
<line x1="206.67" y1="59.60" x2="209.29" y2="62.14" stroke="#ffd711"/>
<line x1="209.29" y1="62.14" x2="211.91" y2="64.69" stroke="#ffd414"/>
<line x1="211.91" y1="64.69" x2="214.53" y2="67.24" stroke="#ffd118"/>
<line x1="214.53" y1="67.24" x2="217.15" y2="69.78" stroke="#ffcd1c"/>
<line x1="217.15" y1="69.78" x2="219.77" y2="72.33" stroke="#ffca22"/>
<line x1="219.77" y1="72.33" x2="222.39" y2="74.87" stroke="#ffc728"/>
<line x1="222.39" y1="74.87" x2="225.01" y2="77.42" stroke="#ffc42e"/>
<line x1="225.01" y1="77.42" x2="227.63" y2="79.96" stroke="#ffc134"/>
<line x1="227.63" y1="79.96" x2="230.25" y2="82.51" stroke="#ffbf39"/>
<line x1="230.25" y1="82.51" x2="232.87" y2="85.05" stroke="#febe3a"/>
<line x1="232.87" y1="85.05" x2="235.49" y2="87.60" stroke="#fcbd3b"/>
<line x1="235.49" y1="87.60" x2="238.11" y2="90.15" stroke="#fbbd3d"/>
<line x1="238.11" y1="90.15" x2="240.73" y2="92.69" stroke="#fabc3e"/>
<line x1="240.73" y1="92.69" x2="243.35" y2="95.24" stroke="#f9bb3f"/>
<line x1="243.35" y1="95.24" x2="245.97" y2="97.78" stroke="#f8ba41"/>
<line x1="245.97" y1="97.78" x2="248.59" y2="100.33" stroke="#f7b942"/>
<line x1="248.59" y1="100.33" x2="251.21" y2="102.87" stroke="#f6b843"/>
<line x1="251.21" y1="102.87" x2="253.83" y2="105.42" stroke="#f5b845"/>
<line x1="253.83" y1="105.42" x2="256.45" y2="107.96" stroke="#e9b944"/>
<line x1="256.45" y1="107.96" x2="259.07" y2="110.51" stroke="#dcbb43"/>
<line x1="259.07" y1="110.51" x2="261.69" y2="113.06" stroke="#cfbd42"/>
<line x1="261.69" y1="113.06" x2="264.31" y2="115.60" stroke="#c3bf41"/>
<line x1="264.31" y1="115.60" x2="266.93" y2="118.15" stroke="#b6c140"/>
<line x1="266.93" y1="118.15" x2="269.55" y2="120.69" stroke="#aac242"/>
<line x1="269.55" y1="120.69" x2="272.17" y2="123.24" stroke="#9fc348"/>
<line x1="272.17" y1="123.24" x2="274.79" y2="125.78" stroke="#94c44e"/>
<line x1="274.79" y1="125.78" x2="277.41" y2="128.33" stroke="#89c554"/>
<line x1="277.41" y1="128.33" x2="280.03" y2="130.87" stroke="#7ec75b"/>
<line x1="280.03" y1="130.87" x2="282.65" y2="133.42" stroke="#73c861"/>
<line x1="282.65" y1="133.42" x2="285.27" y2="135.97" stroke="#68c967"/>
<line x1="285.27" y1="135.97" x2="287.89" y2="138.51" stroke="#5ec96d"/>
<line x1="287.89" y1="138.51" x2="290.51" y2="141.06" stroke="#56c874"/>
<line x1="290.51" y1="141.06" x2="293.13" y2="143.60" stroke="#4dc87a"/>
<line x1="293.13" y1="143.60" x2="295.75" y2="146.15" stroke="#44c781"/>
<line x1="295.75" y1="146.15" x2="298.37" y2="148.69" stroke="#3cc687"/>
<line x1="298.37" y1="148.69" x2="300.99" y2="151.24" stroke="#33c58e"/>
<line x1="300.99" y1="151.24" x2="303.61" y2="153.79" stroke="#2bc494"/>
<line x1="303.61" y1="153.79" x2="306.23" y2="156.33" stroke="#27c398"/>
<line x1="306.23" y1="156.33" x2="308.85" y2="158.88" stroke="#24c19c"/>
<line x1="308.85" y1="158.88" x2="311.47" y2="161.42" stroke="#20bf9f"/>
<line x1="311.47" y1="161.42" x2="314.09" y2="163.97" stroke="#1cbea3"/>
<line x1="314.09" y1="163.97" x2="316.71" y2="166.51" stroke="#19bca7"/>
<line x1="316.71" y1="166.51" x2="319.33" y2="169.06" stroke="#18bba9"/>
<line x1="319.33" y1="169.06" x2="321.95" y2="171.60" stroke="#17b9ac"/>
<line x1="321.95" y1="171.60" x2="324.57" y2="174.15" stroke="#15b7af"/>
<line x1="324.57" y1="174.15" x2="327.19" y2="176.70" stroke="#14b6b2"/>
<line x1="327.19" y1="176.70" x2="329.81" y2="179.24" stroke="#13b4b5"/>
<line x1="329.81" y1="179.24" x2="332.43" y2="181.79" stroke="#12b2b8"/>
<line x1="332.43" y1="181.79" x2="335.05" y2="184.33" stroke="#10b1ba"/>
<line x1="335.05" y1="184.33" x2="337.67" y2="186.88" stroke="#0fafbc"/>
<line x1="337.67" y1="186.88" x2="340.29" y2="189.42" stroke="#0eadbf"/>
<line x1="340.29" y1="189.42" x2="342.91" y2="191.97" stroke="#0cacc1"/>
<line x1="342.91" y1="191.97" x2="345.53" y2="194.51" stroke="#0baac3"/>
<line x1="345.53" y1="194.51" x2="348.15" y2="197.06" stroke="#09a8c5"/>
<line x1="201.63" y1="41.50" x2="204.25" y2="43.94" stroke="#ffea02"/>
<line x1="204.25" y1="43.94" x2="206.87" y2="46.37" stroke="#ffe804"/>
<line x1="206.87" y1="46.37" x2="209.49" y2="48.80" stroke="#ffe505"/>
<line x1="209.49" y1="48.80" x2="212.11" y2="51.23" stroke="#ffe208"/>
<line x1="212.11" y1="51.23" x2="214.73" y2="53.66" stroke="#ffdf0a"/>
<line x1="214.73" y1="53.66" x2="217.35" y2="56.09" stroke="#ffdc0c"/>
<line x1="217.35" y1="56.09" x2="219.97" y2="58.52" stroke="#ffd90f"/>
<line x1="219.97" y1="58.52" x2="222.59" y2="60.96" stroke="#ffd612"/>
<line x1="222.59" y1="60.96" x2="225.21" y2="63.39" stroke="#ffd315"/>
<line x1="225.21" y1="63.39" x2="227.83" y2="65.82" stroke="#ffd018"/>
<line x1="227.83" y1="65.82" x2="230.45" y2="68.25" stroke="#ffcd1c"/>
<line x1="230.45" y1="68.25" x2="233.07" y2="70.68" stroke="#ffca22"/>
<line x1="233.07" y1="70.68" x2="235.69" y2="73.11" stroke="#ffc728"/>
<line x1="235.69" y1="73.11" x2="238.31" y2="75.54" stroke="#ffc52d"/>
<line x1="238.31" y1="75.54" x2="240.93" y2="77.98" stroke="#ffc233"/>
<line x1="240.93" y1="77.98" x2="243.55" y2="80.41" stroke="#ffbf38"/>
<line x1="243.55" y1="80.41" x2="246.17" y2="82.84" stroke="#febe39"/>
<line x1="246.17" y1="82.84" x2="248.79" y2="85.27" stroke="#fdbe3b"/>
<line x1="248.79" y1="85.27" x2="251.41" y2="87.70" stroke="#fcbd3c"/>
<line x1="251.41" y1="87.70" x2="254.03" y2="90.13" stroke="#fbbc3d"/>
<line x1="254.03" y1="90.13" x2="256.65" y2="92.56" stroke="#fabb3e"/>
<line x1="256.65" y1="92.56" x2="259.27" y2="94.99" stroke="#f9bb40"/>
<line x1="259.27" y1="94.99" x2="261.89" y2="97.43" stroke="#f8ba41"/>
<line x1="261.89" y1="97.43" x2="264.51" y2="99.86" stroke="#f7b942"/>
<line x1="264.51" y1="99.86" x2="267.13" y2="102.29" stroke="#f6b843"/>
<line x1="267.13" y1="102.29" x2="269.75" y2="104.72" stroke="#f5b845"/>
<line x1="269.75" y1="104.72" x2="272.37" y2="107.15" stroke="#ebb944"/>
<line x1="272.37" y1="107.15" x2="274.99" y2="109.58" stroke="#dfbb43"/>
<line x1="274.99" y1="109.58" x2="277.61" y2="112.01" stroke="#d4bc42"/>
<line x1="277.61" y1="112.01" x2="280.23" y2="114.45" stroke="#c8be42"/>
<line x1="280.23" y1="114.45" x2="282.85" y2="116.88" stroke="#bcc041"/>
<line x1="282.85" y1="116.88" x2="285.47" y2="119.31" stroke="#b1c140"/>
<line x1="285.47" y1="119.31" x2="288.09" y2="121.74" stroke="#a6c344"/>
<line x1="288.09" y1="121.74" x2="290.71" y2="124.17" stroke="#9cc44a"/>
<line x1="290.71" y1="124.17" x2="293.33" y2="126.60" stroke="#92c54f"/>
<line x1="293.33" y1="126.60" x2="295.95" y2="129.03" stroke="#88c655"/>
<line x1="295.95" y1="129.03" x2="298.57" y2="131.46" stroke="#7ec75b"/>
<line x1="298.57" y1="131.46" x2="301.19" y2="133.90" stroke="#74c860"/>
<line x1="301.19" y1="133.90" x2="303.81" y2="136.33" stroke="#6ac966"/>
<line x1="303.81" y1="136.33" x2="306.43" y2="138.76" stroke="#60c96c"/>
<line x1="306.43" y1="138.76" x2="309.05" y2="141.19" stroke="#58c972"/>
<line x1="309.05" y1="141.19" x2="311.67" y2="143.62" stroke="#50c878"/>
<line x1="311.67" y1="143.62" x2="314.29" y2="146.05" stroke="#48c77e"/>
<line x1="314.29" y1="146.05" x2="316.91" y2="148.48" stroke="#40c684"/>
<line x1="316.91" y1="148.48" x2="319.53" y2="150.92" stroke="#38c68a"/>
<line x1="319.53" y1="150.92" x2="322.15" y2="153.35" stroke="#30c590"/>
<line x1="322.15" y1="153.35" x2="324.77" y2="155.78" stroke="#2ac495"/>
<line x1="324.77" y1="155.78" x2="327.39" y2="158.21" stroke="#27c299"/>
<line x1="327.39" y1="158.21" x2="330.01" y2="160.64" stroke="#23c19c"/>
<line x1="330.01" y1="160.64" x2="332.63" y2="163.07" stroke="#20bf9f"/>
<line x1="332.63" y1="163.07" x2="335.25" y2="165.50" stroke="#1cbea3"/>
<line x1="335.25" y1="165.50" x2="337.87" y2="167.94" stroke="#19bda6"/>
<line x1="337.87" y1="167.94" x2="340.49" y2="170.37" stroke="#18bba9"/>
<line x1="340.49" y1="170.37" x2="343.11" y2="172.80" stroke="#17b9ab"/>
<line x1="343.11" y1="172.80" x2="345.73" y2="175.23" stroke="#16b8ae"/>
<line x1="345.73" y1="175.23" x2="348.35" y2="177.66" stroke="#15b6b1"/>
<line x1="348.35" y1="177.66" x2="350.97" y2="180.09" stroke="#14b5b4"/>
<line x1="350.97" y1="180.09" x2="353.59" y2="182.52" stroke="#12b3b6"/>
<line x1="353.59" y1="182.52" x2="356.21" y2="184.95" stroke="#11b2b9"/>
<line x1="356.21" y1="184.95" x2="358.83" y2="187.39" stroke="#10b0bb"/>
<line x1="212.31" y1="38.68" x2="214.93" y2="40.99" stroke="#ffea02"/>
<line x1="214.93" y1="40.99" x2="217.55" y2="43.30" stroke="#ffe803"/>
<line x1="217.55" y1="43.30" x2="220.17" y2="45.61" stroke="#ffe605"/>
<line x1="220.17" y1="45.61" x2="222.79" y2="47.93" stroke="#ffe307"/>
<line x1="222.79" y1="47.93" x2="225.41" y2="50.24" stroke="#ffe009"/>
<line x1="225.41" y1="50.24" x2="228.03" y2="52.55" stroke="#ffdd0b"/>
<line x1="228.03" y1="52.55" x2="230.65" y2="54.87" stroke="#ffdb0d"/>
<line x1="230.65" y1="54.87" x2="233.27" y2="57.18" stroke="#ffd810"/>
<line x1="233.27" y1="57.18" x2="235.89" y2="59.49" stroke="#ffd513"/>
<line x1="235.89" y1="59.49" x2="238.51" y2="61.80" stroke="#ffd315"/>
<line x1="238.51" y1="61.80" x2="241.13" y2="64.12" stroke="#ffd018"/>
<line x1="241.13" y1="64.12" x2="243.75" y2="66.43" stroke="#ffcd1c"/>
<line x1="243.75" y1="66.43" x2="246.37" y2="68.74" stroke="#ffcb21"/>
<line x1="246.37" y1="68.74" x2="248.99" y2="71.06" stroke="#ffc826"/>
<line x1="248.99" y1="71.06" x2="251.61" y2="73.37" stroke="#ffc62b"/>
<line x1="251.61" y1="73.37" x2="254.23" y2="75.68" stroke="#ffc330"/>
<line x1="254.23" y1="75.68" x2="256.85" y2="78.00" stroke="#ffc135"/>
<line x1="256.85" y1="78.00" x2="259.47" y2="80.31" stroke="#ffbf39"/>
<line x1="259.47" y1="80.31" x2="262.09" y2="82.62" stroke="#febe3a"/>
<line x1="262.09" y1="82.62" x2="264.71" y2="84.93" stroke="#fdbe3b"/>
<line x1="264.71" y1="84.93" x2="267.33" y2="87.25" stroke="#fcbd3c"/>
<line x1="267.33" y1="87.25" x2="269.95" y2="89.56" stroke="#fbbc3d"/>
<line x1="269.95" y1="89.56" x2="272.57" y2="91.87" stroke="#fabc3e"/>
<line x1="272.57" y1="91.87" x2="275.19" y2="94.19" stroke="#f9bb3f"/>
<line x1="275.19" y1="94.19" x2="277.81" y2="96.50" stroke="#f8ba41"/>
<line x1="277.81" y1="96.50" x2="280.43" y2="98.81" stroke="#f7b942"/>
<line x1="280.43" y1="98.81" x2="283.05" y2="101.12" stroke="#f6b943"/>
<line x1="283.05" y1="101.12" x2="285.67" y2="103.44" stroke="#f6b844"/>
<line x1="285.67" y1="103.44" x2="288.29" y2="105.75" stroke="#f3b845"/>
<line x1="288.29" y1="105.75" x2="290.91" y2="108.06" stroke="#e8b944"/>
<line x1="290.91" y1="108.06" x2="293.53" y2="110.38" stroke="#ddbb43"/>
<line x1="293.53" y1="110.38" x2="296.15" y2="112.69" stroke="#d3bc42"/>
<line x1="296.15" y1="112.69" x2="298.77" y2="115.00" stroke="#c8be42"/>
<line x1="298.77" y1="115.00" x2="301.39" y2="117.32" stroke="#bdc041"/>
<line x1="301.39" y1="117.32" x2="304.01" y2="119.63" stroke="#b3c140"/>
<line x1="304.01" y1="119.63" x2="306.63" y2="121.94" stroke="#a9c242"/>
<line x1="306.63" y1="121.94" x2="309.25" y2="124.25" stroke="#a0c348"/>
<line x1="309.25" y1="124.25" x2="311.87" y2="126.57" stroke="#96c44d"/>
<line x1="311.87" y1="126.57" x2="314.49" y2="128.88" stroke="#8dc552"/>
<line x1="314.49" y1="128.88" x2="317.11" y2="131.19" stroke="#84c657"/>
<line x1="317.11" y1="131.19" x2="319.73" y2="133.51" stroke="#7bc75c"/>
<line x1="319.73" y1="133.51" x2="322.35" y2="135.82" stroke="#72c861"/>
<line x1="322.35" y1="135.82" x2="324.97" y2="138.13" stroke="#69c967"/>
<line x1="324.97" y1="138.13" x2="327.59" y2="140.44" stroke="#60c96c"/>
<line x1="327.59" y1="140.44" x2="330.21" y2="142.76" stroke="#59c971"/>
<line x1="330.21" y1="142.76" x2="332.83" y2="145.07" stroke="#51c877"/>
<line x1="332.83" y1="145.07" x2="335.45" y2="147.38" stroke="#4ac77c"/>
<line x1="335.45" y1="147.38" x2="338.07" y2="149.70" stroke="#43c782"/>
<line x1="338.07" y1="149.70" x2="340.69" y2="152.01" stroke="#3cc687"/>
<line x1="340.69" y1="152.01" x2="343.31" y2="154.32" stroke="#35c58d"/>
<line x1="343.31" y1="154.32" x2="345.93" y2="156.63" stroke="#2dc592"/>
<line x1="345.93" y1="156.63" x2="348.55" y2="158.95" stroke="#29c396"/>
<line x1="348.55" y1="158.95" x2="351.17" y2="161.26" stroke="#26c299"/>
<line x1="351.17" y1="161.26" x2="353.79" y2="163.57" stroke="#23c19c"/>
<line x1="353.79" y1="163.57" x2="356.41" y2="165.89" stroke="#20bf9f"/>
<line x1="356.41" y1="165.89" x2="359.03" y2="168.20" stroke="#1dbea3"/>
<line x1="359.03" y1="168.20" x2="361.65" y2="170.51" stroke="#1abda6"/>
<line x1="361.65" y1="170.51" x2="364.27" y2="172.83" stroke="#18bba8"/>
<line x1="364.27" y1="172.83" x2="366.89" y2="175.14" stroke="#17baab"/>
<line x1="366.89" y1="175.14" x2="369.51" y2="177.45" stroke="#16b9ad"/>
<line x1="222.99" y1="35.84" x2="225.61" y2="38.03" stroke="#ffea02"/>
<line x1="225.61" y1="38.03" x2="228.23" y2="40.22" stroke="#ffe903"/>
<line x1="228.23" y1="40.22" x2="230.85" y2="42.41" stroke="#ffe704"/>
<line x1="230.85" y1="42.41" x2="233.47" y2="44.60" stroke="#ffe406"/>
<line x1="233.47" y1="44.60" x2="236.09" y2="46.79" stroke="#ffe208"/>
<line x1="236.09" y1="46.79" x2="238.71" y2="48.98" stroke="#ffdf0a"/>
<line x1="238.71" y1="48.98" x2="241.33" y2="51.17" stroke="#ffdd0c"/>
<line x1="241.33" y1="51.17" x2="243.95" y2="53.36" stroke="#ffda0e"/>
<line x1="243.95" y1="53.36" x2="246.57" y2="55.55" stroke="#ffd810"/>
<line x1="246.57" y1="55.55" x2="249.19" y2="57.74" stroke="#ffd613"/>
<line x1="249.19" y1="57.74" x2="251.81" y2="59.93" stroke="#ffd315"/>
<line x1="251.81" y1="59.93" x2="254.43" y2="62.12" stroke="#ffd117"/>
<line x1="254.43" y1="62.12" x2="257.05" y2="64.31" stroke="#ffce1a"/>
<line x1="257.05" y1="64.31" x2="259.67" y2="66.50" stroke="#ffcc1e"/>
<line x1="259.67" y1="66.50" x2="262.29" y2="68.69" stroke="#ffca23"/>
<line x1="262.29" y1="68.69" x2="264.91" y2="70.88" stroke="#ffc728"/>
<line x1="264.91" y1="70.88" x2="267.53" y2="73.07" stroke="#ffc52c"/>
<line x1="267.53" y1="73.07" x2="270.15" y2="75.26" stroke="#ffc331"/>
<line x1="270.15" y1="75.26" x2="272.77" y2="77.45" stroke="#ffc135"/>
<line x1="272.77" y1="77.45" x2="275.39" y2="79.64" stroke="#ffbf39"/>
<line x1="275.39" y1="79.64" x2="278.01" y2="81.83" stroke="#febe3a"/>
<line x1="278.01" y1="81.83" x2="280.63" y2="84.02" stroke="#fdbe3b"/>
<line x1="280.63" y1="84.02" x2="283.25" y2="86.21" stroke="#fcbd3c"/>
<line x1="283.25" y1="86.21" x2="285.87" y2="88.40" stroke="#fbbd3d"/>
<line x1="285.87" y1="88.40" x2="288.49" y2="90.59" stroke="#fbbc3e"/>
<line x1="288.49" y1="90.59" x2="291.11" y2="92.79" stroke="#fabb3f"/>
<line x1="291.11" y1="92.79" x2="293.73" y2="94.98" stroke="#f9bb40"/>
<line x1="293.73" y1="94.98" x2="296.35" y2="97.17" stroke="#f8ba41"/>
<line x1="296.35" y1="97.17" x2="298.97" y2="99.36" stroke="#f7b942"/>
<line x1="298.97" y1="99.36" x2="301.59" y2="101.55" stroke="#f7b943"/>
<line x1="301.59" y1="101.55" x2="304.21" y2="103.74" stroke="#f6b844"/>
<line x1="304.21" y1="103.74" x2="306.83" y2="105.93" stroke="#f5b845"/>
<line x1="306.83" y1="105.93" x2="309.45" y2="108.12" stroke="#ecb944"/>
<line x1="309.45" y1="108.12" x2="312.07" y2="110.31" stroke="#e3ba44"/>
<line x1="312.07" y1="110.31" x2="314.69" y2="112.50" stroke="#d9bc43"/>
<line x1="314.69" y1="112.50" x2="317.31" y2="114.69" stroke="#d0bd42"/>
<line x1="317.31" y1="114.69" x2="319.93" y2="116.88" stroke="#c6be42"/>
<line x1="319.93" y1="116.88" x2="322.55" y2="119.07" stroke="#bcc041"/>
<line x1="322.55" y1="119.07" x2="325.17" y2="121.26" stroke="#b3c140"/>
<line x1="325.17" y1="121.26" x2="327.79" y2="123.45" stroke="#aac242"/>
<line x1="327.79" y1="123.45" x2="330.41" y2="125.64" stroke="#a2c346"/>
<line x1="330.41" y1="125.64" x2="333.03" y2="127.83" stroke="#99c44b"/>
<line x1="333.03" y1="127.83" x2="335.65" y2="130.02" stroke="#91c550"/>
<line x1="335.65" y1="130.02" x2="338.27" y2="132.21" stroke="#89c554"/>
<line x1="338.27" y1="132.21" x2="340.89" y2="134.40" stroke="#81c659"/>
<line x1="340.89" y1="134.40" x2="343.51" y2="136.59" stroke="#79c75e"/>
<line x1="343.51" y1="136.59" x2="346.13" y2="138.78" stroke="#70c862"/>
<line x1="346.13" y1="138.78" x2="348.75" y2="140.97" stroke="#68c967"/>
<line x1="348.75" y1="140.97" x2="351.37" y2="143.16" stroke="#60c96c"/>
<line x1="351.37" y1="143.16" x2="353.99" y2="145.35" stroke="#5ac971"/>
<line x1="353.99" y1="145.35" x2="356.61" y2="147.54" stroke="#53c876"/>
<line x1="356.61" y1="147.54" x2="359.23" y2="149.73" stroke="#4dc87a"/>
<line x1="359.23" y1="149.73" x2="361.85" y2="151.92" stroke="#46c77f"/>
<line x1="361.85" y1="151.92" x2="364.47" y2="154.11" stroke="#40c684"/>
<line x1="364.47" y1="154.11" x2="367.09" y2="156.30" stroke="#39c689"/>
<line x1="367.09" y1="156.30" x2="369.71" y2="158.49" stroke="#33c58e"/>
<line x1="369.71" y1="158.49" x2="372.33" y2="160.68" stroke="#2cc493"/>
<line x1="372.33" y1="160.68" x2="374.95" y2="162.87" stroke="#29c396"/>
<line x1="374.95" y1="162.87" x2="377.57" y2="165.07" stroke="#26c299"/>
<line x1="377.57" y1="165.07" x2="380.19" y2="167.26" stroke="#23c19c"/>
<line x1="233.67" y1="32.99" x2="236.29" y2="35.05" stroke="#ffeb02"/>
<line x1="236.29" y1="35.05" x2="238.91" y2="37.12" stroke="#ffe903"/>
<line x1="238.91" y1="37.12" x2="241.53" y2="39.18" stroke="#ffe704"/>
<line x1="241.53" y1="39.18" x2="244.15" y2="41.24" stroke="#ffe605"/>
<line x1="244.15" y1="41.24" x2="246.77" y2="43.31" stroke="#ffe407"/>
<line x1="246.77" y1="43.31" x2="249.39" y2="45.37" stroke="#ffe108"/>
<line x1="249.39" y1="45.37" x2="252.01" y2="47.43" stroke="#ffdf0a"/>
<line x1="252.01" y1="47.43" x2="254.63" y2="49.50" stroke="#ffdd0c"/>
<line x1="254.63" y1="49.50" x2="257.25" y2="51.56" stroke="#ffdb0d"/>
<line x1="257.25" y1="51.56" x2="259.87" y2="53.62" stroke="#ffd810"/>
<line x1="259.87" y1="53.62" x2="262.49" y2="55.69" stroke="#ffd612"/>
<line x1="262.49" y1="55.69" x2="265.11" y2="57.75" stroke="#ffd414"/>
<line x1="265.11" y1="57.75" x2="267.73" y2="59.81" stroke="#ffd216"/>
<line x1="267.73" y1="59.81" x2="270.35" y2="61.88" stroke="#ffd018"/>
<line x1="270.35" y1="61.88" x2="272.97" y2="63.94" stroke="#ffce1b"/>
<line x1="272.97" y1="63.94" x2="275.59" y2="66.01" stroke="#ffcc1f"/>
<line x1="275.59" y1="66.01" x2="278.21" y2="68.07" stroke="#ffca23"/>
<line x1="278.21" y1="68.07" x2="280.83" y2="70.13" stroke="#ffc827"/>
<line x1="280.83" y1="70.13" x2="283.45" y2="72.20" stroke="#ffc62b"/>
<line x1="283.45" y1="72.20" x2="286.07" y2="74.26" stroke="#ffc42f"/>
<line x1="286.07" y1="74.26" x2="288.69" y2="76.32" stroke="#ffc233"/>
<line x1="288.69" y1="76.32" x2="291.31" y2="78.39" stroke="#ffc037"/>
<line x1="291.31" y1="78.39" x2="293.93" y2="80.45" stroke="#febf39"/>
<line x1="293.93" y1="80.45" x2="296.55" y2="82.51" stroke="#febe3a"/>
<line x1="296.55" y1="82.51" x2="299.17" y2="84.58" stroke="#fdbe3b"/>
<line x1="299.17" y1="84.58" x2="301.79" y2="86.64" stroke="#fcbd3b"/>
<line x1="301.79" y1="86.64" x2="304.41" y2="88.70" stroke="#fcbd3c"/>
<line x1="304.41" y1="88.70" x2="307.03" y2="90.77" stroke="#fbbc3d"/>
<line x1="307.03" y1="90.77" x2="309.65" y2="92.83" stroke="#fabc3e"/>
<line x1="309.65" y1="92.83" x2="312.27" y2="94.89" stroke="#f9bb3f"/>
<line x1="312.27" y1="94.89" x2="314.89" y2="96.96" stroke="#f9bb40"/>
<line x1="314.89" y1="96.96" x2="317.51" y2="99.02" stroke="#f8ba41"/>
<line x1="317.51" y1="99.02" x2="320.13" y2="101.08" stroke="#f7b942"/>
<line x1="320.13" y1="101.08" x2="322.75" y2="103.15" stroke="#f7b943"/>
<line x1="322.75" y1="103.15" x2="325.37" y2="105.21" stroke="#f6b844"/>
<line x1="325.37" y1="105.21" x2="327.99" y2="107.28" stroke="#f5b844"/>
<line x1="327.99" y1="107.28" x2="330.61" y2="109.34" stroke="#f0b845"/>
<line x1="330.61" y1="109.34" x2="333.23" y2="111.40" stroke="#e8b944"/>
<line x1="333.23" y1="111.40" x2="335.85" y2="113.47" stroke="#dfbb43"/>
<line x1="335.85" y1="113.47" x2="338.47" y2="115.53" stroke="#d7bc43"/>
<line x1="338.47" y1="115.53" x2="341.09" y2="117.59" stroke="#cebd42"/>
<line x1="341.09" y1="117.59" x2="343.71" y2="119.66" stroke="#c6be41"/>
<line x1="343.71" y1="119.66" x2="346.33" y2="121.72" stroke="#bdc041"/>
<line x1="346.33" y1="121.72" x2="348.95" y2="123.78" stroke="#b5c140"/>
<line x1="348.95" y1="123.78" x2="351.57" y2="125.85" stroke="#adc240"/>
<line x1="351.57" y1="125.85" x2="354.19" y2="127.91" stroke="#a5c344"/>
<line x1="354.19" y1="127.91" x2="356.81" y2="129.97" stroke="#9ec348"/>
<line x1="356.81" y1="129.97" x2="359.43" y2="132.04" stroke="#97c44d"/>
<line x1="359.43" y1="132.04" x2="362.05" y2="134.10" stroke="#90c551"/>
<line x1="362.05" y1="134.10" x2="364.67" y2="136.16" stroke="#88c655"/>
<line x1="364.67" y1="136.16" x2="367.29" y2="138.23" stroke="#81c659"/>
<line x1="367.29" y1="138.23" x2="369.91" y2="140.29" stroke="#7ac75d"/>
<line x1="369.91" y1="140.29" x2="372.53" y2="142.35" stroke="#73c861"/>
<line x1="372.53" y1="142.35" x2="375.15" y2="144.42" stroke="#6bc865"/>
<line x1="375.15" y1="144.42" x2="377.77" y2="146.48" stroke="#64c969"/>
<line x1="377.77" y1="146.48" x2="380.39" y2="148.54" stroke="#5ec96d"/>
<line x1="380.39" y1="148.54" x2="383.01" y2="150.61" stroke="#58c972"/>
<line x1="383.01" y1="150.61" x2="385.63" y2="152.67" stroke="#52c876"/>
<line x1="385.63" y1="152.67" x2="388.25" y2="154.74" stroke="#4dc87b"/>
<line x1="388.25" y1="154.74" x2="390.87" y2="156.80" stroke="#47c77f"/>
<line x1="244.35" y1="30.13" x2="246.97" y2="32.07" stroke="#ffeb01"/>
<line x1="246.97" y1="32.07" x2="249.59" y2="34.00" stroke="#ffea02"/>
<line x1="249.59" y1="34.00" x2="252.21" y2="35.93" stroke="#ffe803"/>
<line x1="252.21" y1="35.93" x2="254.83" y2="37.86" stroke="#ffe704"/>
<line x1="254.83" y1="37.86" x2="257.45" y2="39.80" stroke="#ffe505"/>
<line x1="257.45" y1="39.80" x2="260.07" y2="41.73" stroke="#ffe307"/>
<line x1="260.07" y1="41.73" x2="262.69" y2="43.66" stroke="#ffe108"/>
<line x1="262.69" y1="43.66" x2="265.31" y2="45.59" stroke="#ffdf0a"/>
<line x1="265.31" y1="45.59" x2="267.93" y2="47.53" stroke="#ffdd0b"/>
<line x1="267.93" y1="47.53" x2="270.55" y2="49.46" stroke="#ffdc0d"/>
<line x1="270.55" y1="49.46" x2="273.17" y2="51.39" stroke="#ffda0e"/>
<line x1="273.17" y1="51.39" x2="275.79" y2="53.32" stroke="#ffd810"/>
<line x1="275.79" y1="53.32" x2="278.41" y2="55.26" stroke="#ffd612"/>
<line x1="278.41" y1="55.26" x2="281.03" y2="57.19" stroke="#ffd414"/>
<line x1="281.03" y1="57.19" x2="283.65" y2="59.12" stroke="#ffd216"/>
<line x1="283.65" y1="59.12" x2="286.27" y2="61.05" stroke="#ffd117"/>
<line x1="286.27" y1="61.05" x2="288.89" y2="62.99" stroke="#ffcf19"/>
<line x1="288.89" y1="62.99" x2="291.51" y2="64.92" stroke="#ffcd1d"/>
<line x1="291.51" y1="64.92" x2="294.13" y2="66.85" stroke="#ffcb20"/>
<line x1="294.13" y1="66.85" x2="296.75" y2="68.78" stroke="#ffca24"/>
<line x1="296.75" y1="68.78" x2="299.37" y2="70.71" stroke="#ffc827"/>
<line x1="299.37" y1="70.71" x2="301.99" y2="72.65" stroke="#ffc62b"/>
<line x1="301.99" y1="72.65" x2="304.61" y2="74.58" stroke="#ffc42e"/>
<line x1="304.61" y1="74.58" x2="307.23" y2="76.51" stroke="#ffc332"/>
<line x1="307.23" y1="76.51" x2="309.85" y2="78.44" stroke="#ffc135"/>
<line x1="309.85" y1="78.44" x2="312.47" y2="80.38" stroke="#ffbf38"/>
<line x1="312.47" y1="80.38" x2="315.09" y2="82.31" stroke="#febf39"/>
<line x1="315.09" y1="82.31" x2="317.71" y2="84.24" stroke="#febe3a"/>
<line x1="317.71" y1="84.24" x2="320.33" y2="86.17" stroke="#fdbe3b"/>
<line x1="320.33" y1="86.17" x2="322.95" y2="88.11" stroke="#fcbd3b"/>
<line x1="322.95" y1="88.11" x2="325.57" y2="90.04" stroke="#fcbd3c"/>
<line x1="325.57" y1="90.04" x2="328.19" y2="91.97" stroke="#fbbc3d"/>
<line x1="328.19" y1="91.97" x2="330.81" y2="93.90" stroke="#fbbc3e"/>
<line x1="330.81" y1="93.90" x2="333.43" y2="95.84" stroke="#fabb3e"/>
<line x1="333.43" y1="95.84" x2="336.05" y2="97.77" stroke="#f9bb3f"/>
<line x1="336.05" y1="97.77" x2="338.67" y2="99.70" stroke="#f9bb40"/>
<line x1="338.67" y1="99.70" x2="341.29" y2="101.63" stroke="#f8ba41"/>
<line x1="341.29" y1="101.63" x2="343.91" y2="103.57" stroke="#f7ba42"/>
<line x1="343.91" y1="103.57" x2="346.53" y2="105.50" stroke="#f7b942"/>
<line x1="346.53" y1="105.50" x2="349.15" y2="107.43" stroke="#f6b943"/>
<line x1="349.15" y1="107.43" x2="351.77" y2="109.36" stroke="#f6b844"/>
<line x1="351.77" y1="109.36" x2="354.39" y2="111.30" stroke="#f5b845"/>
<line x1="354.39" y1="111.30" x2="357.01" y2="113.23" stroke="#f0b844"/>
<line x1="357.01" y1="113.23" x2="359.63" y2="115.16" stroke="#e9b944"/>
<line x1="359.63" y1="115.16" x2="362.25" y2="117.09" stroke="#e1ba43"/>
<line x1="362.25" y1="117.09" x2="364.87" y2="119.03" stroke="#dabb43"/>
<line x1="364.87" y1="119.03" x2="367.49" y2="120.96" stroke="#d3bc42"/>
<line x1="367.49" y1="120.96" x2="370.11" y2="122.89" stroke="#cbbe42"/>
<line x1="370.11" y1="122.89" x2="372.73" y2="124.82" stroke="#c4bf41"/>
<line x1="372.73" y1="124.82" x2="375.35" y2="126.76" stroke="#bdc041"/>
<line x1="375.35" y1="126.76" x2="377.97" y2="128.69" stroke="#b6c140"/>
<line x1="377.97" y1="128.69" x2="380.59" y2="130.62" stroke="#aec240"/>
<line x1="380.59" y1="130.62" x2="383.21" y2="132.55" stroke="#a8c243"/>
<line x1="383.21" y1="132.55" x2="385.83" y2="134.49" stroke="#a2c346"/>
<line x1="385.83" y1="134.49" x2="388.45" y2="136.42" stroke="#9bc44a"/>
<line x1="388.45" y1="136.42" x2="391.07" y2="138.35" stroke="#95c44d"/>
<line x1="391.07" y1="138.35" x2="393.69" y2="140.28" stroke="#8fc551"/>
<line x1="393.69" y1="140.28" x2="396.31" y2="142.22" stroke="#89c555"/>
<line x1="396.31" y1="142.22" x2="398.93" y2="144.15" stroke="#82c658"/>
<line x1="398.93" y1="144.15" x2="401.55" y2="146.08" stroke="#7cc75c"/>
<line x1="255.02" y1="27.27" x2="257.64" y2="29.07" stroke="#ffec01"/>
<line x1="257.64" y1="29.07" x2="260.26" y2="30.86" stroke="#ffea02"/>
<line x1="260.26" y1="30.86" x2="262.88" y2="32.66" stroke="#ffe903"/>
<line x1="262.88" y1="32.66" x2="265.50" y2="34.46" stroke="#ffe804"/>
<line x1="265.50" y1="34.46" x2="268.12" y2="36.25" stroke="#ffe704"/>
<line x1="268.12" y1="36.25" x2="270.74" y2="38.05" stroke="#ffe505"/>
<line x1="270.74" y1="38.05" x2="273.36" y2="39.85" stroke="#ffe406"/>
<line x1="273.36" y1="39.85" x2="275.98" y2="41.65" stroke="#ffe208"/>
<line x1="275.98" y1="41.65" x2="278.60" y2="43.44" stroke="#ffe109"/>
<line x1="278.60" y1="43.44" x2="281.22" y2="45.24" stroke="#ffdf0a"/>
<line x1="281.22" y1="45.24" x2="283.84" y2="47.04" stroke="#ffdd0b"/>
<line x1="283.84" y1="47.04" x2="286.46" y2="48.83" stroke="#ffdc0c"/>
<line x1="286.46" y1="48.83" x2="289.08" y2="50.63" stroke="#ffda0e"/>
<line x1="289.08" y1="50.63" x2="291.70" y2="52.43" stroke="#ffd90f"/>
<line x1="291.70" y1="52.43" x2="294.32" y2="54.23" stroke="#ffd711"/>
<line x1="294.32" y1="54.23" x2="296.94" y2="56.02" stroke="#ffd612"/>
<line x1="296.94" y1="56.02" x2="299.56" y2="57.82" stroke="#ffd414"/>
<line x1="299.56" y1="57.82" x2="302.19" y2="59.62" stroke="#ffd316"/>
<line x1="302.19" y1="59.62" x2="304.81" y2="61.42" stroke="#ffd117"/>
<line x1="304.81" y1="61.42" x2="307.43" y2="63.21" stroke="#ffcf19"/>
<line x1="307.43" y1="63.21" x2="310.05" y2="65.01" stroke="#ffce1b"/>
<line x1="310.05" y1="65.01" x2="312.66" y2="66.81" stroke="#ffcd1e"/>
<line x1="312.66" y1="66.81" x2="315.28" y2="68.60" stroke="#ffcb21"/>
<line x1="315.28" y1="68.60" x2="317.90" y2="70.40" stroke="#ffca23"/>
<line x1="317.90" y1="70.40" x2="320.52" y2="72.20" stroke="#ffc826"/>
<line x1="320.52" y1="72.20" x2="323.14" y2="74.00" stroke="#ffc729"/>
<line x1="323.14" y1="74.00" x2="325.76" y2="75.79" stroke="#ffc52c"/>
<line x1="325.76" y1="75.79" x2="328.38" y2="77.59" stroke="#ffc42f"/>
<line x1="328.38" y1="77.59" x2="331.00" y2="79.39" stroke="#ffc232"/>
<line x1="331.00" y1="79.39" x2="333.62" y2="81.18" stroke="#ffc135"/>
<line x1="333.62" y1="81.18" x2="336.24" y2="82.98" stroke="#ffbf38"/>
<line x1="336.24" y1="82.98" x2="338.86" y2="84.78" stroke="#ffbf39"/>
<line x1="338.86" y1="84.78" x2="341.48" y2="86.58" stroke="#febe39"/>
<line x1="341.48" y1="86.58" x2="344.10" y2="88.37" stroke="#fdbe3a"/>
<line x1="344.10" y1="88.37" x2="346.72" y2="90.17" stroke="#fdbe3b"/>
<line x1="346.72" y1="90.17" x2="349.34" y2="91.97" stroke="#fcbd3b"/>
<line x1="349.34" y1="91.97" x2="351.96" y2="93.77" stroke="#fcbd3c"/>
<line x1="351.96" y1="93.77" x2="354.58" y2="95.56" stroke="#fbbd3d"/>
<line x1="354.58" y1="95.56" x2="357.20" y2="97.36" stroke="#fbbc3d"/>
<line x1="357.20" y1="97.36" x2="359.82" y2="99.16" stroke="#fabc3e"/>
<line x1="359.82" y1="99.16" x2="362.44" y2="100.95" stroke="#fabb3f"/>
<line x1="362.44" y1="100.95" x2="365.06" y2="102.75" stroke="#f9bb3f"/>
<line x1="365.06" y1="102.75" x2="367.69" y2="104.55" stroke="#f9bb40"/>
<line x1="367.69" y1="104.55" x2="370.31" y2="106.35" stroke="#f8ba40"/>
<line x1="370.31" y1="106.35" x2="372.92" y2="108.14" stroke="#f8ba41"/>
<line x1="372.92" y1="108.14" x2="375.54" y2="109.94" stroke="#f7b942"/>
<line x1="375.54" y1="109.94" x2="378.16" y2="111.74" stroke="#f7b942"/>
<line x1="378.16" y1="111.74" x2="380.78" y2="113.54" stroke="#f6b943"/>
<line x1="380.78" y1="113.54" x2="383.40" y2="115.33" stroke="#f6b844"/>
<line x1="383.40" y1="115.33" x2="386.02" y2="117.13" stroke="#f5b844"/>
<line x1="386.02" y1="117.13" x2="388.64" y2="118.93" stroke="#f3b845"/>
<line x1="388.64" y1="118.93" x2="391.26" y2="120.72" stroke="#edb944"/>
<line x1="391.26" y1="120.72" x2="393.88" y2="122.52" stroke="#e7ba44"/>
<line x1="393.88" y1="122.52" x2="396.50" y2="124.32" stroke="#e1ba43"/>
<line x1="396.50" y1="124.32" x2="399.12" y2="126.12" stroke="#dbbb43"/>
<line x1="399.12" y1="126.12" x2="401.74" y2="127.91" stroke="#d5bc43"/>
<line x1="401.74" y1="127.91" x2="404.36" y2="129.71" stroke="#cfbd42"/>
<line x1="404.36" y1="129.71" x2="406.98" y2="131.51" stroke="#c9be42"/>
<line x1="406.98" y1="131.51" x2="409.60" y2="133.30" stroke="#c3bf41"/>
<line x1="409.60" y1="133.30" x2="412.22" y2="135.10" stroke="#bcc041"/>
<line x1="265.70" y1="24.39" x2="268.32" y2="26.05" stroke="#ffec01"/>
<line x1="268.32" y1="26.05" x2="270.94" y2="27.71" stroke="#ffeb01"/>
<line x1="270.94" y1="27.71" x2="273.56" y2="29.37" stroke="#ffea02"/>
<line x1="273.56" y1="29.37" x2="276.18" y2="31.02" stroke="#ffe903"/>
<line x1="276.18" y1="31.02" x2="278.80" y2="32.68" stroke="#ffe803"/>
<line x1="278.80" y1="32.68" x2="281.42" y2="34.34" stroke="#ffe704"/>
<line x1="281.42" y1="34.34" x2="284.04" y2="36.00" stroke="#ffe605"/>
<line x1="284.04" y1="36.00" x2="286.66" y2="37.66" stroke="#ffe505"/>
<line x1="286.66" y1="37.66" x2="289.28" y2="39.31" stroke="#ffe406"/>
<line x1="289.28" y1="39.31" x2="291.90" y2="40.97" stroke="#ffe207"/>
<line x1="291.90" y1="40.97" x2="294.52" y2="42.63" stroke="#ffe108"/>
<line x1="294.52" y1="42.63" x2="297.14" y2="44.29" stroke="#ffe009"/>
<line x1="297.14" y1="44.29" x2="299.76" y2="45.95" stroke="#ffdf0a"/>
<line x1="299.76" y1="45.95" x2="302.38" y2="47.60" stroke="#ffdd0b"/>
<line x1="302.38" y1="47.60" x2="305.00" y2="49.26" stroke="#ffdc0c"/>
<line x1="305.00" y1="49.26" x2="307.62" y2="50.92" stroke="#ffdb0d"/>
<line x1="307.62" y1="50.92" x2="310.24" y2="52.58" stroke="#ffd90f"/>
<line x1="310.24" y1="52.58" x2="312.86" y2="54.23" stroke="#ffd810"/>
<line x1="312.86" y1="54.23" x2="315.48" y2="55.89" stroke="#ffd711"/>
<line x1="315.48" y1="55.89" x2="318.10" y2="57.55" stroke="#ffd612"/>
<line x1="318.10" y1="57.55" x2="320.72" y2="59.21" stroke="#ffd513"/>
<line x1="320.72" y1="59.21" x2="323.34" y2="60.87" stroke="#ffd315"/>
<line x1="323.34" y1="60.87" x2="325.96" y2="62.52" stroke="#ffd216"/>
<line x1="325.96" y1="62.52" x2="328.58" y2="64.18" stroke="#ffd117"/>
<line x1="328.58" y1="64.18" x2="331.20" y2="65.84" stroke="#ffd018"/>
<line x1="331.20" y1="65.84" x2="333.82" y2="67.50" stroke="#ffcf1a"/>
<line x1="333.82" y1="67.50" x2="336.44" y2="69.15" stroke="#ffcd1c"/>
<line x1="336.44" y1="69.15" x2="339.06" y2="70.81" stroke="#ffcc1e"/>
<line x1="339.06" y1="70.81" x2="341.68" y2="72.47" stroke="#ffcb21"/>
<line x1="341.68" y1="72.47" x2="344.30" y2="74.13" stroke="#ffca23"/>
<line x1="344.30" y1="74.13" x2="346.92" y2="75.79" stroke="#ffc925"/>
<line x1="346.92" y1="75.79" x2="349.54" y2="77.44" stroke="#ffc828"/>
<line x1="349.54" y1="77.44" x2="352.16" y2="79.10" stroke="#ffc62a"/>
<line x1="352.16" y1="79.10" x2="354.78" y2="80.76" stroke="#ffc52c"/>
<line x1="354.78" y1="80.76" x2="357.40" y2="82.42" stroke="#ffc42f"/>
<line x1="357.40" y1="82.42" x2="360.02" y2="84.07" stroke="#ffc331"/>
<line x1="360.02" y1="84.07" x2="362.64" y2="85.73" stroke="#ffc233"/>
<line x1="362.64" y1="85.73" x2="365.26" y2="87.39" stroke="#ffc136"/>
<line x1="365.26" y1="87.39" x2="367.88" y2="89.05" stroke="#ffbf38"/>
<line x1="367.88" y1="89.05" x2="370.50" y2="90.71" stroke="#ffbf39"/>
<line x1="370.50" y1="90.71" x2="373.12" y2="92.36" stroke="#febf39"/>
<line x1="373.12" y1="92.36" x2="375.74" y2="94.02" stroke="#febe3a"/>
<line x1="375.74" y1="94.02" x2="378.36" y2="95.68" stroke="#fdbe3a"/>
<line x1="378.36" y1="95.68" x2="380.98" y2="97.34" stroke="#fdbe3b"/>
<line x1="380.98" y1="97.34" x2="383.60" y2="99.00" stroke="#fdbd3b"/>
<line x1="383.60" y1="99.00" x2="386.22" y2="100.65" stroke="#fcbd3c"/>
<line x1="386.22" y1="100.65" x2="388.84" y2="102.31" stroke="#fcbd3c"/>
<line x1="388.84" y1="102.31" x2="391.46" y2="103.97" stroke="#fbbc3d"/>
<line x1="391.46" y1="103.97" x2="394.08" y2="105.63" stroke="#fbbc3d"/>
<line x1="394.08" y1="105.63" x2="396.70" y2="107.28" stroke="#fabc3e"/>
<line x1="396.70" y1="107.28" x2="399.32" y2="108.94" stroke="#fabc3e"/>
<line x1="399.32" y1="108.94" x2="401.94" y2="110.60" stroke="#fabb3f"/>
<line x1="401.94" y1="110.60" x2="404.56" y2="112.26" stroke="#f9bb3f"/>
<line x1="404.56" y1="112.26" x2="407.18" y2="113.92" stroke="#f9bb40"/>
<line x1="407.18" y1="113.92" x2="409.80" y2="115.57" stroke="#f8ba40"/>
<line x1="409.80" y1="115.57" x2="412.42" y2="117.23" stroke="#f8ba41"/>
<line x1="412.42" y1="117.23" x2="415.04" y2="118.89" stroke="#f8ba41"/>
<line x1="415.04" y1="118.89" x2="417.66" y2="120.55" stroke="#f7b942"/>
<line x1="417.66" y1="120.55" x2="420.28" y2="122.20" stroke="#f7b942"/>
<line x1="420.28" y1="122.20" x2="422.90" y2="123.86" stroke="#f6b943"/>
<line x1="276.38" y1="21.51" x2="279.00" y2="23.02" stroke="#ffec01"/>
<line x1="279.00" y1="23.02" x2="281.62" y2="24.54" stroke="#ffec01"/>
<line x1="281.62" y1="24.54" x2="284.24" y2="26.05" stroke="#ffeb02"/>
<line x1="284.24" y1="26.05" x2="286.86" y2="27.57" stroke="#ffea02"/>
<line x1="286.86" y1="27.57" x2="289.48" y2="29.08" stroke="#ffe902"/>
<line x1="289.48" y1="29.08" x2="292.10" y2="30.60" stroke="#ffe903"/>
<line x1="292.10" y1="30.60" x2="294.72" y2="32.11" stroke="#ffe803"/>
<line x1="294.72" y1="32.11" x2="297.34" y2="33.62" stroke="#ffe704"/>
<line x1="297.34" y1="33.62" x2="299.96" y2="35.14" stroke="#ffe704"/>
<line x1="299.96" y1="35.14" x2="302.58" y2="36.65" stroke="#ffe605"/>
<line x1="302.58" y1="36.65" x2="305.20" y2="38.17" stroke="#ffe505"/>
<line x1="305.20" y1="38.17" x2="307.82" y2="39.68" stroke="#ffe406"/>
<line x1="307.82" y1="39.68" x2="310.44" y2="41.19" stroke="#ffe307"/>
<line x1="310.44" y1="41.19" x2="313.06" y2="42.71" stroke="#ffe208"/>
<line x1="313.06" y1="42.71" x2="315.68" y2="44.22" stroke="#ffe108"/>
<line x1="315.68" y1="44.22" x2="318.30" y2="45.74" stroke="#ffe009"/>
<line x1="318.30" y1="45.74" x2="320.92" y2="47.25" stroke="#ffdf0a"/>
<line x1="320.92" y1="47.25" x2="323.54" y2="48.77" stroke="#ffde0a"/>
<line x1="323.54" y1="48.77" x2="326.16" y2="50.28" stroke="#ffdd0b"/>
<line x1="326.16" y1="50.28" x2="328.78" y2="51.79" stroke="#ffdc0c"/>
<line x1="328.78" y1="51.79" x2="331.40" y2="53.31" stroke="#ffdb0d"/>
<line x1="331.40" y1="53.31" x2="334.02" y2="54.82" stroke="#ffdb0e"/>
<line x1="334.02" y1="54.82" x2="336.64" y2="56.34" stroke="#ffda0e"/>
<line x1="336.64" y1="56.34" x2="339.26" y2="57.85" stroke="#ffd90f"/>
<line x1="339.26" y1="57.85" x2="341.88" y2="59.36" stroke="#ffd810"/>
<line x1="341.88" y1="59.36" x2="344.50" y2="60.88" stroke="#ffd711"/>
<line x1="344.50" y1="60.88" x2="347.12" y2="62.39" stroke="#ffd612"/>
<line x1="347.12" y1="62.39" x2="349.74" y2="63.91" stroke="#ffd513"/>
<line x1="349.74" y1="63.91" x2="352.36" y2="65.42" stroke="#ffd414"/>
<line x1="352.36" y1="65.42" x2="354.98" y2="66.94" stroke="#ffd315"/>
<line x1="354.98" y1="66.94" x2="357.60" y2="68.45" stroke="#ffd216"/>
<line x1="357.60" y1="68.45" x2="360.22" y2="69.96" stroke="#ffd216"/>
<line x1="360.22" y1="69.96" x2="362.84" y2="71.48" stroke="#ffd117"/>
<line x1="362.84" y1="71.48" x2="365.46" y2="72.99" stroke="#ffd018"/>
<line x1="365.46" y1="72.99" x2="368.08" y2="74.51" stroke="#ffcf19"/>
<line x1="368.08" y1="74.51" x2="370.70" y2="76.02" stroke="#ffce1b"/>
<line x1="370.70" y1="76.02" x2="373.32" y2="77.54" stroke="#ffcd1c"/>
<line x1="373.32" y1="77.54" x2="375.94" y2="79.05" stroke="#ffcc1e"/>
<line x1="375.94" y1="79.05" x2="378.56" y2="80.56" stroke="#ffcb20"/>
<line x1="378.56" y1="80.56" x2="381.18" y2="82.08" stroke="#ffcb21"/>
<line x1="381.18" y1="82.08" x2="383.80" y2="83.59" stroke="#ffca23"/>
<line x1="383.80" y1="83.59" x2="386.42" y2="85.11" stroke="#ffc925"/>
<line x1="386.42" y1="85.11" x2="389.04" y2="86.62" stroke="#ffc827"/>
<line x1="389.04" y1="86.62" x2="391.66" y2="88.13" stroke="#ffc728"/>
<line x1="391.66" y1="88.13" x2="394.28" y2="89.65" stroke="#ffc62a"/>
<line x1="394.28" y1="89.65" x2="396.90" y2="91.16" stroke="#ffc52c"/>
<line x1="396.90" y1="91.16" x2="399.52" y2="92.68" stroke="#ffc52d"/>
<line x1="399.52" y1="92.68" x2="402.14" y2="94.19" stroke="#ffc42f"/>
<line x1="402.14" y1="94.19" x2="404.76" y2="95.71" stroke="#ffc331"/>
<line x1="404.76" y1="95.71" x2="407.38" y2="97.22" stroke="#ffc233"/>
<line x1="407.38" y1="97.22" x2="410.00" y2="98.73" stroke="#ffc134"/>
<line x1="410.00" y1="98.73" x2="412.62" y2="100.25" stroke="#ffc036"/>
<line x1="412.62" y1="100.25" x2="415.24" y2="101.76" stroke="#ffbf38"/>
<line x1="415.24" y1="101.76" x2="417.86" y2="103.28" stroke="#ffbf38"/>
<line x1="417.86" y1="103.28" x2="420.48" y2="104.79" stroke="#febf39"/>
<line x1="420.48" y1="104.79" x2="423.10" y2="106.30" stroke="#febf39"/>
<line x1="423.10" y1="106.30" x2="425.72" y2="107.82" stroke="#febe3a"/>
<line x1="425.72" y1="107.82" x2="428.34" y2="109.33" stroke="#febe3a"/>
<line x1="428.34" y1="109.33" x2="430.96" y2="110.85" stroke="#fdbe3a"/>
<line x1="430.96" y1="110.85" x2="433.58" y2="112.36" stroke="#fdbe3b"/>
<line x1="287.06" y1="18.62" x2="289.68" y2="19.98" stroke="#ffed00"/>
<line x1="289.68" y1="19.98" x2="292.30" y2="21.35" stroke="#ffec01"/>
<line x1="292.30" y1="21.35" x2="294.92" y2="22.72" stroke="#ffec01"/>
<line x1="294.92" y1="22.72" x2="297.54" y2="24.08" stroke="#ffeb01"/>
<line x1="297.54" y1="24.08" x2="300.16" y2="25.45" stroke="#ffeb02"/>
<line x1="300.16" y1="25.45" x2="302.78" y2="26.82" stroke="#ffea02"/>
<line x1="302.78" y1="26.82" x2="305.40" y2="28.18" stroke="#ffea02"/>
<line x1="305.40" y1="28.18" x2="308.02" y2="29.55" stroke="#ffea02"/>
<line x1="308.02" y1="29.55" x2="310.64" y2="30.92" stroke="#ffe903"/>
<line x1="310.64" y1="30.92" x2="313.26" y2="32.28" stroke="#ffe903"/>
<line x1="313.26" y1="32.28" x2="315.88" y2="33.65" stroke="#ffe803"/>
<line x1="315.88" y1="33.65" x2="318.50" y2="35.01" stroke="#ffe804"/>
<line x1="318.50" y1="35.01" x2="321.12" y2="36.38" stroke="#ffe704"/>
<line x1="321.12" y1="36.38" x2="323.74" y2="37.75" stroke="#ffe704"/>
<line x1="323.74" y1="37.75" x2="326.36" y2="39.11" stroke="#ffe605"/>
<line x1="326.36" y1="39.11" x2="328.98" y2="40.48" stroke="#ffe605"/>
<line x1="328.98" y1="40.48" x2="331.60" y2="41.85" stroke="#ffe505"/>
<line x1="331.60" y1="41.85" x2="334.22" y2="43.21" stroke="#ffe506"/>
<line x1="334.22" y1="43.21" x2="336.84" y2="44.58" stroke="#ffe406"/>
<line x1="336.84" y1="44.58" x2="339.46" y2="45.95" stroke="#ffe407"/>
<line x1="339.46" y1="45.95" x2="342.08" y2="47.31" stroke="#ffe307"/>
<line x1="342.08" y1="47.31" x2="344.70" y2="48.68" stroke="#ffe207"/>
<line x1="344.70" y1="48.68" x2="347.32" y2="50.04" stroke="#ffe208"/>
<line x1="347.32" y1="50.04" x2="349.94" y2="51.41" stroke="#ffe108"/>
<line x1="349.94" y1="51.41" x2="352.56" y2="52.78" stroke="#ffe109"/>
<line x1="352.56" y1="52.78" x2="355.18" y2="54.14" stroke="#ffe009"/>
<line x1="355.18" y1="54.14" x2="357.80" y2="55.51" stroke="#ffdf0a"/>
<line x1="357.80" y1="55.51" x2="360.42" y2="56.88" stroke="#ffdf0a"/>
<line x1="360.42" y1="56.88" x2="363.04" y2="58.24" stroke="#ffde0b"/>
<line x1="363.04" y1="58.24" x2="365.66" y2="59.61" stroke="#ffde0b"/>
<line x1="365.66" y1="59.61" x2="368.28" y2="60.98" stroke="#ffdd0c"/>
<line x1="368.28" y1="60.98" x2="370.90" y2="62.34" stroke="#ffdc0c"/>
<line x1="370.90" y1="62.34" x2="373.52" y2="63.71" stroke="#ffdc0c"/>
<line x1="373.52" y1="63.71" x2="376.14" y2="65.07" stroke="#ffdb0d"/>
<line x1="376.14" y1="65.07" x2="378.76" y2="66.44" stroke="#ffdb0e"/>
<line x1="378.76" y1="66.44" x2="381.38" y2="67.81" stroke="#ffda0e"/>
<line x1="381.38" y1="67.81" x2="384.00" y2="69.17" stroke="#ffd90f"/>
<line x1="384.00" y1="69.17" x2="386.62" y2="70.54" stroke="#ffd90f"/>
<line x1="386.62" y1="70.54" x2="389.24" y2="71.91" stroke="#ffd810"/>
<line x1="389.24" y1="71.91" x2="391.86" y2="73.27" stroke="#ffd810"/>
<line x1="391.86" y1="73.27" x2="394.48" y2="74.64" stroke="#ffd711"/>
<line x1="394.48" y1="74.64" x2="397.10" y2="76.01" stroke="#ffd711"/>
<line x1="397.10" y1="76.01" x2="399.72" y2="77.37" stroke="#ffd612"/>
<line x1="399.72" y1="77.37" x2="402.34" y2="78.74" stroke="#ffd513"/>
<line x1="402.34" y1="78.74" x2="404.96" y2="80.10" stroke="#ffd513"/>
<line x1="404.96" y1="80.10" x2="407.58" y2="81.47" stroke="#ffd414"/>
<line x1="407.58" y1="81.47" x2="410.20" y2="82.84" stroke="#ffd414"/>
<line x1="410.20" y1="82.84" x2="412.82" y2="84.20" stroke="#ffd315"/>
<line x1="412.82" y1="84.20" x2="415.44" y2="85.57" stroke="#ffd315"/>
<line x1="415.44" y1="85.57" x2="418.06" y2="86.94" stroke="#ffd216"/>
<line x1="418.06" y1="86.94" x2="420.68" y2="88.30" stroke="#ffd117"/>
<line x1="420.68" y1="88.30" x2="423.30" y2="89.67" stroke="#ffd117"/>
<line x1="423.30" y1="89.67" x2="425.92" y2="91.03" stroke="#ffd018"/>
<line x1="425.92" y1="91.03" x2="428.54" y2="92.40" stroke="#ffd018"/>
<line x1="428.54" y1="92.40" x2="431.16" y2="93.77" stroke="#ffcf19"/>
<line x1="431.16" y1="93.77" x2="433.78" y2="95.13" stroke="#ffcf19"/>
<line x1="433.78" y1="95.13" x2="436.40" y2="96.50" stroke="#ffce1b"/>
<line x1="436.40" y1="96.50" x2="439.02" y2="97.87" stroke="#ffce1c"/>
<line x1="439.02" y1="97.87" x2="441.64" y2="99.23" stroke="#ffcd1d"/>
<line x1="441.64" y1="99.23" x2="444.26" y2="100.60" stroke="#ffcc1e"/>
<line x1="297.74" y1="15.72" x2="300.36" y2="16.93" stroke="#ffed00"/>
<line x1="300.36" y1="16.93" x2="302.98" y2="18.15" stroke="#ffed00"/>
<line x1="302.98" y1="18.15" x2="305.60" y2="19.36" stroke="#ffed00"/>
<line x1="305.60" y1="19.36" x2="308.22" y2="20.57" stroke="#ffed00"/>
<line x1="308.22" y1="20.57" x2="310.84" y2="21.79" stroke="#ffec00"/>
<line x1="310.84" y1="21.79" x2="313.46" y2="23.00" stroke="#ffec01"/>
<line x1="313.46" y1="23.00" x2="316.08" y2="24.22" stroke="#ffec01"/>
<line x1="316.08" y1="24.22" x2="318.70" y2="25.43" stroke="#ffec01"/>
<line x1="318.70" y1="25.43" x2="321.32" y2="26.65" stroke="#ffec01"/>
<line x1="321.32" y1="26.65" x2="323.94" y2="27.86" stroke="#ffeb01"/>
<line x1="323.94" y1="27.86" x2="326.56" y2="29.07" stroke="#ffeb01"/>
<line x1="326.56" y1="29.07" x2="329.18" y2="30.29" stroke="#ffeb01"/>
<line x1="329.18" y1="30.29" x2="331.80" y2="31.50" stroke="#ffeb01"/>
<line x1="331.80" y1="31.50" x2="334.42" y2="32.72" stroke="#ffeb02"/>
<line x1="334.42" y1="32.72" x2="337.04" y2="33.93" stroke="#ffeb02"/>
<line x1="337.04" y1="33.93" x2="339.66" y2="35.15" stroke="#ffea02"/>
<line x1="339.66" y1="35.15" x2="342.28" y2="36.36" stroke="#ffea02"/>
<line x1="342.28" y1="36.36" x2="344.90" y2="37.57" stroke="#ffea02"/>
<line x1="344.90" y1="37.57" x2="347.52" y2="38.79" stroke="#ffea02"/>
<line x1="347.52" y1="38.79" x2="350.14" y2="40.00" stroke="#ffea02"/>
<line x1="350.14" y1="40.00" x2="352.76" y2="41.22" stroke="#ffe902"/>
<line x1="352.76" y1="41.22" x2="355.38" y2="42.43" stroke="#ffe903"/>
<line x1="355.38" y1="42.43" x2="358.00" y2="43.65" stroke="#ffe903"/>
<line x1="358.00" y1="43.65" x2="360.62" y2="44.86" stroke="#ffe903"/>
<line x1="360.62" y1="44.86" x2="363.24" y2="46.08" stroke="#ffe903"/>
<line x1="363.24" y1="46.08" x2="365.86" y2="47.29" stroke="#ffe903"/>
<line x1="365.86" y1="47.29" x2="368.48" y2="48.50" stroke="#ffe803"/>
<line x1="368.48" y1="48.50" x2="371.10" y2="49.72" stroke="#ffe803"/>
<line x1="371.10" y1="49.72" x2="373.72" y2="50.93" stroke="#ffe803"/>
<line x1="373.72" y1="50.93" x2="376.34" y2="52.15" stroke="#ffe804"/>
<line x1="376.34" y1="52.15" x2="378.96" y2="53.36" stroke="#ffe804"/>
<line x1="378.96" y1="53.36" x2="381.58" y2="54.58" stroke="#ffe704"/>
<line x1="381.58" y1="54.58" x2="384.20" y2="55.79" stroke="#ffe704"/>
<line x1="384.20" y1="55.79" x2="386.82" y2="57.00" stroke="#ffe704"/>
<line x1="386.82" y1="57.00" x2="389.44" y2="58.22" stroke="#ffe704"/>
<line x1="389.44" y1="58.22" x2="392.06" y2="59.43" stroke="#ffe704"/>
<line x1="392.06" y1="59.43" x2="394.68" y2="60.65" stroke="#ffe604"/>
<line x1="394.68" y1="60.65" x2="397.30" y2="61.86" stroke="#ffe605"/>
<line x1="397.30" y1="61.86" x2="399.92" y2="63.08" stroke="#ffe605"/>
<line x1="399.92" y1="63.08" x2="402.54" y2="64.29" stroke="#ffe605"/>
<line x1="402.54" y1="64.29" x2="405.16" y2="65.50" stroke="#ffe605"/>
<line x1="405.16" y1="65.50" x2="407.78" y2="66.72" stroke="#ffe605"/>
<line x1="407.78" y1="66.72" x2="410.40" y2="67.93" stroke="#ffe505"/>
<line x1="410.40" y1="67.93" x2="413.02" y2="69.15" stroke="#ffe505"/>
<line x1="413.02" y1="69.15" x2="415.64" y2="70.36" stroke="#ffe506"/>
<line x1="415.64" y1="70.36" x2="418.26" y2="71.58" stroke="#ffe506"/>
<line x1="418.26" y1="71.58" x2="420.88" y2="72.79" stroke="#ffe406"/>
<line x1="420.88" y1="72.79" x2="423.50" y2="74.00" stroke="#ffe406"/>
<line x1="423.50" y1="74.00" x2="426.12" y2="75.22" stroke="#ffe406"/>
<line x1="426.12" y1="75.22" x2="428.74" y2="76.43" stroke="#ffe407"/>
<line x1="428.74" y1="76.43" x2="431.36" y2="77.65" stroke="#ffe307"/>
<line x1="431.36" y1="77.65" x2="433.98" y2="78.86" stroke="#ffe307"/>
<line x1="433.98" y1="78.86" x2="436.60" y2="80.08" stroke="#ffe307"/>
<line x1="436.60" y1="80.08" x2="439.22" y2="81.29" stroke="#ffe307"/>
<line x1="439.22" y1="81.29" x2="441.84" y2="82.50" stroke="#ffe207"/>
<line x1="441.84" y1="82.50" x2="444.46" y2="83.72" stroke="#ffe208"/>
<line x1="444.46" y1="83.72" x2="447.08" y2="84.93" stroke="#ffe208"/>
<line x1="447.08" y1="84.93" x2="449.70" y2="86.15" stroke="#ffe208"/>
<line x1="449.70" y1="86.15" x2="452.32" y2="87.36" stroke="#ffe108"/>
<line x1="452.32" y1="87.36" x2="454.94" y2="88.58" stroke="#ffe108"/>
</g>
<g fill="none" stroke-linecap="butt">
<line x1="61.50" y1="248.80" x2="61.50" y2="68.80" stroke="#3a3a3a" stroke-width="1.05"/>
<line x1="61.50" y1="248.80" x2="258.00" y2="332.00" stroke="#3a3a3a" stroke-width="1.05"/>
<line x1="258.00" y1="332.00" x2="514.30" y2="268.20" stroke="#3a3a3a" stroke-width="1.05"/>
<line x1="258.00" y1="332.00" x2="263.53" y2="334.34" stroke="#3a3a3a" stroke-width="1.05"/>
<line x1="300.72" y1="321.37" x2="306.24" y2="323.71" stroke="#3a3a3a" stroke-width="1.05"/>
<line x1="343.43" y1="310.73" x2="348.96" y2="313.07" stroke="#3a3a3a" stroke-width="1.05"/>
<line x1="386.15" y1="300.10" x2="391.68" y2="302.44" stroke="#3a3a3a" stroke-width="1.05"/>
<line x1="428.87" y1="289.47" x2="434.39" y2="291.81" stroke="#3a3a3a" stroke-width="1.05"/>
<line x1="471.58" y1="278.83" x2="477.11" y2="281.17" stroke="#3a3a3a" stroke-width="1.05"/>
<line x1="514.30" y1="268.20" x2="519.83" y2="270.54" stroke="#3a3a3a" stroke-width="1.05"/>
<line x1="61.50" y1="248.80" x2="55.68" y2="250.25" stroke="#3a3a3a" stroke-width="1.05"/>
<line x1="127.00" y1="276.53" x2="121.18" y2="277.98" stroke="#3a3a3a" stroke-width="1.05"/>
<line x1="192.50" y1="304.27" x2="186.68" y2="305.72" stroke="#3a3a3a" stroke-width="1.05"/>
<line x1="258.00" y1="332.00" x2="252.18" y2="333.45" stroke="#3a3a3a" stroke-width="1.05"/>
<line x1="61.50" y1="68.80" x2="55.97" y2="66.46" stroke="#3a3a3a" stroke-width="1.05"/>
<line x1="61.50" y1="113.80" x2="55.97" y2="111.46" stroke="#3a3a3a" stroke-width="1.05"/>
<line x1="61.50" y1="158.80" x2="55.97" y2="156.46" stroke="#3a3a3a" stroke-width="1.05"/>
<line x1="61.50" y1="203.80" x2="55.97" y2="201.46" stroke="#3a3a3a" stroke-width="1.05"/>
<line x1="61.50" y1="248.80" x2="55.97" y2="246.46" stroke="#3a3a3a" stroke-width="1.05"/>
</g>
<g font-family="'Liberation Sans', Arial, sans-serif" font-size="12" fill="#3d3d3d">
<text x="273.0" y="351.3">-0.6</text>
<text x="315.7" y="340.7">-0.4</text>
<text x="358.4" y="330.0">-0.2</text>
<text x="401.1" y="319.4">0</text>
<text x="443.9" y="308.8">0.2</text>
<text x="486.6" y="298.1">0.4</text>
<text x="529.3" y="287.5">0.6</text>
<text x="53.5" y="266.6" text-anchor="end">0</text>
<text x="119.0" y="294.3" text-anchor="end">-50</text>
<text x="184.5" y="322.1" text-anchor="end">-100</text>
<text x="250.0" y="349.8" text-anchor="end">-150</text>
<text x="55.0" y="71.8" text-anchor="end">0</text>
<text x="55.0" y="116.8" text-anchor="end">-100</text>
<text x="55.0" y="161.8" text-anchor="end">-200</text>
<text x="55.0" y="206.8" text-anchor="end">-300</text>
<text x="55.0" y="251.8" text-anchor="end">-400</text>
</g>
<g font-family="'Liberation Serif', 'Times New Roman', serif" fill="#000" stroke="#000" stroke-width="0.12">
<text transform="translate(424,328.5) rotate(-13.9)" text-anchor="middle" font-size="15.4" letter-spacing="-0.3" y="5">Commutation error <tspan font-style="italic" font-size="17.5">α</tspan> (rad)</text>
<text transform="translate(131.2,316.6) rotate(18.5)" text-anchor="middle" font-size="15.2" font-style="italic" y="4.5" stroke="none">E<tspan font-size="9.5" dy="2.6">1</tspan><tspan font-size="20" dy="-0.8" dx="0.8" font-style="normal">/</tspan><tspan dy="-1.8" dx="0.8">E</tspan><tspan font-size="9.5" dy="2.6">s</tspan></text>
<text transform="translate(21,182) rotate(-90)" text-anchor="middle" font-style="italic" stroke="none"><tspan x="4.2" font-size="20">f</tspan><tspan x="16.2" font-size="23" font-style="normal">(</tspan><tspan x="27.6" font-size="22">α</tspan><tspan x="39" font-size="23" font-style="normal">)</tspan></text>
<text x="275.2" y="385.6" text-anchor="middle" font-size="18" stroke="none" letter-spacing="0.6">(<tspan font-weight="bold" stroke="none">b</tspan>)</text>
</g>
</svg>
</body></html>
